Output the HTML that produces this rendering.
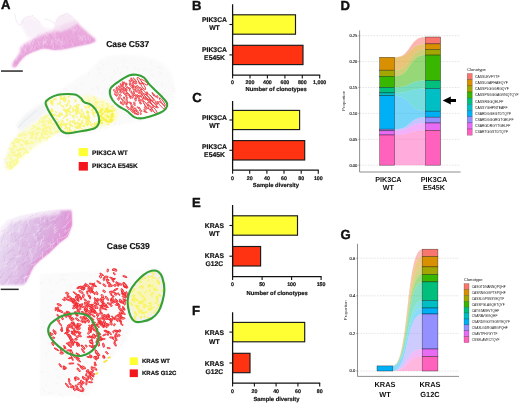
<!DOCTYPE html>
<html lang="en"><head><meta charset="utf-8"><title>Figure</title>
<style>html,body{margin:0;padding:0;background:#fff;}svg{display:block;}text{font-family:'Liberation Sans', Arial, Helvetica, sans-serif;text-rendering:geometricPrecision;}</style>
</head><body>
<svg width="520" height="403" viewBox="0 0 520 403">
<defs>
<filter id="b1" x="-10%" y="-10%" width="120%" height="120%"><feGaussianBlur stdDeviation="0.8"/></filter>
<filter id="b2" x="-10%" y="-10%" width="120%" height="120%"><feGaussianBlur stdDeviation="1.6"/></filter>
<filter id="b25" x="-20%" y="-20%" width="140%" height="140%"><feGaussianBlur stdDeviation="2.3"/></filter>
<filter id="b3" x="-20%" y="-20%" width="140%" height="140%"><feGaussianBlur stdDeviation="3"/></filter>
<filter id="b0" x="-10%" y="-10%" width="120%" height="120%"><feGaussianBlur stdDeviation="0.35"/></filter>
<linearGradient id="g537" x1="0" y1="0" x2="0" y2="1"><stop offset="0" stop-color="#fbf4fa"/><stop offset="0.3" stop-color="#efcdea"/><stop offset="0.6" stop-color="#e5aade"/><stop offset="1" stop-color="#e2a0d9"/></linearGradient>
<linearGradient id="g539" x1="0" y1="0" x2="1" y2="0.35"><stop offset="0" stop-color="#f2ecf9"/><stop offset="0.3" stop-color="#e4d0ed"/><stop offset="0.65" stop-color="#dcb2e1"/><stop offset="1" stop-color="#e190d5"/></linearGradient>
</defs>
<rect width="520" height="403" fill="#fff"/>
<text x="0.9" y="9.4" font-size="13.1" text-anchor="start" font-weight="bold" fill="#111" stroke="#111" stroke-width="0.4">A</text>
<clipPath id="c537"><path d="M12.8,67.2 C12.2,66.7 12.1,65.0 12.3,64.0 C12.5,63.0 13.2,62.2 14.0,61.0 C14.8,59.8 16.1,58.5 17.0,57.0 C17.9,55.5 19.2,53.8 19.6,52.0 C20.0,50.2 18.8,48.0 19.4,46.5 C20.0,45.0 21.2,44.1 23.1,42.7 C25.0,41.3 28.2,39.7 30.8,38.0 C33.4,36.3 35.6,34.1 38.5,32.5 C41.4,30.9 44.9,29.6 48.1,28.6 C51.3,27.6 54.8,27.5 57.7,26.6 C60.6,25.7 62.5,23.9 65.4,23.0 C68.3,22.1 72.4,20.4 75.0,21.0 C77.6,21.6 78.5,24.3 80.8,26.3 C83.0,28.3 86.0,30.9 88.5,33.1 C91.0,35.4 95.0,38.2 95.6,39.8 C96.2,41.4 94.8,41.7 92.3,42.7 C89.8,43.7 85.0,44.6 80.8,45.6 C76.6,46.6 71.5,47.8 67.3,48.5 C63.1,49.2 59.6,50.0 55.8,50.0 C51.9,50.0 47.7,48.3 44.2,48.5 C40.7,48.7 37.5,50.2 34.6,51.3 C31.7,52.3 29.0,53.6 27.0,54.8 C25.0,56.0 23.8,57.2 22.5,58.5 C21.2,59.8 20.1,61.1 19.0,62.5 C17.9,63.9 17.0,66.0 16.0,66.8 C15.0,67.6 13.4,67.7 12.8,67.2 Z"/></clipPath>
<g filter="url(#b1)">
<path d="M12.8,67.2 C12.2,66.7 12.1,65.0 12.3,64.0 C12.5,63.0 13.2,62.2 14.0,61.0 C14.8,59.8 16.1,58.5 17.0,57.0 C17.9,55.5 19.2,53.8 19.6,52.0 C20.0,50.2 18.8,48.0 19.4,46.5 C20.0,45.0 21.2,44.1 23.1,42.7 C25.0,41.3 28.2,39.7 30.8,38.0 C33.4,36.3 35.6,34.1 38.5,32.5 C41.4,30.9 44.9,29.6 48.1,28.6 C51.3,27.6 54.8,27.5 57.7,26.6 C60.6,25.7 62.5,23.9 65.4,23.0 C68.3,22.1 72.4,20.4 75.0,21.0 C77.6,21.6 78.5,24.3 80.8,26.3 C83.0,28.3 86.0,30.9 88.5,33.1 C91.0,35.4 95.0,38.2 95.6,39.8 C96.2,41.4 94.8,41.7 92.3,42.7 C89.8,43.7 85.0,44.6 80.8,45.6 C76.6,46.6 71.5,47.8 67.3,48.5 C63.1,49.2 59.6,50.0 55.8,50.0 C51.9,50.0 47.7,48.3 44.2,48.5 C40.7,48.7 37.5,50.2 34.6,51.3 C31.7,52.3 29.0,53.6 27.0,54.8 C25.0,56.0 23.8,57.2 22.5,58.5 C21.2,59.8 20.1,61.1 19.0,62.5 C17.9,63.9 17.0,66.0 16.0,66.8 C15.0,67.6 13.4,67.7 12.8,67.2 Z" fill="#eaaade"/>
</g>
<g filter="url(#b25)">
<path d="M12,48 L17.2,42.5 L21.1,38.7 L28.8,34.0 L36.5,28.5 L46.1,24.6 L53,23" fill="none" stroke="#fff" stroke-width="14" opacity="0.95" stroke-linejoin="round"/>
<path d="M50,21.5 L55.7,19.6 L63.4,16.0 L74,13.0 L80,13" fill="none" stroke="#fff" stroke-width="12" opacity="0.9" stroke-linejoin="round"/>
<path d="M28,36 L38.5,30 L52,27" fill="none" stroke="#fff" stroke-width="10" opacity="0.7" stroke-linecap="round"/>
<path d="M80,17 L86.8,23.3 L94.5,30.1" fill="none" stroke="#fff" stroke-width="8" opacity="0.6" stroke-linecap="round"/>
</g>
<g filter="url(#b2)" clip-path="url(#c537)">
<path d="M95,40.5 L92.3,42.7 L80.8,45.6 L67.3,48.5 L55.8,50 L44.2,48.5 L34.6,51.3 L27,54.8 L22.5,58.5 L19,62.5 L16,66.8" fill="none" stroke="#e293d5" stroke-width="4" opacity="0.6"/>
</g>
<g filter="url(#b1)">
<path d="M21.0,21.0 C22.0,18.7 27.2,17.0 30.0,17.0 C32.8,17.0 35.7,19.3 38.0,21.0 C40.3,22.7 42.0,25.7 44.0,27.0 C46.0,28.3 50.7,27.8 50.0,29.0 C49.3,30.2 43.3,32.5 40.0,34.0 C36.7,35.5 32.7,38.5 30.0,38.0 C27.3,37.5 25.5,33.8 24.0,31.0 C22.5,28.2 20.0,23.3 21.0,21.0 Z" fill="#f8eef7" opacity="0.8"/>
<path d="M55.0,24.0 C55.7,21.5 57.8,17.7 60.0,16.0 C62.2,14.3 65.7,13.5 68.0,14.0 C70.3,14.5 72.3,17.5 74.0,19.0 C75.7,20.5 79.3,21.2 78.0,23.0 C76.7,24.8 69.7,28.7 66.0,30.0 C62.3,31.3 57.8,32.0 56.0,31.0 C54.2,30.0 54.3,26.5 55.0,24.0 Z" fill="#f6e9f4" opacity="0.8"/>
</g>
<g filter="url(#b0)" fill="none" stroke="#efd3ea" stroke-width="0.5">
<path d="M14.5,13.5 C16,16 15,19 17,22 C18,25 21,26 22,23 C23,19 26,16 29,17 C32,16 34,14 33,17 C36,19 38,20 40,23"/>
<path d="M56,22 C57,18 60,15 63,16 C65,13 69,13 70,16 C73,16 74,19 75,21"/>
<path d="M44,20 C46,18 48,21 50,20 C52,23 55,22 56,25"/>
</g>
<g filter="url(#b0)" clip-path="url(#c537)">
<path d="M16.2,60.7Q16.7,61.9 17.7,62.6M27.4,47.9Q27.0,49.0 27.5,51.0M29.5,52.4Q29.4,53.7 29.5,55.4M32.6,47.5Q32.0,50.3 31.7,52.1M61.8,47.8Q60.7,49.9 59.6,51.8M35.5,40.2Q34.0,41.9 33.2,44.2M52.7,48.2Q52.8,49.3 53.2,50.2M55.2,49.5Q55.1,50.9 54.3,51.5M78.8,39.1Q78.2,39.8 78.6,41.4M14.4,61.4Q14.8,62.3 15.5,63.6M24.5,46.1Q23.9,47.8 22.6,49.2M34.1,37.9Q34.5,39.9 34.4,42.2M82.3,43.2Q83.9,45.2 85.1,46.5M93.2,39.3Q92.4,41.3 92.3,44.0M41.5,46.3Q41.1,47.3 40.4,48.1M41.8,42.2Q42.7,44.5 42.9,46.8M56.6,45.2Q57.0,46.9 58.4,48.0M26.7,42.9Q27.3,44.6 28.0,46.3M76.6,44.5Q75.6,46.5 74.7,48.3M54.4,44.7Q54.5,46.8 54.7,48.0M25.2,54.1Q25.1,54.9 24.2,56.3M91.6,39.4Q90.5,41.7 90.0,44.1M55.2,36.7Q54.5,38.2 54.7,39.6M77.2,33.5Q76.8,34.7 75.8,36.4M69.6,40.6Q69.8,42.6 69.3,45.5M84.2,42.0Q83.1,43.2 82.5,45.2M56.2,32.0Q56.7,32.7 57.9,33.8M36.5,44.1Q37.3,44.7 38.6,46.2M73.4,46.5Q72.2,48.3 71.8,49.5M48.3,43.9Q48.7,45.9 48.7,47.0M46.0,37.1Q47.0,37.7 47.6,38.9M68.2,34.0Q68.1,35.4 68.7,36.9M38.1,37.5Q38.3,38.7 38.6,40.6M31.7,48.1Q31.7,50.5 31.3,52.3M24.8,54.5Q24.8,55.6 24.0,56.5M23.9,45.2Q23.6,47.4 22.5,49.5M70.1,31.6Q70.0,33.1 70.8,33.9M54.2,45.7Q53.7,46.4 53.7,47.9M44.2,43.1Q44.2,44.9 44.0,47.4M36.5,44.9Q38.0,45.9 38.6,47.6M49.7,33.4Q51.0,35.1 52.2,37.6M49.8,35.0Q50.7,35.9 51.0,37.8M36.4,38.2Q36.3,40.6 36.4,43.2M20.8,59.6Q21.6,61.7 23.0,63.8M66.0,34.2Q67.4,36.0 68.9,38.0M33.8,47.3Q34.2,49.4 34.8,51.4M43.7,36.6Q42.6,37.8 42.3,39.1M33.0,39.5Q32.5,41.3 31.3,44.0M86.9,42.9Q87.6,44.2 87.5,44.8M25.2,45.1Q24.9,47.8 24.3,49.9M50.4,46.5Q51.8,48.5 52.5,50.3M33.3,50.4Q34.1,51.4 34.8,52.1M73.9,44.3Q75.1,46.3 75.7,48.9M89.9,36.2Q88.9,38.7 88.8,40.9M43.8,38.3Q44.5,39.0 45.7,40.0M80.8,41.0Q81.7,42.3 81.8,44.2M17.5,63.5Q16.5,65.2 15.7,67.4M38.7,33.7Q37.8,36.1 36.8,37.6M91.8,38.9Q92.4,40.2 92.2,42.1M62.9,36.1Q62.0,37.3 62.0,39.1M75.0,32.4Q74.9,34.0 75.1,34.5M71.4,41.6Q71.5,43.5 71.3,44.9M36.8,47.2Q37.6,48.7 38.9,50.8M60.5,36.1Q60.5,38.9 61.0,41.0M33.5,48.7Q34.3,49.8 35.4,50.5M70.2,39.9Q69.3,41.3 68.8,42.5M64.1,38.1Q64.7,39.7 65.1,40.4M45.6,44.9Q46.4,46.4 46.7,47.0M22.1,48.7Q22.8,50.6 23.6,52.3M49.5,41.3Q49.5,43.4 50.0,45.1M77.3,42.2Q78.0,43.4 79.4,44.9M77.1,44.6Q78.0,45.9 78.1,48.0M24.3,44.2Q24.8,45.2 25.4,46.6M21.9,45.5Q21.3,47.0 20.7,48.4M16.3,58.9Q15.4,60.7 14.3,62.2M63.6,41.0Q64.7,43.0 66.4,44.7M77.5,39.6Q77.4,40.4 77.3,41.6M46.1,32.0Q47.7,33.9 49.2,35.0M63.0,44.4Q64.0,46.1 65.4,48.1M16.3,62.1Q18.2,63.8 19.3,64.9M59.8,35.2Q61.5,36.3 62.3,38.1M89.7,36.9Q90.6,37.8 91.1,38.4M17.8,61.1Q19.0,62.6 20.8,64.9M15.2,60.2Q14.7,61.8 13.9,63.9M71.9,38.0Q72.6,40.6 72.5,42.9M19.9,58.9Q20.6,60.2 20.9,60.6M27.7,43.8Q29.1,45.7 29.7,47.9M30.2,53.3Q29.7,54.8 30.0,55.6M64.6,37.4Q63.5,39.3 63.3,40.3M31.8,42.3Q31.4,44.2 30.8,46.4M73.4,41.1Q74.3,42.5 75.8,44.2M87.9,40.9Q88.2,43.2 88.9,45.0M20.7,47.5Q21.1,49.9 21.2,51.7M29.8,52.6Q31.6,54.2 32.4,56.0M47.2,40.4Q47.6,42.0 48.5,43.2M65.1,42.7Q64.3,44.0 63.8,45.0M34.6,38.4Q35.0,40.0 36.3,41.2M37.4,43.2Q37.1,45.5 37.0,47.0M13.3,65.0Q13.8,65.8 15.0,67.1M77.0,37.0Q76.0,39.7 75.6,41.5M28.7,53.0Q29.6,55.1 29.6,57.1M23.9,43.8Q24.9,45.2 25.9,46.6M51.3,47.0Q51.9,49.6 52.6,51.3M54.8,43.4Q54.8,44.3 54.4,45.5M84.1,37.9Q83.3,39.6 83.2,41.4M47.5,46.6Q46.9,48.0 46.5,49.3M34.9,44.4Q34.2,46.1 33.8,48.2M37.2,48.1Q39.0,50.1 40.2,51.2M30.0,51.8Q31.0,53.0 32.7,55.2M88.8,41.6Q89.2,43.7 88.8,44.8" fill="none" stroke="#d877c8" stroke-width="0.5" stroke-linecap="round" opacity="0.33"/>
<path d="M51.9,40.1Q51.5,40.9 51.7,42.4M69.3,26.6Q71.2,28.1 72.4,30.4M71.4,42.3Q72.9,44.6 73.5,46.6M73.1,28.7Q72.9,30.8 73.7,33.2M60.2,41.3Q61.7,42.8 62.5,44.6M47.1,38.8Q46.4,40.8 45.0,42.6M81.2,36.3Q80.6,38.1 79.2,39.6M38.0,40.8Q38.9,43.1 39.4,45.3M34.2,40.5Q34.0,41.8 33.0,44.1M88.4,37.0Q88.8,37.9 88.5,39.3M31.8,49.0Q31.8,50.8 32.5,53.0M31.7,47.8Q30.8,49.9 29.8,52.1M61.4,29.7Q62.3,30.7 62.8,31.9M59.3,39.6Q59.9,41.5 61.4,42.5M25.3,48.6Q25.0,49.6 25.6,51.6M52.8,47.2Q52.4,49.0 52.1,49.9M84.8,42.2Q83.3,44.4 82.7,46.5M45.0,41.7Q44.9,42.5 43.8,43.9M24.4,55.9Q23.9,58.4 23.8,60.7M75.4,25.9Q75.7,27.2 76.8,28.5M24.2,52.3Q23.7,52.8 23.9,54.3M64.6,41.9Q64.1,43.5 63.7,44.8M58.4,27.7Q59.3,29.4 60.4,31.8M53.2,35.7Q55.1,37.1 56.1,39.4M29.9,43.1Q30.2,44.2 31.2,45.6M56.2,29.6Q55.2,31.1 54.7,32.6M19.6,49.1Q20.0,50.8 21.1,52.3M60.9,30.3Q60.5,31.6 60.4,32.5M16.9,58.5Q16.8,59.9 15.9,61.3M13.6,63.1Q12.7,64.3 12.3,66.2M81.6,38.0Q82.0,38.7 82.3,40.3M55.6,41.6Q56.9,43.3 57.8,44.4M84.4,35.8Q85.2,37.4 85.6,39.8M53.5,44.7Q53.2,47.0 53.8,48.3M20.3,53.3Q21.4,54.3 22.2,55.1M72.0,23.1Q72.2,24.0 72.3,25.4M23.7,48.3Q25.1,50.5 26.4,52.1M90.4,39.0Q89.9,40.4 89.3,42.0M40.5,32.1Q41.3,33.9 41.1,35.0M42.7,45.5Q42.9,46.1 43.1,47.7M35.1,46.1Q34.7,48.5 34.8,50.8M36.3,35.1Q37.5,37.1 38.6,38.2M55.1,33.4Q54.9,34.7 55.3,36.8M46.2,34.3Q47.1,35.7 47.9,36.4M63.1,47.3Q64.3,49.0 65.1,50.7M58.0,49.3Q58.3,50.6 59.2,52.5M55.0,38.7Q56.2,40.4 57.7,41.3M32.2,46.7Q33.4,48.1 33.6,49.9M76.6,28.3Q76.1,28.9 75.8,30.4M44.6,41.3Q45.6,43.4 47.2,44.6M73.8,28.1Q74.5,29.7 74.8,31.0M61.1,44.0Q61.1,46.7 61.2,48.9M43.9,41.9Q43.4,43.4 43.3,45.2M58.6,38.8Q58.5,40.2 57.7,41.6M49.3,29.5Q50.2,30.8 51.0,31.9M29.3,40.7Q30.6,42.4 32.7,44.0M76.7,45.9Q77.0,48.5 77.2,50.9M44.7,37.5Q45.8,39.5 46.0,41.1M43.5,39.5Q43.9,41.8 43.6,43.2M52.8,41.3Q51.6,43.0 50.7,44.6M80.3,28.9Q79.8,30.2 78.7,31.4M36.5,44.6Q37.1,46.3 38.3,47.6M62.5,37.3Q61.9,39.7 62.2,42.3M77.9,35.2Q79.2,36.9 80.9,38.0M28.7,44.0Q29.6,45.7 30.3,47.3M25.4,56.1Q25.8,57.0 26.8,57.9M41.4,41.8Q42.8,43.0 43.5,44.1M92.2,41.3Q92.7,43.5 94.0,44.8M83.5,35.5Q82.6,37.9 82.0,40.0M85.2,43.4Q85.9,45.2 87.2,47.3" fill="none" stroke="#f7e6f5" stroke-width="0.5" stroke-linecap="round" opacity="0.7"/>
</g>
<rect x="1" y="70.3" width="21.8" height="1.5" fill="#2a2a2a"/>
<text x="106.2" y="47.3" font-size="8.5" text-anchor="start" font-weight="bold" fill="#111" stroke="#111" stroke-width="0.18">Case C537</text>
<g filter="url(#b2)">
<path d="M5.0,168.0 C4.0,167.3 3.5,166.0 4.0,163.0 C4.5,160.0 6.7,153.8 8.0,150.0 C9.3,146.2 10.0,143.2 12.0,140.0 C14.0,136.8 17.0,134.2 20.0,131.0 C23.0,127.8 26.7,124.2 30.0,121.0 C33.3,117.8 37.0,114.8 40.0,112.0 C43.0,109.2 45.0,107.3 48.0,104.0 C51.0,100.7 54.0,95.7 58.0,92.0 C62.0,88.3 66.7,85.7 72.0,82.0 C77.3,78.3 85.3,73.7 90.0,70.0 C94.7,66.3 95.8,62.5 100.0,60.0 C104.2,57.5 108.3,55.7 115.0,55.0 C121.7,54.3 132.5,54.8 140.0,56.0 C147.5,57.2 154.7,58.8 160.0,62.0 C165.3,65.2 169.7,69.5 172.0,75.0 C174.3,80.5 174.7,89.5 174.0,95.0 C173.3,100.5 172.0,104.2 168.0,108.0 C164.0,111.8 155.5,115.7 150.0,118.0 C144.5,120.3 140.0,121.0 135.0,122.0 C130.0,123.0 125.8,122.7 120.0,124.0 C114.2,125.3 106.7,128.2 100.0,130.0 C93.3,131.8 86.7,133.8 80.0,135.0 C73.3,136.2 64.7,137.2 60.0,137.0 C55.3,136.8 55.3,133.2 52.0,134.0 C48.7,134.8 43.7,139.7 40.0,142.0 C36.3,144.3 33.3,145.7 30.0,148.0 C26.7,150.3 23.3,152.8 20.0,156.0 C16.7,159.2 12.5,165.0 10.0,167.0 C7.5,169.0 6.0,168.7 5.0,168.0 Z" fill="#fafafb"/>
</g>
<g filter="url(#b0)">
<path d="M53.4,118.5Q53.0,119.1 53.2,120.2M144.4,94.7Q144.7,94.7 146.1,95.9M124.0,65.5Q122.2,65.9 122.1,66.5M126.8,97.6Q129.4,98.8 129.9,100.0M26.3,134.8Q25.4,134.8 24.2,135.5M45.9,123.7Q44.0,124.2 44.0,124.5M96.2,85.6Q97.2,87.3 97.5,88.8M56.8,99.1Q58.4,99.1 58.3,100.0M116.7,67.3Q117.3,68.1 117.9,69.9M125.8,86.9Q125.3,88.2 123.4,87.6M150.4,69.9Q151.9,70.4 152.6,70.1M63.7,101.6Q62.2,103.7 61.9,104.2M63.9,126.1Q65.8,127.0 65.7,126.7M125.1,59.6Q125.1,59.5 126.5,60.4M56.9,127.1Q56.2,128.1 55.1,128.1M120.3,94.4Q120.3,94.3 119.0,95.2M11.3,151.5Q12.2,150.8 14.3,152.0M138.5,78.7Q136.2,80.6 135.9,81.4M144.9,86.8Q143.9,87.9 143.2,87.1M122.7,103.4Q120.5,104.3 120.0,104.0M141.0,84.5Q139.9,84.8 138.1,84.8M64.8,101.5Q64.5,102.8 66.0,103.2M118.0,81.9Q117.8,84.0 117.9,84.0M63.7,88.8Q65.6,89.2 67.1,90.4M142.6,117.0Q144.5,118.1 145.5,118.7M145.3,67.9Q145.1,67.9 146.2,69.9M123.3,105.6Q123.7,106.1 124.2,107.1M5.8,167.1Q8.0,168.7 9.1,168.0M99.8,67.3Q99.4,68.7 100.4,70.0M5.4,158.9Q5.8,160.7 4.2,161.8M161.5,74.0Q160.6,74.5 158.6,75.8M58.4,96.6Q59.8,97.3 59.6,99.3M88.9,72.8Q87.6,74.3 88.4,75.0M36.4,136.7Q36.6,137.7 35.1,137.4M76.3,87.0Q76.1,88.2 76.2,90.2M78.6,130.3Q76.1,130.3 75.2,131.3M79.3,118.7Q79.3,118.9 81.3,120.0M107.6,88.6Q106.1,89.1 104.7,89.0M36.1,131.7Q37.8,131.7 38.6,132.4M102.7,102.1Q102.2,102.5 102.2,104.8M97.2,67.7Q97.5,69.1 99.7,70.3M46.8,110.3Q48.0,110.3 48.9,112.2M91.2,121.5Q90.5,122.2 91.7,123.1M150.8,117.2Q148.7,119.5 148.4,119.5M126.7,66.5Q126.5,69.3 127.9,69.9M27.3,142.7Q27.6,142.1 28.5,143.8M105.0,79.1Q104.2,80.9 103.7,80.9M152.0,74.0Q153.5,75.9 153.6,76.9M144.4,68.9Q144.6,70.3 142.7,70.7M140.5,67.8Q138.9,68.7 138.5,71.0M102.8,67.8Q104.3,67.3 104.3,68.4M98.2,87.8Q98.0,90.2 99.4,90.8M70.7,108.8Q69.6,110.1 69.1,109.6M107.8,63.6Q109.7,64.5 109.7,65.0M65.4,107.9Q65.5,108.1 66.4,110.6M102.5,92.7Q103.7,92.4 102.7,94.3M28.8,130.8Q29.5,131.1 30.2,132.5M100.7,114.7Q97.7,114.9 96.8,114.8M111.9,96.0Q111.9,97.7 110.1,97.3M119.8,89.4Q118.7,90.9 117.5,91.8M63.6,117.2Q64.4,117.0 66.0,117.7M152.1,106.2Q151.3,106.7 151.5,108.8M103.2,64.0Q104.1,64.6 102.7,65.9M135.7,103.4Q137.4,104.7 139.2,104.2M49.6,134.6Q49.2,135.8 50.2,136.5M37.4,137.9Q35.8,140.5 36.2,141.6M152.8,93.6Q153.7,95.0 154.4,94.6M72.9,131.7Q73.9,130.8 75.2,132.1M110.5,92.8Q109.5,94.0 109.6,95.4M6.3,159.6Q3.8,159.9 3.4,159.7M127.1,92.2Q127.0,93.2 128.6,93.0M19.3,147.0Q19.3,148.4 19.0,149.5M115.8,123.0Q114.4,124.3 114.2,124.7M51.3,114.1Q51.9,114.9 54.8,115.7M89.3,117.7Q88.0,117.1 87.4,118.1M34.2,138.4Q34.7,140.0 37.5,140.2M88.8,126.9Q87.8,127.2 86.9,128.3M157.6,67.2Q159.6,67.3 160.9,67.9M150.9,61.8Q152.3,64.2 151.7,64.6M110.6,80.3Q111.2,80.5 112.1,81.9M38.5,140.8Q40.7,141.4 40.4,143.3M100.8,72.7Q98.6,74.0 97.5,74.2M143.9,86.9Q144.9,87.3 144.0,89.3M120.1,122.5Q120.7,123.1 119.4,125.1M154.2,95.7Q151.9,97.3 151.1,97.2M173.1,88.6Q175.0,87.7 174.6,89.2M159.0,72.0Q159.8,73.0 162.2,73.0M172.4,90.8Q174.1,90.6 175.9,92.1M120.5,71.7Q119.6,73.0 120.5,75.1M128.3,85.8Q128.0,85.5 129.6,87.3M90.5,101.1Q89.9,102.9 91.7,103.7M115.0,116.5Q115.4,118.6 113.4,118.8M126.0,100.1Q127.4,101.0 126.6,102.3M69.5,101.3Q67.4,101.6 67.7,101.3M161.5,83.8Q161.4,84.5 162.6,86.6M23.7,150.3Q21.0,151.2 20.4,151.2M59.1,128.0Q61.1,128.0 60.7,130.4M90.7,121.9Q92.5,123.9 93.7,124.6M68.4,135.5Q68.6,137.1 68.2,138.0M58.8,126.1Q60.1,126.4 60.9,127.9M158.5,108.5Q158.3,109.5 158.3,111.8M93.9,114.2Q92.1,114.2 91.5,115.8M143.7,107.0Q143.3,108.7 141.1,108.6M92.6,106.2Q94.1,107.4 93.2,107.8M80.4,109.1Q78.3,110.7 77.8,111.5M66.4,113.8Q66.4,114.5 67.2,115.8M101.0,61.5Q99.8,61.9 99.8,63.0M150.0,77.8Q149.3,78.3 148.0,79.3M66.4,135.5Q67.1,137.3 67.1,137.7M63.9,98.5Q61.7,100.0 61.0,99.2M125.0,97.1Q124.8,99.1 126.6,99.8M68.5,114.4Q67.8,113.7 65.9,115.3M104.8,107.3Q103.4,107.8 102.4,108.5M155.4,104.7Q156.1,106.5 155.3,107.4M129.9,100.4Q129.6,101.7 129.0,101.7M134.9,68.3Q136.6,67.6 136.9,68.8M19.0,140.1Q20.9,140.9 21.9,140.6M121.5,102.2Q120.8,103.1 118.5,102.2M172.1,86.0Q172.1,87.8 173.3,87.8M98.5,112.7Q99.3,113.8 101.0,113.1M67.5,107.5Q66.9,109.5 66.8,110.1M57.4,115.2Q56.7,115.9 56.9,117.7M139.3,87.9Q138.2,88.8 136.7,89.8M162.9,105.3Q164.6,105.9 166.6,105.9M12.3,152.5Q11.3,154.3 11.8,154.1M88.7,131.1Q89.0,133.2 90.6,133.7M20.2,143.6Q21.1,144.9 21.2,147.4M122.3,59.7Q122.7,61.3 124.4,62.6M58.2,118.3Q56.9,119.4 56.4,118.9M29.8,145.3Q29.4,146.9 31.1,149.1M112.9,80.2Q114.2,81.2 115.7,81.1M77.1,131.7Q75.4,133.2 75.5,132.6M93.5,87.9Q92.6,89.7 91.8,89.5M95.9,65.0Q97.5,66.5 97.1,66.4M168.5,93.9Q166.5,95.2 166.6,97.3M80.4,83.0Q82.5,83.4 83.3,84.7M114.0,69.9Q114.3,71.6 115.3,72.5M164.1,92.5Q162.4,92.3 160.7,93.9M20.0,154.3Q20.1,154.3 20.0,156.1M95.0,112.3Q95.8,112.3 97.0,113.7M152.2,111.7Q155.1,111.8 155.9,111.9M138.5,119.5Q140.3,119.7 140.9,121.6M70.9,113.5Q68.8,114.1 68.8,114.3M43.8,122.3Q41.7,123.0 41.6,125.0M5.8,161.3Q5.2,161.9 6.6,163.7M138.6,109.2Q138.5,110.7 136.5,111.0M112.2,77.5Q111.5,77.2 109.5,78.9M126.0,94.5Q125.4,95.2 124.1,94.7M26.9,148.6Q25.7,150.0 23.3,149.7M137.9,83.5Q138.5,84.6 140.6,85.9" fill="none" stroke="#e9e9ec" stroke-width="0.5" stroke-linecap="round" opacity="0.7"/>
</g>
<path d="M16,125 L24,116 L34,108 L44,102 L48,108 L41,117 L31,124 L21,132 Z" fill="#f4f4f6" filter="url(#b2)"/>
<path d="M18,128 L24,121 L30,116 L37,110" fill="none" stroke="#bfe3df" stroke-width="0.5"/>
<g filter="url(#b2)">
<path d="M5.0,168.6 C4.1,167.0 5.2,162.3 5.6,160.0 C6.0,157.7 6.5,157.9 7.4,155.0 C8.3,152.1 9.0,146.4 11.2,142.8 C13.4,139.2 17.4,136.3 20.5,133.5 C23.6,130.7 26.7,128.2 29.8,126.0 C32.9,123.8 36.2,122.5 39.0,120.5 C41.8,118.5 44.8,114.4 46.6,114.0 C48.4,113.6 48.4,116.0 50.0,118.0 C51.6,120.0 54.3,123.8 56.0,126.0 C57.7,128.2 60.3,129.6 60.0,131.0 C59.7,132.4 56.9,132.7 54.0,134.5 C51.1,136.3 46.5,139.5 42.8,142.0 C39.1,144.5 35.1,146.6 31.7,149.4 C28.3,152.2 25.7,155.3 22.3,158.7 C18.9,162.0 14.1,167.8 11.2,169.5 C8.3,171.2 5.9,170.2 5.0,168.6 Z" fill="#fcfbb4" opacity="0.6"/>
<path d="M82.0,97.0 C82.5,95.8 85.5,94.8 88.0,95.0 C90.5,95.2 94.0,97.0 97.0,98.0 C100.0,99.0 103.5,99.8 106.0,101.0 C108.5,102.2 110.0,103.2 112.0,105.0 C114.0,106.8 117.2,109.7 118.0,112.0 C118.8,114.3 118.3,117.0 117.0,119.0 C115.7,121.0 112.8,122.7 110.0,124.0 C107.2,125.3 102.3,126.2 100.0,127.0 C97.7,127.8 96.2,129.5 96.0,129.0 C95.8,128.5 98.4,126.0 99.0,124.0 C99.6,122.0 100.0,119.3 99.5,117.0 C99.0,114.7 97.4,112.0 96.0,110.0 C94.6,108.0 92.8,106.2 91.0,105.0 C89.2,103.8 86.5,103.8 85.0,102.5 C83.5,101.2 81.5,98.2 82.0,97.0 Z" fill="#fcfbc0" opacity="0.8"/>
</g>
<path d="M45.7,102.2 C46.2,100.8 47.8,99.3 49.8,98.1 C51.8,96.9 55.0,95.5 58.0,94.8 C61.0,94.1 64.8,94.0 67.8,94.0 C70.8,94.0 73.8,94.1 76.0,94.8 C78.2,95.5 79.5,96.9 80.8,98.1 C82.1,99.3 82.4,101.1 84.1,102.2 C85.8,103.3 88.8,103.4 90.7,104.6 C92.6,105.8 94.2,107.5 95.6,109.5 C96.9,111.5 98.3,114.6 98.8,116.9 C99.3,119.2 99.5,121.5 98.8,123.4 C98.1,125.3 97.2,127.1 94.7,128.3 C92.2,129.5 87.8,130.1 84.1,130.8 C80.4,131.5 75.7,132.3 72.7,132.7 C69.7,133.1 68.0,133.5 66.1,133.2 C64.2,132.9 63.0,132.7 61.2,130.8 C59.4,128.9 57.4,124.8 55.5,121.8 C53.6,118.8 51.3,115.4 49.8,112.8 C48.3,110.2 47.2,108.0 46.5,106.2 C45.8,104.4 45.2,103.6 45.7,102.2 Z" fill="#fbfbf4"/>
<g filter="url(#b0)">
<g fill="#faf88a" stroke="#f9f65a" stroke-width="0.6" opacity="0.62"><ellipse cx="18.0" cy="141.3" rx="1.4" ry="0.6" transform="rotate(-51 18.0 141.3)"/><ellipse cx="50.4" cy="136.5" rx="0.7" ry="0.6" transform="rotate(-84 50.4 136.5)"/><ellipse cx="51.0" cy="132.8" rx="1.1" ry="0.6" transform="rotate(-39 51.0 132.8)"/><ellipse cx="11.1" cy="159.1" rx="1.0" ry="0.6" transform="rotate(-44 11.1 159.1)"/><ellipse cx="30.2" cy="132.6" rx="0.8" ry="0.5" transform="rotate(-4 30.2 132.6)"/><ellipse cx="19.9" cy="152.9" rx="1.0" ry="0.6" transform="rotate(-93 19.9 152.9)"/><ellipse cx="49.4" cy="120.7" rx="1.2" ry="0.4" transform="rotate(-27 49.4 120.7)"/><ellipse cx="15.4" cy="160.1" rx="0.7" ry="0.5" transform="rotate(-66 15.4 160.1)"/><ellipse cx="49.5" cy="127.9" rx="0.9" ry="0.4" transform="rotate(-126 49.5 127.9)"/><ellipse cx="33.3" cy="134.9" rx="1.4" ry="0.7" transform="rotate(-70 33.3 134.9)"/><ellipse cx="39.3" cy="138.6" rx="1.5" ry="0.5" transform="rotate(-74 39.3 138.6)"/><ellipse cx="25.7" cy="143.0" rx="1.2" ry="0.7" transform="rotate(-95 25.7 143.0)"/><ellipse cx="32.4" cy="134.2" rx="1.5" ry="0.4" transform="rotate(-5 32.4 134.2)"/><ellipse cx="35.7" cy="138.8" rx="1.3" ry="0.7" transform="rotate(-100 35.7 138.8)"/><ellipse cx="12.5" cy="166.9" rx="1.4" ry="0.4" transform="rotate(-91 12.5 166.9)"/><ellipse cx="20.4" cy="156.3" rx="0.9" ry="0.5" transform="rotate(-72 20.4 156.3)"/><ellipse cx="42.2" cy="135.1" rx="1.5" ry="0.6" transform="rotate(-54 42.2 135.1)"/><ellipse cx="13.9" cy="145.9" rx="1.3" ry="0.6" transform="rotate(-75 13.9 145.9)"/><ellipse cx="13.9" cy="155.0" rx="0.8" ry="0.5" transform="rotate(-4 13.9 155.0)"/><ellipse cx="19.3" cy="135.9" rx="0.9" ry="0.7" transform="rotate(-27 19.3 135.9)"/><ellipse cx="47.8" cy="131.5" rx="0.7" ry="0.6" transform="rotate(-98 47.8 131.5)"/><ellipse cx="20.1" cy="134.1" rx="1.4" ry="0.5" transform="rotate(-29 20.1 134.1)"/><ellipse cx="20.9" cy="149.0" rx="0.8" ry="0.6" transform="rotate(43 20.9 149.0)"/><ellipse cx="36.2" cy="133.6" rx="1.4" ry="0.4" transform="rotate(-18 36.2 133.6)"/><ellipse cx="42.3" cy="136.9" rx="1.3" ry="0.4" transform="rotate(-63 42.3 136.9)"/><ellipse cx="45.8" cy="133.0" rx="1.0" ry="0.6" transform="rotate(22 45.8 133.0)"/><ellipse cx="27.7" cy="141.9" rx="1.4" ry="0.6" transform="rotate(-81 27.7 141.9)"/><ellipse cx="36.6" cy="129.2" rx="1.4" ry="0.6" transform="rotate(-62 36.6 129.2)"/><ellipse cx="51.1" cy="122.4" rx="1.2" ry="0.6" transform="rotate(-138 51.1 122.4)"/><ellipse cx="38.7" cy="129.3" rx="0.7" ry="0.6" transform="rotate(-40 38.7 129.3)"/><ellipse cx="50.3" cy="129.2" rx="0.8" ry="0.4" transform="rotate(17 50.3 129.2)"/><ellipse cx="24.8" cy="152.8" rx="0.7" ry="0.6" transform="rotate(-2 24.8 152.8)"/><ellipse cx="39.6" cy="121.7" rx="0.8" ry="0.4" transform="rotate(-95 39.6 121.7)"/><ellipse cx="50.5" cy="120.1" rx="0.8" ry="0.6" transform="rotate(-21 50.5 120.1)"/><ellipse cx="23.7" cy="132.4" rx="1.1" ry="0.4" transform="rotate(-32 23.7 132.4)"/><ellipse cx="47.8" cy="115.6" rx="1.1" ry="0.5" transform="rotate(-70 47.8 115.6)"/><ellipse cx="27.0" cy="142.4" rx="1.1" ry="0.4" transform="rotate(62 27.0 142.4)"/><ellipse cx="30.0" cy="133.0" rx="0.8" ry="0.5" transform="rotate(-152 30.0 133.0)"/><ellipse cx="43.7" cy="124.9" rx="0.8" ry="0.5" transform="rotate(-77 43.7 124.9)"/><ellipse cx="44.6" cy="117.5" rx="0.8" ry="0.4" transform="rotate(-158 44.6 117.5)"/><ellipse cx="39.7" cy="128.6" rx="0.9" ry="0.4" transform="rotate(-136 39.7 128.6)"/><ellipse cx="50.2" cy="121.1" rx="0.7" ry="0.5" transform="rotate(-145 50.2 121.1)"/><ellipse cx="32.9" cy="125.6" rx="0.8" ry="0.4" transform="rotate(21 32.9 125.6)"/><ellipse cx="51.3" cy="121.4" rx="0.6" ry="0.4" transform="rotate(-79 51.3 121.4)"/><ellipse cx="37.2" cy="135.0" rx="0.6" ry="0.6" transform="rotate(-29 37.2 135.0)"/><ellipse cx="7.4" cy="163.3" rx="1.1" ry="0.4" transform="rotate(-90 7.4 163.3)"/><ellipse cx="22.8" cy="148.7" rx="1.4" ry="0.5" transform="rotate(-60 22.8 148.7)"/><ellipse cx="16.0" cy="139.3" rx="1.1" ry="0.6" transform="rotate(-64 16.0 139.3)"/><ellipse cx="43.9" cy="138.4" rx="0.7" ry="0.6" transform="rotate(9 43.9 138.4)"/><ellipse cx="27.0" cy="151.3" rx="1.2" ry="0.4" transform="rotate(-23 27.0 151.3)"/><ellipse cx="45.8" cy="116.1" rx="0.7" ry="0.7" transform="rotate(-36 45.8 116.1)"/><ellipse cx="10.7" cy="168.0" rx="1.2" ry="0.4" transform="rotate(-52 10.7 168.0)"/><ellipse cx="49.4" cy="123.0" rx="1.1" ry="0.4" transform="rotate(-18 49.4 123.0)"/><ellipse cx="49.0" cy="118.3" rx="0.6" ry="0.5" transform="rotate(-134 49.0 118.3)"/><ellipse cx="21.0" cy="136.0" rx="0.6" ry="0.6" transform="rotate(45 21.0 136.0)"/><ellipse cx="11.7" cy="150.1" rx="0.8" ry="0.5" transform="rotate(-27 11.7 150.1)"/><ellipse cx="11.1" cy="168.2" rx="1.1" ry="0.5" transform="rotate(22 11.1 168.2)"/><ellipse cx="21.6" cy="156.3" rx="0.7" ry="0.6" transform="rotate(1 21.6 156.3)"/><ellipse cx="11.3" cy="152.4" rx="1.1" ry="0.5" transform="rotate(-85 11.3 152.4)"/><ellipse cx="53.3" cy="124.0" rx="1.4" ry="0.5" transform="rotate(-27 53.3 124.0)"/><ellipse cx="43.9" cy="128.0" rx="0.9" ry="0.5" transform="rotate(-49 43.9 128.0)"/><ellipse cx="55.6" cy="132.2" rx="1.3" ry="0.6" transform="rotate(-22 55.6 132.2)"/><ellipse cx="50.4" cy="131.4" rx="1.2" ry="0.5" transform="rotate(-156 50.4 131.4)"/><ellipse cx="13.9" cy="143.5" rx="1.2" ry="0.5" transform="rotate(-68 13.9 143.5)"/><ellipse cx="19.3" cy="153.7" rx="1.5" ry="0.4" transform="rotate(-105 19.3 153.7)"/><ellipse cx="46.4" cy="127.8" rx="0.8" ry="0.4" transform="rotate(-14 46.4 127.8)"/><ellipse cx="43.0" cy="125.6" rx="0.8" ry="0.7" transform="rotate(-78 43.0 125.6)"/><ellipse cx="43.2" cy="130.9" rx="0.7" ry="0.4" transform="rotate(-88 43.2 130.9)"/><ellipse cx="42.8" cy="129.2" rx="1.3" ry="0.4" transform="rotate(-9 42.8 129.2)"/><ellipse cx="27.5" cy="152.3" rx="1.0" ry="0.6" transform="rotate(-17 27.5 152.3)"/><ellipse cx="10.2" cy="165.7" rx="0.9" ry="0.6" transform="rotate(44 10.2 165.7)"/><ellipse cx="17.4" cy="161.5" rx="1.3" ry="0.6" transform="rotate(-24 17.4 161.5)"/><ellipse cx="15.4" cy="164.2" rx="0.7" ry="0.6" transform="rotate(-98 15.4 164.2)"/><ellipse cx="10.3" cy="168.5" rx="0.9" ry="0.6" transform="rotate(-75 10.3 168.5)"/><ellipse cx="36.3" cy="126.4" rx="0.7" ry="0.4" transform="rotate(-26 36.3 126.4)"/><ellipse cx="44.7" cy="121.7" rx="1.3" ry="0.4" transform="rotate(-59 44.7 121.7)"/><ellipse cx="25.1" cy="143.0" rx="0.7" ry="0.4" transform="rotate(-29 25.1 143.0)"/><ellipse cx="25.1" cy="149.6" rx="1.0" ry="0.7" transform="rotate(-76 25.1 149.6)"/><ellipse cx="51.0" cy="127.0" rx="0.6" ry="0.5" transform="rotate(-2 51.0 127.0)"/><ellipse cx="44.1" cy="119.2" rx="0.7" ry="0.5" transform="rotate(-6 44.1 119.2)"/><ellipse cx="17.2" cy="155.3" rx="1.1" ry="0.7" transform="rotate(48 17.2 155.3)"/><ellipse cx="11.1" cy="166.4" rx="1.1" ry="0.4" transform="rotate(-61 11.1 166.4)"/><ellipse cx="14.4" cy="162.0" rx="0.8" ry="0.4" transform="rotate(-50 14.4 162.0)"/><ellipse cx="41.5" cy="134.0" rx="0.7" ry="0.7" transform="rotate(63 41.5 134.0)"/><ellipse cx="34.5" cy="127.0" rx="1.0" ry="0.6" transform="rotate(-55 34.5 127.0)"/><ellipse cx="31.2" cy="142.4" rx="1.5" ry="0.5" transform="rotate(-61 31.2 142.4)"/><ellipse cx="16.9" cy="160.3" rx="0.8" ry="0.7" transform="rotate(-72 16.9 160.3)"/><ellipse cx="57.9" cy="131.9" rx="1.0" ry="0.5" transform="rotate(-31 57.9 131.9)"/><ellipse cx="38.4" cy="128.3" rx="1.0" ry="0.5" transform="rotate(-46 38.4 128.3)"/><ellipse cx="12.5" cy="143.0" rx="1.1" ry="0.7" transform="rotate(-64 12.5 143.0)"/><ellipse cx="14.2" cy="146.5" rx="1.0" ry="0.5" transform="rotate(11 14.2 146.5)"/><ellipse cx="18.4" cy="150.5" rx="1.1" ry="0.6" transform="rotate(-84 18.4 150.5)"/><ellipse cx="15.0" cy="152.4" rx="0.8" ry="0.4" transform="rotate(-77 15.0 152.4)"/><ellipse cx="42.3" cy="118.1" rx="1.3" ry="0.6" transform="rotate(1 42.3 118.1)"/><ellipse cx="48.2" cy="126.9" rx="1.0" ry="0.7" transform="rotate(-28 48.2 126.9)"/><ellipse cx="17.8" cy="154.8" rx="0.9" ry="0.6" transform="rotate(5 17.8 154.8)"/><ellipse cx="47.2" cy="121.1" rx="0.8" ry="0.4" transform="rotate(-41 47.2 121.1)"/><ellipse cx="36.7" cy="133.7" rx="1.2" ry="0.5" transform="rotate(-28 36.7 133.7)"/><ellipse cx="14.6" cy="140.7" rx="0.6" ry="0.6" transform="rotate(-17 14.6 140.7)"/><ellipse cx="47.1" cy="130.7" rx="0.8" ry="0.6" transform="rotate(-3 47.1 130.7)"/><ellipse cx="33.7" cy="131.8" rx="1.0" ry="0.5" transform="rotate(-41 33.7 131.8)"/><ellipse cx="10.0" cy="148.6" rx="1.2" ry="0.4" transform="rotate(-25 10.0 148.6)"/><ellipse cx="23.8" cy="141.3" rx="0.8" ry="0.7" transform="rotate(-54 23.8 141.3)"/><ellipse cx="13.5" cy="152.4" rx="0.9" ry="0.6" transform="rotate(-46 13.5 152.4)"/><ellipse cx="17.6" cy="158.2" rx="1.3" ry="0.4" transform="rotate(-66 17.6 158.2)"/><ellipse cx="48.5" cy="126.8" rx="0.7" ry="0.6" transform="rotate(-56 48.5 126.8)"/><ellipse cx="15.6" cy="146.3" rx="0.7" ry="0.6" transform="rotate(-38 15.6 146.3)"/><ellipse cx="28.3" cy="143.6" rx="1.3" ry="0.4" transform="rotate(-5 28.3 143.6)"/><ellipse cx="44.8" cy="126.3" rx="0.9" ry="0.6" transform="rotate(-63 44.8 126.3)"/><ellipse cx="54.6" cy="125.4" rx="0.9" ry="0.6" transform="rotate(-99 54.6 125.4)"/><ellipse cx="17.4" cy="156.8" rx="1.3" ry="0.6" transform="rotate(39 17.4 156.8)"/><ellipse cx="44.7" cy="117.1" rx="1.1" ry="0.4" transform="rotate(-61 44.7 117.1)"/><ellipse cx="13.3" cy="165.7" rx="1.4" ry="0.5" transform="rotate(-33 13.3 165.7)"/><ellipse cx="32.9" cy="142.9" rx="0.9" ry="0.6" transform="rotate(-18 32.9 142.9)"/><ellipse cx="26.3" cy="140.8" rx="0.8" ry="0.6" transform="rotate(-33 26.3 140.8)"/><ellipse cx="47.4" cy="134.6" rx="1.0" ry="0.7" transform="rotate(-1 47.4 134.6)"/><ellipse cx="40.0" cy="129.5" rx="0.6" ry="0.7" transform="rotate(-20 40.0 129.5)"/><ellipse cx="30.6" cy="148.4" rx="0.9" ry="0.4" transform="rotate(-53 30.6 148.4)"/><ellipse cx="20.8" cy="156.6" rx="0.7" ry="0.4" transform="rotate(-15 20.8 156.6)"/><ellipse cx="47.1" cy="137.6" rx="0.9" ry="0.4" transform="rotate(-28 47.1 137.6)"/><ellipse cx="20.9" cy="139.8" rx="1.2" ry="0.6" transform="rotate(-19 20.9 139.8)"/><ellipse cx="49.7" cy="132.8" rx="0.8" ry="0.4" transform="rotate(-18 49.7 132.8)"/><ellipse cx="13.2" cy="161.4" rx="0.9" ry="0.4" transform="rotate(-41 13.2 161.4)"/><ellipse cx="50.0" cy="128.8" rx="0.9" ry="0.5" transform="rotate(-82 50.0 128.8)"/><ellipse cx="24.4" cy="135.0" rx="0.7" ry="0.4" transform="rotate(-0 24.4 135.0)"/><ellipse cx="46.6" cy="127.6" rx="1.4" ry="0.6" transform="rotate(-65 46.6 127.6)"/><ellipse cx="18.9" cy="150.4" rx="0.9" ry="0.6" transform="rotate(-2 18.9 150.4)"/><ellipse cx="12.6" cy="166.1" rx="1.3" ry="0.6" transform="rotate(2 12.6 166.1)"/><ellipse cx="30.1" cy="132.8" rx="1.3" ry="0.6" transform="rotate(-18 30.1 132.8)"/><ellipse cx="6.4" cy="158.2" rx="0.8" ry="0.4" transform="rotate(-63 6.4 158.2)"/><ellipse cx="8.7" cy="155.1" rx="0.8" ry="0.5" transform="rotate(-107 8.7 155.1)"/><ellipse cx="57.5" cy="131.2" rx="1.2" ry="0.7" transform="rotate(8 57.5 131.2)"/><ellipse cx="45.4" cy="131.3" rx="1.4" ry="0.6" transform="rotate(8 45.4 131.3)"/><ellipse cx="31.6" cy="137.1" rx="1.4" ry="0.6" transform="rotate(-2 31.6 137.1)"/><ellipse cx="43.3" cy="120.9" rx="1.4" ry="0.4" transform="rotate(-81 43.3 120.9)"/><ellipse cx="44.5" cy="137.8" rx="0.7" ry="0.5" transform="rotate(-66 44.5 137.8)"/><ellipse cx="17.0" cy="163.0" rx="1.5" ry="0.5" transform="rotate(-93 17.0 163.0)"/><ellipse cx="45.3" cy="124.4" rx="1.1" ry="0.5" transform="rotate(9 45.3 124.4)"/><ellipse cx="41.8" cy="122.0" rx="1.5" ry="0.7" transform="rotate(-116 41.8 122.0)"/><ellipse cx="15.1" cy="164.5" rx="1.1" ry="0.6" transform="rotate(-71 15.1 164.5)"/><ellipse cx="52.8" cy="134.1" rx="1.4" ry="0.4" transform="rotate(13 52.8 134.1)"/><ellipse cx="12.9" cy="149.0" rx="1.3" ry="0.5" transform="rotate(-32 12.9 149.0)"/><ellipse cx="38.1" cy="128.4" rx="0.8" ry="0.5" transform="rotate(-91 38.1 128.4)"/><ellipse cx="23.7" cy="153.8" rx="1.3" ry="0.4" transform="rotate(-44 23.7 153.8)"/><ellipse cx="19.1" cy="142.7" rx="0.8" ry="0.6" transform="rotate(-15 19.1 142.7)"/><ellipse cx="44.1" cy="129.1" rx="1.4" ry="0.7" transform="rotate(-58 44.1 129.1)"/><ellipse cx="7.9" cy="166.4" rx="1.0" ry="0.4" transform="rotate(34 7.9 166.4)"/><ellipse cx="42.3" cy="121.9" rx="1.0" ry="0.6" transform="rotate(-5 42.3 121.9)"/><ellipse cx="47.2" cy="127.6" rx="0.8" ry="0.4" transform="rotate(-94 47.2 127.6)"/><ellipse cx="31.4" cy="138.4" rx="1.5" ry="0.5" transform="rotate(-6 31.4 138.4)"/><ellipse cx="15.9" cy="146.9" rx="0.7" ry="0.4" transform="rotate(24 15.9 146.9)"/><ellipse cx="24.5" cy="137.6" rx="0.9" ry="0.6" transform="rotate(-8 24.5 137.6)"/><ellipse cx="45.1" cy="133.7" rx="1.2" ry="0.7" transform="rotate(-80 45.1 133.7)"/><ellipse cx="21.4" cy="144.8" rx="1.2" ry="0.6" transform="rotate(-12 21.4 144.8)"/><ellipse cx="42.2" cy="132.9" rx="1.5" ry="0.5" transform="rotate(-64 42.2 132.9)"/><ellipse cx="11.3" cy="163.8" rx="1.3" ry="0.4" transform="rotate(-23 11.3 163.8)"/><ellipse cx="22.8" cy="140.6" rx="1.0" ry="0.5" transform="rotate(-6 22.8 140.6)"/><ellipse cx="40.2" cy="140.5" rx="0.9" ry="0.5" transform="rotate(-66 40.2 140.5)"/><ellipse cx="26.3" cy="134.1" rx="1.4" ry="0.5" transform="rotate(-47 26.3 134.1)"/><ellipse cx="50.2" cy="122.9" rx="1.2" ry="0.4" transform="rotate(1 50.2 122.9)"/><ellipse cx="49.3" cy="122.2" rx="0.8" ry="0.4" transform="rotate(-47 49.3 122.2)"/><ellipse cx="15.6" cy="155.5" rx="1.4" ry="0.5" transform="rotate(34 15.6 155.5)"/><ellipse cx="10.1" cy="162.4" rx="1.3" ry="0.6" transform="rotate(-27 10.1 162.4)"/><ellipse cx="39.7" cy="120.2" rx="0.7" ry="0.4" transform="rotate(-42 39.7 120.2)"/><ellipse cx="45.5" cy="117.3" rx="1.1" ry="0.6" transform="rotate(8 45.5 117.3)"/><ellipse cx="38.1" cy="132.7" rx="1.0" ry="0.7" transform="rotate(-30 38.1 132.7)"/><ellipse cx="48.9" cy="137.0" rx="1.2" ry="0.5" transform="rotate(-46 48.9 137.0)"/><ellipse cx="22.4" cy="134.9" rx="0.8" ry="0.7" transform="rotate(-87 22.4 134.9)"/><ellipse cx="42.8" cy="131.7" rx="1.3" ry="0.4" transform="rotate(-61 42.8 131.7)"/><ellipse cx="9.6" cy="165.6" rx="1.3" ry="0.4" transform="rotate(-57 9.6 165.6)"/><ellipse cx="9.8" cy="157.1" rx="0.7" ry="0.4" transform="rotate(30 9.8 157.1)"/><ellipse cx="19.1" cy="154.5" rx="1.2" ry="0.4" transform="rotate(21 19.1 154.5)"/><ellipse cx="16.8" cy="150.3" rx="0.9" ry="0.5" transform="rotate(56 16.8 150.3)"/><ellipse cx="46.7" cy="139.3" rx="1.4" ry="0.5" transform="rotate(-93 46.7 139.3)"/><ellipse cx="11.5" cy="155.6" rx="0.7" ry="0.6" transform="rotate(89 11.5 155.6)"/><ellipse cx="12.2" cy="149.3" rx="0.9" ry="0.4" transform="rotate(5 12.2 149.3)"/><ellipse cx="45.1" cy="133.0" rx="1.4" ry="0.4" transform="rotate(15 45.1 133.0)"/><ellipse cx="32.5" cy="132.7" rx="0.7" ry="0.7" transform="rotate(24 32.5 132.7)"/><ellipse cx="17.8" cy="139.7" rx="1.3" ry="0.7" transform="rotate(-16 17.8 139.7)"/><ellipse cx="32.1" cy="128.9" rx="0.9" ry="0.5" transform="rotate(-53 32.1 128.9)"/><ellipse cx="13.9" cy="163.2" rx="0.9" ry="0.7" transform="rotate(-15 13.9 163.2)"/><ellipse cx="26.2" cy="144.4" rx="0.9" ry="0.4" transform="rotate(-43 26.2 144.4)"/><ellipse cx="20.6" cy="148.9" rx="1.1" ry="0.7" transform="rotate(-57 20.6 148.9)"/><ellipse cx="41.8" cy="134.0" rx="1.1" ry="0.5" transform="rotate(-80 41.8 134.0)"/><ellipse cx="16.3" cy="142.2" rx="0.7" ry="0.6" transform="rotate(-74 16.3 142.2)"/><ellipse cx="22.2" cy="145.6" rx="0.6" ry="0.5" transform="rotate(-101 22.2 145.6)"/><ellipse cx="50.8" cy="119.6" rx="1.4" ry="0.4" transform="rotate(0 50.8 119.6)"/><ellipse cx="27.3" cy="152.7" rx="0.7" ry="0.6" transform="rotate(-78 27.3 152.7)"/><ellipse cx="46.0" cy="129.0" rx="0.7" ry="0.5" transform="rotate(-100 46.0 129.0)"/><ellipse cx="13.9" cy="154.3" rx="1.1" ry="0.5" transform="rotate(-137 13.9 154.3)"/><ellipse cx="54.5" cy="128.2" rx="0.7" ry="0.4" transform="rotate(-4 54.5 128.2)"/><ellipse cx="49.0" cy="122.9" rx="1.1" ry="0.6" transform="rotate(9 49.0 122.9)"/><ellipse cx="35.8" cy="136.9" rx="1.1" ry="0.4" transform="rotate(5 35.8 136.9)"/><ellipse cx="18.0" cy="156.0" rx="0.8" ry="0.6" transform="rotate(-23 18.0 156.0)"/><ellipse cx="31.3" cy="135.5" rx="0.9" ry="0.6" transform="rotate(-28 31.3 135.5)"/><ellipse cx="38.2" cy="124.0" rx="0.7" ry="0.4" transform="rotate(27 38.2 124.0)"/><ellipse cx="40.7" cy="137.5" rx="0.9" ry="0.5" transform="rotate(-8 40.7 137.5)"/><ellipse cx="43.8" cy="137.8" rx="0.7" ry="0.4" transform="rotate(-53 43.8 137.8)"/><ellipse cx="11.7" cy="161.0" rx="1.2" ry="0.4" transform="rotate(-51 11.7 161.0)"/><ellipse cx="32.9" cy="132.6" rx="0.7" ry="0.6" transform="rotate(-51 32.9 132.6)"/></g>
<g fill="#faf88a" stroke="#f9f65a" stroke-width="0.6" opacity="0.7"><ellipse cx="107.8" cy="112.4" rx="0.8" ry="0.6" transform="rotate(-44 107.8 112.4)"/><ellipse cx="96.3" cy="101.7" rx="0.7" ry="0.6" transform="rotate(45 96.3 101.7)"/><ellipse cx="106.8" cy="109.6" rx="0.7" ry="0.4" transform="rotate(-118 106.8 109.6)"/><ellipse cx="100.1" cy="111.6" rx="0.8" ry="0.6" transform="rotate(-20 100.1 111.6)"/><ellipse cx="99.8" cy="122.5" rx="0.9" ry="0.7" transform="rotate(38 99.8 122.5)"/><ellipse cx="107.1" cy="114.7" rx="1.5" ry="0.4" transform="rotate(-31 107.1 114.7)"/><ellipse cx="107.7" cy="122.2" rx="0.7" ry="0.5" transform="rotate(74 107.7 122.2)"/><ellipse cx="108.0" cy="106.8" rx="1.2" ry="0.5" transform="rotate(37 108.0 106.8)"/><ellipse cx="107.6" cy="104.4" rx="1.5" ry="0.5" transform="rotate(37 107.6 104.4)"/><ellipse cx="108.1" cy="124.4" rx="1.2" ry="0.4" transform="rotate(18 108.1 124.4)"/><ellipse cx="113.4" cy="119.4" rx="0.7" ry="0.5" transform="rotate(15 113.4 119.4)"/><ellipse cx="102.4" cy="101.7" rx="1.1" ry="0.5" transform="rotate(14 102.4 101.7)"/><ellipse cx="94.1" cy="107.7" rx="1.1" ry="0.6" transform="rotate(24 94.1 107.7)"/><ellipse cx="100.1" cy="112.1" rx="1.0" ry="0.6" transform="rotate(54 100.1 112.1)"/><ellipse cx="107.3" cy="121.6" rx="1.1" ry="0.4" transform="rotate(66 107.3 121.6)"/><ellipse cx="95.5" cy="104.9" rx="1.0" ry="0.6" transform="rotate(-8 95.5 104.9)"/><ellipse cx="111.5" cy="111.4" rx="1.3" ry="0.4" transform="rotate(-24 111.5 111.4)"/><ellipse cx="109.2" cy="119.9" rx="0.8" ry="0.4" transform="rotate(30 109.2 119.9)"/><ellipse cx="110.2" cy="117.3" rx="1.2" ry="0.6" transform="rotate(4 110.2 117.3)"/><ellipse cx="100.9" cy="117.8" rx="1.5" ry="0.6" transform="rotate(-17 100.9 117.8)"/><ellipse cx="108.5" cy="111.6" rx="0.9" ry="0.4" transform="rotate(-55 108.5 111.6)"/><ellipse cx="113.2" cy="109.9" rx="1.0" ry="0.5" transform="rotate(23 113.2 109.9)"/><ellipse cx="114.1" cy="109.5" rx="0.8" ry="0.6" transform="rotate(1 114.1 109.5)"/><ellipse cx="114.5" cy="109.9" rx="1.0" ry="0.6" transform="rotate(34 114.5 109.9)"/><ellipse cx="96.0" cy="107.9" rx="0.6" ry="0.5" transform="rotate(20 96.0 107.9)"/><ellipse cx="106.5" cy="116.2" rx="0.8" ry="0.4" transform="rotate(-24 106.5 116.2)"/><ellipse cx="106.3" cy="115.8" rx="0.9" ry="0.4" transform="rotate(79 106.3 115.8)"/><ellipse cx="102.7" cy="105.9" rx="0.6" ry="0.5" transform="rotate(-62 102.7 105.9)"/><ellipse cx="105.2" cy="115.5" rx="1.1" ry="0.4" transform="rotate(26 105.2 115.5)"/><ellipse cx="97.0" cy="107.3" rx="1.4" ry="0.4" transform="rotate(56 97.0 107.3)"/><ellipse cx="103.1" cy="107.8" rx="0.6" ry="0.6" transform="rotate(31 103.1 107.8)"/><ellipse cx="109.9" cy="111.3" rx="1.5" ry="0.4" transform="rotate(-17 109.9 111.3)"/><ellipse cx="95.7" cy="102.7" rx="1.2" ry="0.6" transform="rotate(49 95.7 102.7)"/><ellipse cx="109.1" cy="110.0" rx="1.5" ry="0.4" transform="rotate(-31 109.1 110.0)"/><ellipse cx="98.6" cy="102.2" rx="0.6" ry="0.4" transform="rotate(54 98.6 102.2)"/><ellipse cx="97.6" cy="112.3" rx="0.9" ry="0.6" transform="rotate(41 97.6 112.3)"/><ellipse cx="99.8" cy="107.6" rx="1.4" ry="0.4" transform="rotate(48 99.8 107.6)"/><ellipse cx="102.3" cy="104.7" rx="0.7" ry="0.7" transform="rotate(-13 102.3 104.7)"/><ellipse cx="95.3" cy="98.9" rx="1.2" ry="0.5" transform="rotate(-2 95.3 98.9)"/><ellipse cx="112.4" cy="106.5" rx="1.0" ry="0.7" transform="rotate(53 112.4 106.5)"/><ellipse cx="95.0" cy="108.7" rx="0.7" ry="0.6" transform="rotate(-8 95.0 108.7)"/><ellipse cx="96.6" cy="102.9" rx="1.3" ry="0.5" transform="rotate(-26 96.6 102.9)"/><ellipse cx="111.9" cy="107.7" rx="1.3" ry="0.4" transform="rotate(39 111.9 107.7)"/><ellipse cx="106.6" cy="118.0" rx="1.0" ry="0.5" transform="rotate(132 106.6 118.0)"/><ellipse cx="89.1" cy="100.9" rx="1.2" ry="0.6" transform="rotate(14 89.1 100.9)"/><ellipse cx="101.7" cy="116.0" rx="1.3" ry="0.6" transform="rotate(83 101.7 116.0)"/><ellipse cx="111.9" cy="114.3" rx="1.3" ry="0.5" transform="rotate(-98 111.9 114.3)"/><ellipse cx="111.6" cy="117.2" rx="0.7" ry="0.6" transform="rotate(56 111.6 117.2)"/><ellipse cx="114.0" cy="110.0" rx="1.3" ry="0.6" transform="rotate(-72 114.0 110.0)"/><ellipse cx="94.1" cy="97.2" rx="0.7" ry="0.6" transform="rotate(-1 94.1 97.2)"/></g>
<g fill="#f8f45a" stroke="#f7f135" stroke-width="0.7" opacity="0.95"><ellipse cx="100.9" cy="110.6" rx="1.2" ry="0.7" transform="rotate(77 100.9 110.6)"/><ellipse cx="106.0" cy="120.7" rx="1.2" ry="1.0" transform="rotate(-7 106.0 120.7)"/><ellipse cx="112.0" cy="119.7" rx="1.2" ry="0.6" transform="rotate(55 112.0 119.7)"/><ellipse cx="108.8" cy="121.8" rx="1.1" ry="0.9" transform="rotate(6 108.8 121.8)"/><ellipse cx="106.4" cy="120.6" rx="1.3" ry="0.7" transform="rotate(45 106.4 120.6)"/><ellipse cx="110.9" cy="121.3" rx="1.2" ry="0.9" transform="rotate(17 110.9 121.3)"/><ellipse cx="105.3" cy="111.6" rx="1.2" ry="1.0" transform="rotate(-0 105.3 111.6)"/><ellipse cx="111.1" cy="119.9" rx="1.7" ry="0.7" transform="rotate(48 111.1 119.9)"/><ellipse cx="102.4" cy="113.6" rx="1.5" ry="0.9" transform="rotate(-6 102.4 113.6)"/><ellipse cx="101.5" cy="122.7" rx="1.4" ry="0.8" transform="rotate(42 101.5 122.7)"/><ellipse cx="111.6" cy="111.2" rx="1.5" ry="0.7" transform="rotate(28 111.6 111.2)"/><ellipse cx="103.4" cy="118.2" rx="1.4" ry="0.8" transform="rotate(11 103.4 118.2)"/><ellipse cx="108.3" cy="111.5" rx="1.3" ry="0.6" transform="rotate(30 108.3 111.5)"/><ellipse cx="112.3" cy="116.8" rx="1.5" ry="0.9" transform="rotate(2 112.3 116.8)"/><ellipse cx="101.0" cy="120.4" rx="1.2" ry="0.9" transform="rotate(33 101.0 120.4)"/><ellipse cx="112.0" cy="115.0" rx="1.5" ry="1.0" transform="rotate(-19 112.0 115.0)"/><ellipse cx="102.0" cy="109.6" rx="1.3" ry="0.8" transform="rotate(35 102.0 109.6)"/><ellipse cx="112.9" cy="114.2" rx="1.1" ry="0.7" transform="rotate(39 112.9 114.2)"/><ellipse cx="108.2" cy="111.0" rx="1.4" ry="0.8" transform="rotate(-9 108.2 111.0)"/><ellipse cx="108.1" cy="116.6" rx="1.2" ry="0.9" transform="rotate(35 108.1 116.6)"/><ellipse cx="103.9" cy="119.6" rx="1.2" ry="0.8" transform="rotate(6 103.9 119.6)"/><ellipse cx="106.7" cy="109.0" rx="1.5" ry="0.9" transform="rotate(1 106.7 109.0)"/><ellipse cx="101.5" cy="116.8" rx="1.5" ry="0.6" transform="rotate(54 101.5 116.8)"/><ellipse cx="99.8" cy="112.0" rx="1.1" ry="0.7" transform="rotate(-26 99.8 112.0)"/><ellipse cx="100.4" cy="115.8" rx="1.2" ry="0.7" transform="rotate(-4 100.4 115.8)"/><ellipse cx="111.6" cy="119.6" rx="1.1" ry="0.7" transform="rotate(30 111.6 119.6)"/></g>
<g fill="#faf780" stroke="#f8f245" stroke-width="0.65" opacity="0.85"><ellipse cx="67.6" cy="130.5" rx="1.1" ry="0.3" transform="rotate(113 67.6 130.5)"/><ellipse cx="69.1" cy="111.1" rx="1.7" ry="0.5" transform="rotate(69 69.1 111.1)"/><ellipse cx="67.3" cy="119.9" rx="1.3" ry="0.5" transform="rotate(81 67.3 119.9)"/><ellipse cx="65.3" cy="128.5" rx="0.8" ry="0.5" transform="rotate(117 65.3 128.5)"/><ellipse cx="79.3" cy="127.0" rx="0.9" ry="0.4" transform="rotate(69 79.3 127.0)"/><ellipse cx="56.6" cy="119.2" rx="1.5" ry="0.3" transform="rotate(35 56.6 119.2)"/><ellipse cx="60.9" cy="125.0" rx="1.4" ry="0.6" transform="rotate(115 60.9 125.0)"/><ellipse cx="65.3" cy="101.0" rx="1.3" ry="0.4" transform="rotate(111 65.3 101.0)"/><ellipse cx="52.2" cy="114.5" rx="1.9" ry="0.4" transform="rotate(61 52.2 114.5)"/><ellipse cx="80.0" cy="126.6" rx="1.6" ry="0.4" transform="rotate(88 80.0 126.6)"/><ellipse cx="69.5" cy="128.3" rx="1.3" ry="0.6" transform="rotate(78 69.5 128.3)"/><ellipse cx="73.3" cy="110.7" rx="1.8" ry="0.4" transform="rotate(96 73.3 110.7)"/><ellipse cx="75.5" cy="110.3" rx="1.3" ry="0.6" transform="rotate(68 75.5 110.3)"/><ellipse cx="61.7" cy="122.1" rx="1.2" ry="0.3" transform="rotate(116 61.7 122.1)"/><ellipse cx="70.8" cy="94.6" rx="1.0" ry="0.3" transform="rotate(96 70.8 94.6)"/><ellipse cx="67.8" cy="103.9" rx="1.7" ry="0.3" transform="rotate(90 67.8 103.9)"/><ellipse cx="77.4" cy="127.8" rx="0.8" ry="0.5" transform="rotate(41 77.4 127.8)"/><ellipse cx="60.5" cy="113.5" rx="1.3" ry="0.4" transform="rotate(56 60.5 113.5)"/><ellipse cx="76.8" cy="105.7" rx="1.5" ry="0.3" transform="rotate(91 76.8 105.7)"/><ellipse cx="72.5" cy="122.2" rx="1.2" ry="0.6" transform="rotate(48 72.5 122.2)"/><ellipse cx="88.9" cy="118.0" rx="1.9" ry="0.5" transform="rotate(94 88.9 118.0)"/><ellipse cx="56.0" cy="112.1" rx="0.9" ry="0.5" transform="rotate(46 56.0 112.1)"/><ellipse cx="51.2" cy="112.6" rx="1.5" ry="0.3" transform="rotate(107 51.2 112.6)"/><ellipse cx="66.5" cy="110.7" rx="1.6" ry="0.6" transform="rotate(148 66.5 110.7)"/><ellipse cx="96.9" cy="124.5" rx="1.3" ry="0.6" transform="rotate(83 96.9 124.5)"/><ellipse cx="83.7" cy="130.8" rx="1.8" ry="0.4" transform="rotate(127 83.7 130.8)"/><ellipse cx="87.5" cy="112.6" rx="1.2" ry="0.6" transform="rotate(111 87.5 112.6)"/><ellipse cx="81.2" cy="100.7" rx="1.4" ry="0.4" transform="rotate(34 81.2 100.7)"/><ellipse cx="63.6" cy="98.0" rx="1.6" ry="0.4" transform="rotate(95 63.6 98.0)"/><ellipse cx="90.8" cy="105.9" rx="1.2" ry="0.3" transform="rotate(59 90.8 105.9)"/><ellipse cx="68.8" cy="108.9" rx="1.7" ry="0.4" transform="rotate(153 68.8 108.9)"/><ellipse cx="57.8" cy="103.9" rx="0.9" ry="0.5" transform="rotate(80 57.8 103.9)"/><ellipse cx="76.6" cy="113.8" rx="1.1" ry="0.6" transform="rotate(20 76.6 113.8)"/><ellipse cx="83.5" cy="125.7" rx="1.4" ry="0.6" transform="rotate(142 83.5 125.7)"/><ellipse cx="53.9" cy="115.2" rx="1.2" ry="0.4" transform="rotate(71 53.9 115.2)"/><ellipse cx="87.1" cy="118.6" rx="1.8" ry="0.6" transform="rotate(44 87.1 118.6)"/><ellipse cx="65.4" cy="98.0" rx="1.6" ry="0.6" transform="rotate(54 65.4 98.0)"/><ellipse cx="95.5" cy="124.5" rx="1.3" ry="0.6" transform="rotate(47 95.5 124.5)"/><ellipse cx="82.0" cy="129.0" rx="0.9" ry="0.5" transform="rotate(45 82.0 129.0)"/><ellipse cx="87.8" cy="118.8" rx="1.9" ry="0.4" transform="rotate(141 87.8 118.8)"/><ellipse cx="49.7" cy="111.7" rx="1.3" ry="0.4" transform="rotate(109 49.7 111.7)"/><ellipse cx="90.8" cy="124.6" rx="1.0" ry="0.4" transform="rotate(72 90.8 124.6)"/><ellipse cx="63.5" cy="94.5" rx="0.8" ry="0.4" transform="rotate(103 63.5 94.5)"/><ellipse cx="76.8" cy="116.8" rx="1.2" ry="0.4" transform="rotate(42 76.8 116.8)"/><ellipse cx="88.2" cy="117.4" rx="1.4" ry="0.6" transform="rotate(128 88.2 117.4)"/><ellipse cx="89.6" cy="129.1" rx="1.4" ry="0.4" transform="rotate(76 89.6 129.1)"/><ellipse cx="61.4" cy="123.8" rx="1.1" ry="0.5" transform="rotate(114 61.4 123.8)"/><ellipse cx="94.2" cy="116.2" rx="0.8" ry="0.5" transform="rotate(64 94.2 116.2)"/><ellipse cx="75.0" cy="122.5" rx="1.5" ry="0.5" transform="rotate(57 75.0 122.5)"/><ellipse cx="80.1" cy="125.4" rx="1.2" ry="0.4" transform="rotate(54 80.1 125.4)"/><ellipse cx="83.1" cy="114.7" rx="1.1" ry="0.5" transform="rotate(128 83.1 114.7)"/><ellipse cx="73.1" cy="109.1" rx="1.7" ry="0.4" transform="rotate(66 73.1 109.1)"/><ellipse cx="75.4" cy="124.3" rx="0.8" ry="0.4" transform="rotate(13 75.4 124.3)"/><ellipse cx="66.8" cy="115.5" rx="0.8" ry="0.4" transform="rotate(83 66.8 115.5)"/><ellipse cx="54.0" cy="99.2" rx="1.6" ry="0.5" transform="rotate(117 54.0 99.2)"/><ellipse cx="95.6" cy="125.8" rx="0.8" ry="0.6" transform="rotate(116 95.6 125.8)"/><ellipse cx="86.4" cy="124.3" rx="1.7" ry="0.6" transform="rotate(55 86.4 124.3)"/><ellipse cx="82.0" cy="120.8" rx="1.4" ry="0.4" transform="rotate(128 82.0 120.8)"/><ellipse cx="59.1" cy="115.3" rx="1.7" ry="0.6" transform="rotate(82 59.1 115.3)"/><ellipse cx="87.0" cy="124.0" rx="0.9" ry="0.4" transform="rotate(124 87.0 124.0)"/><ellipse cx="86.7" cy="112.3" rx="0.9" ry="0.3" transform="rotate(46 86.7 112.3)"/><ellipse cx="92.1" cy="110.0" rx="0.8" ry="0.4" transform="rotate(128 92.1 110.0)"/><ellipse cx="58.6" cy="124.9" rx="1.7" ry="0.5" transform="rotate(76 58.6 124.9)"/><ellipse cx="66.1" cy="105.5" rx="1.6" ry="0.4" transform="rotate(66 66.1 105.5)"/><ellipse cx="79.6" cy="112.8" rx="1.8" ry="0.6" transform="rotate(45 79.6 112.8)"/><ellipse cx="68.7" cy="132.8" rx="1.2" ry="0.6" transform="rotate(92 68.7 132.8)"/><ellipse cx="93.1" cy="108.7" rx="1.5" ry="0.6" transform="rotate(117 93.1 108.7)"/><ellipse cx="62.0" cy="114.2" rx="1.3" ry="0.5" transform="rotate(61 62.0 114.2)"/><ellipse cx="94.9" cy="112.7" rx="0.9" ry="0.6" transform="rotate(43 94.9 112.7)"/><ellipse cx="67.6" cy="132.8" rx="1.7" ry="0.6" transform="rotate(35 67.6 132.8)"/><ellipse cx="65.6" cy="126.5" rx="1.6" ry="0.5" transform="rotate(64 65.6 126.5)"/><ellipse cx="88.2" cy="122.7" rx="1.9" ry="0.4" transform="rotate(90 88.2 122.7)"/><ellipse cx="65.6" cy="110.3" rx="1.8" ry="0.6" transform="rotate(62 65.6 110.3)"/><ellipse cx="73.3" cy="116.9" rx="1.9" ry="0.4" transform="rotate(60 73.3 116.9)"/><ellipse cx="64.3" cy="110.4" rx="1.8" ry="0.5" transform="rotate(51 64.3 110.4)"/><ellipse cx="69.4" cy="132.4" rx="1.0" ry="0.3" transform="rotate(72 69.4 132.4)"/><ellipse cx="87.1" cy="111.3" rx="1.4" ry="0.3" transform="rotate(119 87.1 111.3)"/><ellipse cx="89.2" cy="105.8" rx="1.4" ry="0.5" transform="rotate(97 89.2 105.8)"/><ellipse cx="78.9" cy="104.9" rx="1.0" ry="0.4" transform="rotate(102 78.9 104.9)"/><ellipse cx="69.8" cy="122.0" rx="1.7" ry="0.5" transform="rotate(128 69.8 122.0)"/><ellipse cx="81.4" cy="114.9" rx="0.9" ry="0.4" transform="rotate(87 81.4 114.9)"/><ellipse cx="91.8" cy="124.7" rx="1.1" ry="0.4" transform="rotate(135 91.8 124.7)"/><ellipse cx="64.3" cy="123.8" rx="1.7" ry="0.6" transform="rotate(19 64.3 123.8)"/><ellipse cx="66.3" cy="124.2" rx="1.0" ry="0.6" transform="rotate(138 66.3 124.2)"/><ellipse cx="74.9" cy="123.6" rx="0.8" ry="0.6" transform="rotate(87 74.9 123.6)"/><ellipse cx="81.0" cy="124.0" rx="1.3" ry="0.6" transform="rotate(112 81.0 124.0)"/><ellipse cx="77.4" cy="122.6" rx="1.1" ry="0.4" transform="rotate(102 77.4 122.6)"/><ellipse cx="84.4" cy="116.6" rx="1.6" ry="0.3" transform="rotate(95 84.4 116.6)"/><ellipse cx="60.0" cy="128.7" rx="1.1" ry="0.6" transform="rotate(68 60.0 128.7)"/><ellipse cx="63.2" cy="106.6" rx="1.2" ry="0.6" transform="rotate(46 63.2 106.6)"/><ellipse cx="60.2" cy="102.3" rx="1.2" ry="0.3" transform="rotate(90 60.2 102.3)"/><ellipse cx="76.4" cy="111.5" rx="1.4" ry="0.6" transform="rotate(100 76.4 111.5)"/><ellipse cx="87.7" cy="116.0" rx="1.1" ry="0.3" transform="rotate(110 87.7 116.0)"/><ellipse cx="68.3" cy="132.5" rx="1.6" ry="0.3" transform="rotate(54 68.3 132.5)"/><ellipse cx="60.3" cy="98.6" rx="1.4" ry="0.4" transform="rotate(84 60.3 98.6)"/><ellipse cx="78.8" cy="127.8" rx="1.0" ry="0.6" transform="rotate(68 78.8 127.8)"/><ellipse cx="70.7" cy="130.5" rx="1.2" ry="0.6" transform="rotate(39 70.7 130.5)"/><ellipse cx="74.7" cy="130.9" rx="1.7" ry="0.6" transform="rotate(142 74.7 130.9)"/><ellipse cx="85.5" cy="117.6" rx="1.9" ry="0.3" transform="rotate(90 85.5 117.6)"/><ellipse cx="62.6" cy="120.8" rx="1.6" ry="0.3" transform="rotate(35 62.6 120.8)"/><ellipse cx="88.3" cy="112.5" rx="1.1" ry="0.5" transform="rotate(113 88.3 112.5)"/><ellipse cx="81.7" cy="110.7" rx="1.8" ry="0.6" transform="rotate(85 81.7 110.7)"/><ellipse cx="84.3" cy="117.8" rx="1.8" ry="0.5" transform="rotate(37 84.3 117.8)"/><ellipse cx="60.1" cy="95.6" rx="1.9" ry="0.6" transform="rotate(51 60.1 95.6)"/><ellipse cx="81.0" cy="116.9" rx="1.2" ry="0.6" transform="rotate(110 81.0 116.9)"/><ellipse cx="90.4" cy="122.7" rx="1.5" ry="0.5" transform="rotate(81 90.4 122.7)"/><ellipse cx="92.2" cy="110.5" rx="1.0" ry="0.5" transform="rotate(58 92.2 110.5)"/><ellipse cx="93.0" cy="114.0" rx="1.9" ry="0.4" transform="rotate(50 93.0 114.0)"/><ellipse cx="62.3" cy="98.9" rx="0.8" ry="0.6" transform="rotate(22 62.3 98.9)"/><ellipse cx="82.7" cy="122.6" rx="1.1" ry="0.6" transform="rotate(86 82.7 122.6)"/><ellipse cx="56.6" cy="115.7" rx="1.6" ry="0.4" transform="rotate(50 56.6 115.7)"/><ellipse cx="52.0" cy="102.2" rx="1.6" ry="0.6" transform="rotate(125 52.0 102.2)"/><ellipse cx="80.1" cy="124.6" rx="1.4" ry="0.6" transform="rotate(55 80.1 124.6)"/><ellipse cx="77.0" cy="113.4" rx="1.4" ry="0.3" transform="rotate(47 77.0 113.4)"/><ellipse cx="68.3" cy="110.5" rx="1.4" ry="0.4" transform="rotate(57 68.3 110.5)"/><ellipse cx="65.4" cy="132.1" rx="0.8" ry="0.6" transform="rotate(99 65.4 132.1)"/><ellipse cx="66.7" cy="111.6" rx="1.2" ry="0.4" transform="rotate(138 66.7 111.6)"/><ellipse cx="70.4" cy="106.7" rx="1.8" ry="0.6" transform="rotate(86 70.4 106.7)"/><ellipse cx="88.0" cy="112.4" rx="1.0" ry="0.6" transform="rotate(117 88.0 112.4)"/><ellipse cx="98.0" cy="122.0" rx="0.9" ry="0.3" transform="rotate(37 98.0 122.0)"/><ellipse cx="88.7" cy="120.1" rx="1.8" ry="0.6" transform="rotate(70 88.7 120.1)"/><ellipse cx="77.0" cy="110.5" rx="1.8" ry="0.6" transform="rotate(71 77.0 110.5)"/><ellipse cx="52.2" cy="103.0" rx="1.4" ry="0.4" transform="rotate(31 52.2 103.0)"/><ellipse cx="63.3" cy="131.0" rx="1.1" ry="0.5" transform="rotate(100 63.3 131.0)"/><ellipse cx="51.6" cy="110.1" rx="1.5" ry="0.4" transform="rotate(95 51.6 110.1)"/><ellipse cx="75.5" cy="100.7" rx="1.5" ry="0.6" transform="rotate(83 75.5 100.7)"/><ellipse cx="60.3" cy="124.7" rx="1.1" ry="0.5" transform="rotate(95 60.3 124.7)"/><ellipse cx="55.9" cy="99.2" rx="1.1" ry="0.4" transform="rotate(71 55.9 99.2)"/><ellipse cx="66.8" cy="124.3" rx="1.2" ry="0.6" transform="rotate(80 66.8 124.3)"/><ellipse cx="73.6" cy="120.7" rx="1.1" ry="0.3" transform="rotate(159 73.6 120.7)"/><ellipse cx="70.2" cy="114.6" rx="1.0" ry="0.4" transform="rotate(65 70.2 114.6)"/><ellipse cx="68.7" cy="96.7" rx="1.0" ry="0.6" transform="rotate(48 68.7 96.7)"/><ellipse cx="74.9" cy="106.8" rx="1.1" ry="0.4" transform="rotate(51 74.9 106.8)"/><ellipse cx="87.6" cy="121.4" rx="1.5" ry="0.3" transform="rotate(122 87.6 121.4)"/><ellipse cx="48.1" cy="100.4" rx="1.4" ry="0.6" transform="rotate(54 48.1 100.4)"/><ellipse cx="85.7" cy="107.4" rx="1.9" ry="0.4" transform="rotate(65 85.7 107.4)"/><ellipse cx="61.5" cy="98.0" rx="1.7" ry="0.6" transform="rotate(53 61.5 98.0)"/><ellipse cx="60.7" cy="104.7" rx="1.9" ry="0.3" transform="rotate(46 60.7 104.7)"/><ellipse cx="78.2" cy="107.7" rx="1.3" ry="0.6" transform="rotate(80 78.2 107.7)"/><ellipse cx="79.1" cy="119.8" rx="1.0" ry="0.6" transform="rotate(97 79.1 119.8)"/><ellipse cx="51.6" cy="100.8" rx="1.3" ry="0.5" transform="rotate(37 51.6 100.8)"/><ellipse cx="93.2" cy="112.4" rx="1.7" ry="0.3" transform="rotate(65 93.2 112.4)"/><ellipse cx="61.3" cy="127.4" rx="0.9" ry="0.5" transform="rotate(88 61.3 127.4)"/><ellipse cx="62.6" cy="99.2" rx="1.2" ry="0.3" transform="rotate(52 62.6 99.2)"/><ellipse cx="66.1" cy="115.6" rx="1.2" ry="0.6" transform="rotate(102 66.1 115.6)"/><ellipse cx="94.6" cy="124.0" rx="1.7" ry="0.5" transform="rotate(94 94.6 124.0)"/><ellipse cx="51.9" cy="104.0" rx="1.8" ry="0.4" transform="rotate(50 51.9 104.0)"/><ellipse cx="87.9" cy="125.2" rx="1.1" ry="0.4" transform="rotate(100 87.9 125.2)"/><ellipse cx="86.1" cy="121.2" rx="1.1" ry="0.4" transform="rotate(96 86.1 121.2)"/><ellipse cx="88.8" cy="107.3" rx="1.3" ry="0.6" transform="rotate(53 88.8 107.3)"/><ellipse cx="67.1" cy="127.8" rx="1.4" ry="0.4" transform="rotate(71 67.1 127.8)"/><ellipse cx="88.2" cy="106.0" rx="1.0" ry="0.6" transform="rotate(139 88.2 106.0)"/><ellipse cx="73.8" cy="115.7" rx="1.2" ry="0.5" transform="rotate(135 73.8 115.7)"/><ellipse cx="79.7" cy="125.6" rx="1.8" ry="0.3" transform="rotate(115 79.7 125.6)"/><ellipse cx="53.8" cy="114.8" rx="0.9" ry="0.5" transform="rotate(119 53.8 114.8)"/><ellipse cx="66.8" cy="112.8" rx="1.9" ry="0.6" transform="rotate(52 66.8 112.8)"/><ellipse cx="71.5" cy="125.3" rx="1.8" ry="0.5" transform="rotate(45 71.5 125.3)"/><ellipse cx="88.4" cy="114.7" rx="0.8" ry="0.6" transform="rotate(91 88.4 114.7)"/><ellipse cx="83.6" cy="113.2" rx="0.9" ry="0.4" transform="rotate(68 83.6 113.2)"/><ellipse cx="76.0" cy="106.6" rx="1.3" ry="0.3" transform="rotate(28 76.0 106.6)"/><ellipse cx="94.0" cy="126.9" rx="1.3" ry="0.4" transform="rotate(59 94.0 126.9)"/><ellipse cx="84.3" cy="126.4" rx="0.9" ry="0.4" transform="rotate(64 84.3 126.4)"/><ellipse cx="52.4" cy="110.6" rx="1.7" ry="0.6" transform="rotate(84 52.4 110.6)"/><ellipse cx="46.9" cy="104.7" rx="1.4" ry="0.4" transform="rotate(100 46.9 104.7)"/><ellipse cx="81.5" cy="116.0" rx="1.1" ry="0.6" transform="rotate(63 81.5 116.0)"/><ellipse cx="70.7" cy="112.2" rx="0.8" ry="0.5" transform="rotate(38 70.7 112.2)"/><ellipse cx="92.4" cy="127.5" rx="1.3" ry="0.4" transform="rotate(74 92.4 127.5)"/><ellipse cx="64.2" cy="117.4" rx="1.7" ry="0.4" transform="rotate(127 64.2 117.4)"/><ellipse cx="77.0" cy="126.4" rx="1.4" ry="0.6" transform="rotate(147 77.0 126.4)"/><ellipse cx="74.1" cy="131.5" rx="0.8" ry="0.6" transform="rotate(73 74.1 131.5)"/><ellipse cx="59.7" cy="116.0" rx="1.4" ry="0.6" transform="rotate(136 59.7 116.0)"/><ellipse cx="59.3" cy="126.2" rx="1.2" ry="0.6" transform="rotate(61 59.3 126.2)"/><ellipse cx="58.3" cy="121.8" rx="0.9" ry="0.6" transform="rotate(120 58.3 121.8)"/><ellipse cx="64.2" cy="99.6" rx="1.9" ry="0.6" transform="rotate(99 64.2 99.6)"/><ellipse cx="70.1" cy="125.1" rx="1.8" ry="0.5" transform="rotate(75 70.1 125.1)"/><ellipse cx="97.8" cy="122.6" rx="1.7" ry="0.4" transform="rotate(114 97.8 122.6)"/><ellipse cx="75.4" cy="127.3" rx="1.7" ry="0.3" transform="rotate(44 75.4 127.3)"/><ellipse cx="69.0" cy="101.3" rx="1.4" ry="0.5" transform="rotate(72 69.0 101.3)"/><ellipse cx="59.3" cy="125.7" rx="1.8" ry="0.4" transform="rotate(128 59.3 125.7)"/><ellipse cx="77.5" cy="108.3" rx="1.2" ry="0.4" transform="rotate(82 77.5 108.3)"/><ellipse cx="51.4" cy="102.7" rx="1.9" ry="0.4" transform="rotate(67 51.4 102.7)"/><ellipse cx="62.9" cy="125.2" rx="0.9" ry="0.5" transform="rotate(110 62.9 125.2)"/><ellipse cx="69.8" cy="130.0" rx="1.6" ry="0.5" transform="rotate(70 69.8 130.0)"/><ellipse cx="78.2" cy="123.7" rx="1.3" ry="0.5" transform="rotate(91 78.2 123.7)"/><ellipse cx="78.1" cy="110.6" rx="1.3" ry="0.5" transform="rotate(154 78.1 110.6)"/></g>
</g>
<path d="M45.7,102.2 C46.2,100.8 47.8,99.3 49.8,98.1 C51.8,96.9 55.0,95.5 58.0,94.8 C61.0,94.1 64.8,94.0 67.8,94.0 C70.8,94.0 73.8,94.1 76.0,94.8 C78.2,95.5 79.5,96.9 80.8,98.1 C82.1,99.3 82.4,101.1 84.1,102.2 C85.8,103.3 88.8,103.4 90.7,104.6 C92.6,105.8 94.2,107.5 95.6,109.5 C96.9,111.5 98.3,114.6 98.8,116.9 C99.3,119.2 99.5,121.5 98.8,123.4 C98.1,125.3 97.2,127.1 94.7,128.3 C92.2,129.5 87.8,130.1 84.1,130.8 C80.4,131.5 75.7,132.3 72.7,132.7 C69.7,133.1 68.0,133.5 66.1,133.2 C64.2,132.9 63.0,132.7 61.2,130.8 C59.4,128.9 57.4,124.8 55.5,121.8 C53.6,118.8 51.3,115.4 49.8,112.8 C48.3,110.2 47.2,108.0 46.5,106.2 C45.8,104.4 45.2,103.6 45.7,102.2 Z" fill="none" stroke="#35a037" stroke-width="2.1" stroke-linejoin="round"/>
<path d="M109.8,93.2 C109.6,91.2 109.6,89.6 111.1,87.7 C112.6,85.8 115.6,83.6 118.6,81.6 C121.6,79.6 125.9,76.6 128.9,75.5 C131.9,74.4 133.9,74.5 136.4,74.8 C138.9,75.1 141.9,76.0 143.9,77.5 C145.9,79.0 146.8,81.4 148.7,83.6 C150.6,85.8 153.2,88.2 155.5,90.5 C157.8,92.8 160.4,95.1 162.3,97.3 C164.2,99.5 166.5,101.5 167.1,103.4 C167.7,105.3 166.9,107.3 165.7,108.9 C164.4,110.5 162.2,111.8 159.6,113.0 C157.0,114.2 153.2,115.5 150.0,116.4 C146.8,117.3 143.1,118.3 140.5,118.4 C137.9,118.5 136.6,118.3 134.3,117.1 C132.0,115.8 129.4,112.7 126.8,110.9 C124.2,109.1 121.0,108.0 118.6,106.2 C116.2,104.4 114.0,102.2 112.5,100.0 C111.0,97.8 110.0,95.2 109.8,93.2 Z" fill="#fdfdfd"/>
<g>
<g fill="#fff0f0" stroke="#e81c24" stroke-width="0.75" opacity="0.95"><ellipse cx="141.2" cy="90.5" rx="1.8" ry="0.7" transform="rotate(9 141.2 90.5)"/><ellipse cx="126.0" cy="103.7" rx="1.5" ry="0.7" transform="rotate(24 126.0 103.7)"/><ellipse cx="117.0" cy="89.7" rx="1.9" ry="0.6" transform="rotate(67 117.0 89.7)"/><ellipse cx="159.6" cy="103.0" rx="1.1" ry="0.4" transform="rotate(50 159.6 103.0)"/><ellipse cx="139.7" cy="101.6" rx="2.1" ry="0.5" transform="rotate(57 139.7 101.6)"/><ellipse cx="144.3" cy="98.3" rx="2.0" ry="0.4" transform="rotate(54 144.3 98.3)"/><ellipse cx="157.3" cy="96.8" rx="1.4" ry="0.6" transform="rotate(75 157.3 96.8)"/><ellipse cx="134.5" cy="94.5" rx="2.1" ry="0.7" transform="rotate(51 134.5 94.5)"/><ellipse cx="129.2" cy="88.2" rx="1.7" ry="0.4" transform="rotate(19 129.2 88.2)"/><ellipse cx="130.6" cy="91.2" rx="2.2" ry="0.7" transform="rotate(55 130.6 91.2)"/><ellipse cx="134.4" cy="82.5" rx="2.0" ry="0.7" transform="rotate(52 134.4 82.5)"/><ellipse cx="119.7" cy="90.3" rx="2.2" ry="0.5" transform="rotate(60 119.7 90.3)"/><ellipse cx="124.9" cy="90.3" rx="2.2" ry="0.4" transform="rotate(14 124.9 90.3)"/><ellipse cx="141.7" cy="81.3" rx="1.4" ry="0.4" transform="rotate(89 141.7 81.3)"/><ellipse cx="149.8" cy="101.0" rx="1.9" ry="0.7" transform="rotate(65 149.8 101.0)"/><ellipse cx="133.2" cy="88.3" rx="2.1" ry="0.6" transform="rotate(67 133.2 88.3)"/><ellipse cx="126.8" cy="97.1" rx="1.4" ry="0.6" transform="rotate(49 126.8 97.1)"/><ellipse cx="137.5" cy="111.8" rx="1.8" ry="0.6" transform="rotate(59 137.5 111.8)"/><ellipse cx="119.3" cy="86.6" rx="1.2" ry="0.4" transform="rotate(33 119.3 86.6)"/><ellipse cx="126.6" cy="92.4" rx="1.0" ry="0.5" transform="rotate(55 126.6 92.4)"/><ellipse cx="134.2" cy="91.6" rx="1.0" ry="0.7" transform="rotate(75 134.2 91.6)"/><ellipse cx="150.2" cy="96.5" rx="1.3" ry="0.7" transform="rotate(39 150.2 96.5)"/><ellipse cx="154.2" cy="111.1" rx="1.6" ry="0.6" transform="rotate(59 154.2 111.1)"/><ellipse cx="132.4" cy="81.0" rx="2.0" ry="0.7" transform="rotate(62 132.4 81.0)"/><ellipse cx="130.9" cy="85.8" rx="2.0" ry="0.7" transform="rotate(49 130.9 85.8)"/><ellipse cx="126.6" cy="99.5" rx="1.3" ry="0.5" transform="rotate(87 126.6 99.5)"/><ellipse cx="122.9" cy="83.4" rx="1.8" ry="0.6" transform="rotate(79 122.9 83.4)"/><ellipse cx="124.1" cy="98.0" rx="1.3" ry="0.5" transform="rotate(73 124.1 98.0)"/><ellipse cx="157.5" cy="102.5" rx="1.3" ry="0.6" transform="rotate(64 157.5 102.5)"/><ellipse cx="118.4" cy="99.2" rx="1.1" ry="0.7" transform="rotate(56 118.4 99.2)"/><ellipse cx="141.8" cy="94.5" rx="2.0" ry="0.5" transform="rotate(85 141.8 94.5)"/><ellipse cx="131.4" cy="79.4" rx="1.7" ry="0.5" transform="rotate(75 131.4 79.4)"/><ellipse cx="139.9" cy="92.7" rx="1.0" ry="0.6" transform="rotate(71 139.9 92.7)"/><ellipse cx="138.1" cy="107.6" rx="1.2" ry="0.5" transform="rotate(39 138.1 107.6)"/><ellipse cx="135.4" cy="99.5" rx="1.8" ry="0.6" transform="rotate(71 135.4 99.5)"/><ellipse cx="140.1" cy="99.8" rx="1.9" ry="0.5" transform="rotate(43 140.1 99.8)"/><ellipse cx="124.8" cy="88.4" rx="2.2" ry="0.4" transform="rotate(40 124.8 88.4)"/><ellipse cx="117.5" cy="93.6" rx="1.9" ry="0.7" transform="rotate(90 117.5 93.6)"/><ellipse cx="131.4" cy="108.3" rx="2.1" ry="0.6" transform="rotate(87 131.4 108.3)"/><ellipse cx="126.5" cy="84.0" rx="1.1" ry="0.5" transform="rotate(76 126.5 84.0)"/><ellipse cx="137.5" cy="95.6" rx="1.3" ry="0.7" transform="rotate(33 137.5 95.6)"/><ellipse cx="132.9" cy="94.9" rx="1.9" ry="0.7" transform="rotate(72 132.9 94.9)"/><ellipse cx="136.0" cy="82.3" rx="1.6" ry="0.7" transform="rotate(75 136.0 82.3)"/><ellipse cx="123.0" cy="88.7" rx="1.0" ry="0.6" transform="rotate(86 123.0 88.7)"/><ellipse cx="134.7" cy="112.3" rx="2.1" ry="0.5" transform="rotate(76 134.7 112.3)"/><ellipse cx="131.3" cy="104.7" rx="1.6" ry="0.6" transform="rotate(79 131.3 104.7)"/><ellipse cx="135.8" cy="90.4" rx="1.9" ry="0.4" transform="rotate(72 135.8 90.4)"/><ellipse cx="126.8" cy="101.8" rx="2.2" ry="0.7" transform="rotate(83 126.8 101.8)"/><ellipse cx="143.3" cy="82.8" rx="1.2" ry="0.6" transform="rotate(83 143.3 82.8)"/><ellipse cx="144.6" cy="109.9" rx="1.0" ry="0.7" transform="rotate(53 144.6 109.9)"/><ellipse cx="139.3" cy="82.6" rx="1.8" ry="0.4" transform="rotate(72 139.3 82.6)"/><ellipse cx="129.6" cy="95.8" rx="1.0" ry="0.6" transform="rotate(42 129.6 95.8)"/><ellipse cx="138.4" cy="91.5" rx="2.0" ry="0.7" transform="rotate(83 138.4 91.5)"/><ellipse cx="123.5" cy="101.3" rx="1.6" ry="0.7" transform="rotate(55 123.5 101.3)"/><ellipse cx="115.6" cy="95.0" rx="1.8" ry="0.4" transform="rotate(45 115.6 95.0)"/><ellipse cx="145.6" cy="108.0" rx="1.6" ry="0.7" transform="rotate(47 145.6 108.0)"/><ellipse cx="156.5" cy="104.2" rx="1.1" ry="0.6" transform="rotate(65 156.5 104.2)"/><ellipse cx="130.2" cy="83.9" rx="1.1" ry="0.6" transform="rotate(24 130.2 83.9)"/><ellipse cx="129.9" cy="102.7" rx="1.6" ry="0.5" transform="rotate(15 129.9 102.7)"/><ellipse cx="134.5" cy="104.6" rx="1.2" ry="0.6" transform="rotate(50 134.5 104.6)"/><ellipse cx="127.0" cy="106.7" rx="1.1" ry="0.6" transform="rotate(47 127.0 106.7)"/><ellipse cx="156.6" cy="106.9" rx="1.9" ry="0.6" transform="rotate(21 156.6 106.9)"/><ellipse cx="114.9" cy="91.3" rx="2.2" ry="0.7" transform="rotate(58 114.9 91.3)"/><ellipse cx="140.7" cy="110.7" rx="1.4" ry="0.6" transform="rotate(28 140.7 110.7)"/><ellipse cx="126.5" cy="86.6" rx="1.4" ry="0.7" transform="rotate(49 126.5 86.6)"/><ellipse cx="137.1" cy="114.1" rx="1.8" ry="0.4" transform="rotate(20 137.1 114.1)"/><ellipse cx="122.6" cy="90.8" rx="2.1" ry="0.7" transform="rotate(40 122.6 90.8)"/><ellipse cx="129.9" cy="81.3" rx="1.4" ry="0.5" transform="rotate(72 129.9 81.3)"/><ellipse cx="139.7" cy="96.0" rx="1.2" ry="0.6" transform="rotate(32 139.7 96.0)"/><ellipse cx="153.2" cy="94.3" rx="2.2" ry="0.4" transform="rotate(60 153.2 94.3)"/><ellipse cx="128.6" cy="94.3" rx="1.7" ry="0.5" transform="rotate(50 128.6 94.3)"/><ellipse cx="121.0" cy="85.2" rx="1.8" ry="0.5" transform="rotate(68 121.0 85.2)"/><ellipse cx="147.4" cy="99.6" rx="2.0" ry="0.6" transform="rotate(45 147.4 99.6)"/><ellipse cx="132.1" cy="97.2" rx="1.3" ry="0.4" transform="rotate(44 132.1 97.2)"/><ellipse cx="140.8" cy="88.5" rx="2.1" ry="0.6" transform="rotate(29 140.8 88.5)"/><ellipse cx="139.6" cy="108.4" rx="1.2" ry="0.5" transform="rotate(60 139.6 108.4)"/><ellipse cx="121.8" cy="99.1" rx="1.0" ry="0.5" transform="rotate(39 121.8 99.1)"/><ellipse cx="146.3" cy="97.6" rx="2.2" ry="0.6" transform="rotate(59 146.3 97.6)"/><ellipse cx="155.0" cy="95.9" rx="1.5" ry="0.4" transform="rotate(49 155.0 95.9)"/><ellipse cx="122.4" cy="103.7" rx="1.9" ry="0.7" transform="rotate(45 122.4 103.7)"/><ellipse cx="133.4" cy="111.2" rx="2.0" ry="0.6" transform="rotate(88 133.4 111.2)"/><ellipse cx="133.3" cy="107.6" rx="1.7" ry="0.7" transform="rotate(58 133.3 107.6)"/><ellipse cx="124.9" cy="83.3" rx="1.8" ry="0.5" transform="rotate(55 124.9 83.3)"/><ellipse cx="130.3" cy="97.3" rx="1.6" ry="0.5" transform="rotate(70 130.3 97.3)"/><ellipse cx="134.5" cy="86.6" rx="1.9" ry="0.5" transform="rotate(37 134.5 86.6)"/><ellipse cx="140.7" cy="113.6" rx="1.1" ry="0.5" transform="rotate(80 140.7 113.6)"/><ellipse cx="139.3" cy="80.0" rx="1.6" ry="0.5" transform="rotate(91 139.3 80.0)"/><ellipse cx="119.4" cy="97.5" rx="1.1" ry="0.6" transform="rotate(41 119.4 97.5)"/><ellipse cx="122.8" cy="85.2" rx="2.0" ry="0.4" transform="rotate(90 122.8 85.2)"/><ellipse cx="138.4" cy="97.0" rx="1.3" ry="0.7" transform="rotate(75 138.4 97.0)"/><ellipse cx="140.6" cy="103.4" rx="1.0" ry="0.5" transform="rotate(25 140.6 103.4)"/><ellipse cx="150.3" cy="99.1" rx="1.3" ry="0.6" transform="rotate(61 150.3 99.1)"/><ellipse cx="152.1" cy="103.1" rx="1.6" ry="0.5" transform="rotate(55 152.1 103.1)"/><ellipse cx="117.1" cy="87.6" rx="1.0" ry="0.5" transform="rotate(20 117.1 87.6)"/><ellipse cx="128.6" cy="108.5" rx="1.1" ry="0.7" transform="rotate(60 128.6 108.5)"/><ellipse cx="121.0" cy="102.8" rx="1.3" ry="0.6" transform="rotate(65 121.0 102.8)"/><ellipse cx="136.5" cy="97.1" rx="2.1" ry="0.6" transform="rotate(100 136.5 97.1)"/><ellipse cx="126.6" cy="89.9" rx="1.6" ry="0.5" transform="rotate(92 126.6 89.9)"/><ellipse cx="151.0" cy="110.6" rx="1.3" ry="0.6" transform="rotate(54 151.0 110.6)"/><ellipse cx="120.7" cy="92.4" rx="1.1" ry="0.7" transform="rotate(15 120.7 92.4)"/><ellipse cx="136.8" cy="87.9" rx="1.9" ry="0.6" transform="rotate(43 136.8 87.9)"/><ellipse cx="145.3" cy="103.9" rx="2.0" ry="0.7" transform="rotate(37 145.3 103.9)"/><ellipse cx="132.9" cy="84.6" rx="1.8" ry="0.6" transform="rotate(76 132.9 84.6)"/><ellipse cx="142.4" cy="100.3" rx="1.1" ry="0.6" transform="rotate(49 142.4 100.3)"/><ellipse cx="145.4" cy="111.8" rx="2.0" ry="0.4" transform="rotate(21 145.4 111.8)"/><ellipse cx="134.4" cy="102.9" rx="1.1" ry="0.6" transform="rotate(58 134.4 102.9)"/><ellipse cx="124.6" cy="93.8" rx="2.2" ry="0.6" transform="rotate(43 124.6 93.8)"/><ellipse cx="134.4" cy="79.3" rx="2.0" ry="0.4" transform="rotate(46 134.4 79.3)"/><ellipse cx="147.1" cy="93.3" rx="1.6" ry="0.5" transform="rotate(81 147.1 93.3)"/><ellipse cx="126.4" cy="94.4" rx="1.5" ry="0.6" transform="rotate(75 126.4 94.4)"/><ellipse cx="135.9" cy="109.8" rx="2.0" ry="0.6" transform="rotate(67 135.9 109.8)"/><ellipse cx="131.6" cy="110.5" rx="2.1" ry="0.7" transform="rotate(48 131.6 110.5)"/><ellipse cx="120.3" cy="95.3" rx="1.2" ry="0.7" transform="rotate(30 120.3 95.3)"/><ellipse cx="120.6" cy="88.2" rx="1.4" ry="0.7" transform="rotate(71 120.6 88.2)"/><ellipse cx="137.6" cy="86.4" rx="1.3" ry="0.7" transform="rotate(56 137.6 86.4)"/></g>
<g fill="#fffafa" stroke="#e81c24" stroke-width="0.8" opacity="0.95"><ellipse cx="144.0" cy="82.1" rx="4.8" ry="1.3" transform="rotate(34 144.0 82.1)"/><ellipse cx="143.1" cy="86.1" rx="4.1" ry="1.2" transform="rotate(55 143.1 86.1)"/><ellipse cx="150.5" cy="104.8" rx="3.8" ry="1.1" transform="rotate(43 150.5 104.8)"/><ellipse cx="148.1" cy="106.8" rx="4.2" ry="1.4" transform="rotate(37 148.1 106.8)"/><ellipse cx="152.2" cy="99.1" rx="4.9" ry="1.3" transform="rotate(50 152.2 99.1)"/><ellipse cx="154.5" cy="110.4" rx="4.0" ry="1.3" transform="rotate(54 154.5 110.4)"/><ellipse cx="153.3" cy="103.9" rx="4.5" ry="1.1" transform="rotate(45 153.3 103.9)"/><ellipse cx="146.0" cy="104.9" rx="4.7" ry="1.0" transform="rotate(54 146.0 104.9)"/><ellipse cx="143.7" cy="92.1" rx="3.8" ry="1.2" transform="rotate(51 143.7 92.1)"/><ellipse cx="139.6" cy="80.6" rx="3.9" ry="1.2" transform="rotate(54 139.6 80.6)"/><ellipse cx="142.4" cy="96.8" rx="2.5" ry="0.9" transform="rotate(65 142.4 96.8)"/><ellipse cx="150.2" cy="97.2" rx="4.6" ry="1.2" transform="rotate(48 150.2 97.2)"/><ellipse cx="162.3" cy="101.8" rx="4.8" ry="1.0" transform="rotate(54 162.3 101.8)"/><ellipse cx="161.8" cy="105.3" rx="4.9" ry="1.3" transform="rotate(46 161.8 105.3)"/><ellipse cx="146.9" cy="96.8" rx="4.5" ry="0.9" transform="rotate(43 146.9 96.8)"/></g>
</g>
<path d="M109.8,93.2 C109.6,91.2 109.6,89.6 111.1,87.7 C112.6,85.8 115.6,83.6 118.6,81.6 C121.6,79.6 125.9,76.6 128.9,75.5 C131.9,74.4 133.9,74.5 136.4,74.8 C138.9,75.1 141.9,76.0 143.9,77.5 C145.9,79.0 146.8,81.4 148.7,83.6 C150.6,85.8 153.2,88.2 155.5,90.5 C157.8,92.8 160.4,95.1 162.3,97.3 C164.2,99.5 166.5,101.5 167.1,103.4 C167.7,105.3 166.9,107.3 165.7,108.9 C164.4,110.5 162.2,111.8 159.6,113.0 C157.0,114.2 153.2,115.5 150.0,116.4 C146.8,117.3 143.1,118.3 140.5,118.4 C137.9,118.5 136.6,118.3 134.3,117.1 C132.0,115.8 129.4,112.7 126.8,110.9 C124.2,109.1 121.0,108.0 118.6,106.2 C116.2,104.4 114.0,102.2 112.5,100.0 C111.0,97.8 110.0,95.2 109.8,93.2 Z" fill="none" stroke="#35a037" stroke-width="2.1" stroke-linejoin="round"/>
<rect x="78.7" y="148" width="9.2" height="8.2" fill="#ffff33"/>
<rect x="78.7" y="162" width="9.2" height="8.6" fill="#f3161c"/>
<text x="92.1" y="155.2" font-size="6.55" text-anchor="start" font-weight="bold" fill="#111" stroke="#111" stroke-width="0.18">PIK3CA WT</text>
<text x="92.1" y="168.2" font-size="6.55" text-anchor="start" font-weight="bold" fill="#111" stroke="#111" stroke-width="0.18">PIK3CA E545K</text>
<clipPath id="c539"><path d="M71.4,210.0 L72.0,224.8 L67.5,236.7 L59.5,242.7 L49.6,252.6 L39.7,260.6 L33.7,266.5 L29.8,274.4 L25.8,282.4 L23.0,285.0 L-3.0,285.0 L-3.0,234.8 L3.0,226.0 L7.9,220.9 L19.8,216.9 L39.7,212.9 L59.5,210.5 Z"/></clipPath>
<g filter="url(#b1)">
<path d="M71.4,210.0 L72.0,224.8 L67.5,236.7 L59.5,242.7 L49.6,252.6 L39.7,260.6 L33.7,266.5 L29.8,274.4 L25.8,282.4 L23.0,285.0 L-3.0,285.0 L-3.0,234.8 L3.0,226.0 L7.9,220.9 L19.8,216.9 L39.7,212.9 L59.5,210.5 Z" fill="url(#g539)"/>
</g>
<g filter="url(#b1)" clip-path="url(#c539)">
<path d="M72,212 L72,224.8 L67.5,236.7 L59.5,242.7 L49.6,252.6 L39.7,260.6 L33.7,266.5 L29.8,274.4 L25.8,282.4" fill="none" stroke="#e67fcc" stroke-width="4.5" opacity="0.6"/>
<path d="M-3,236 L3,227 L8,221.5 L20,217.5 L40,213.5 L60,211" fill="none" stroke="#ffffff" stroke-width="7" opacity="0.55"/>
</g>
<g filter="url(#b0)" clip-path="url(#c539)">
<path d="M50.8,235.7Q48.9,237.1 47.2,238.2M64.8,237.7Q64.0,239.1 62.4,241.1M18.5,239.4Q18.7,241.7 17.8,244.0M51.8,240.9Q51.4,241.4 50.8,242.8M15.5,235.3Q15.1,237.3 14.7,239.8M43.7,216.3Q42.7,218.7 41.1,220.1M23.4,273.8Q21.7,275.1 21.2,275.7M30.5,244.1Q29.3,246.1 28.7,247.7M44.0,214.1Q42.3,214.3 41.1,215.1M40.4,238.0Q37.1,238.4 34.8,239.5M9.8,243.4Q9.1,243.8 7.4,245.4M20.2,220.0Q19.7,222.3 18.7,223.4M45.2,219.9Q43.7,220.4 41.2,221.7M9.5,277.6Q6.9,279.1 5.4,280.2M-1.3,265.3Q-2.8,267.9 -3.2,270.1M24.5,234.7Q21.8,235.1 19.4,236.2M30.2,233.3Q27.8,234.4 25.5,234.6M27.0,241.7Q24.8,242.6 22.0,243.1M36.5,236.6Q35.3,237.4 34.6,237.1M-1.8,237.0Q-3.6,238.6 -5.8,240.3M3.8,272.3Q2.5,274.8 1.0,276.5M34.1,245.7Q32.7,246.6 30.9,247.9M55.2,238.2Q54.7,240.8 53.2,242.4M55.3,238.6Q54.6,239.5 53.6,241.5M1.8,276.8Q0.0,277.6 -2.3,277.9M53.5,241.6Q52.8,242.4 51.2,242.7M13.3,247.5Q12.4,249.2 11.6,251.1M10.3,267.8Q9.2,269.4 7.9,270.4M19.6,260.8Q18.1,261.9 16.6,262.6M-2.6,277.2Q-3.8,279.0 -5.7,279.9M26.3,264.5Q25.1,266.8 24.0,269.3M22.7,240.9Q23.2,243.9 22.6,246.3M39.0,258.2Q38.1,258.9 36.3,259.9M34.4,226.4Q33.3,227.0 31.7,227.7M45.0,223.9Q44.7,224.4 44.2,225.7M37.6,234.4Q36.2,235.5 35.1,236.1M53.2,238.2Q52.3,238.7 51.3,239.1M48.4,251.1Q49.1,254.1 48.7,256.8M27.5,278.0Q25.0,280.2 23.7,282.1M27.9,253.0Q28.0,255.5 27.3,258.3M5.0,230.1Q2.7,230.5 1.1,231.4M25.0,258.0Q23.3,258.6 22.4,260.2M47.2,214.9Q44.5,216.6 42.7,218.5M23.4,275.8Q21.2,277.5 18.7,278.9M35.3,259.2Q34.8,260.7 33.5,262.7M27.4,260.9Q26.2,263.5 25.1,266.3M12.8,236.6Q12.2,238.9 11.8,241.7M5.7,246.5Q4.9,247.1 3.6,248.3M14.3,232.7Q13.2,233.7 11.2,234.0M26.5,244.3Q26.3,245.0 25.0,246.6M26.6,224.7Q25.6,226.6 24.7,229.7M48.8,248.6Q47.0,249.8 44.6,251.6M15.8,254.8Q15.0,255.2 13.7,255.5M48.4,245.2Q47.7,248.0 45.9,249.8M21.1,250.2Q20.3,252.3 18.8,253.9M58.4,229.0Q57.2,229.9 55.8,232.1M57.9,243.6Q56.8,244.5 55.5,244.7M65.6,214.2Q65.5,215.5 65.0,217.5M10.1,250.5Q8.4,252.2 8.0,253.7M27.1,222.5Q27.0,224.9 26.5,226.3M69.4,216.3Q67.4,218.0 65.5,218.8M8.0,264.0Q5.9,265.0 2.8,266.2M25.5,229.1Q24.8,230.7 25.0,231.2M20.2,236.4Q17.8,237.8 15.6,240.1M24.4,231.8Q23.5,234.1 21.5,236.9M0.6,277.4Q-0.3,277.8 -1.4,278.6M59.6,242.2Q58.2,245.0 55.7,246.7M25.2,261.9Q22.8,263.7 21.5,265.1M54.1,224.5Q54.2,225.2 54.1,226.9M60.6,241.1Q58.1,242.5 55.7,244.6M29.0,255.5Q26.3,256.0 24.0,257.6M58.6,219.4Q55.9,220.9 54.2,223.1M45.1,233.0Q44.2,235.7 43.3,238.4M67.5,232.8Q65.3,235.0 63.0,236.1M37.9,213.3Q36.4,214.4 35.8,215.2M23.0,239.1Q21.0,240.2 18.3,241.4M2.9,277.6Q3.0,278.3 2.7,279.8M9.4,278.1Q7.7,280.5 4.9,282.1M3.3,237.9Q1.8,240.1 1.2,242.3M7.6,245.6Q6.3,246.8 5.6,247.0M5.0,257.3Q4.7,259.6 4.1,261.8M43.2,223.9Q41.6,224.5 39.7,225.7M22.1,275.9Q21.5,276.8 20.8,277.8M18.9,243.9Q19.2,245.3 18.8,246.1M11.8,233.8Q11.4,235.2 10.9,236.0M47.4,219.8Q46.9,223.2 47.4,225.4M27.5,251.6Q27.1,253.7 27.1,256.0M49.1,223.6Q46.9,224.1 45.5,224.9M-1.1,261.8Q-1.9,262.9 -3.5,264.9M41.9,233.8Q39.8,234.9 37.8,236.8M68.2,228.3Q65.8,230.0 64.0,230.7M20.5,281.7Q18.9,282.6 16.4,282.9M24.8,244.4Q22.8,245.9 21.0,246.5M13.3,249.1Q12.8,249.8 12.8,251.6M39.7,256.5Q38.2,257.6 36.6,258.3M3.4,234.7Q3.7,235.3 3.1,236.8M41.7,238.3Q40.0,239.8 37.4,240.2M17.8,234.6Q15.5,236.0 14.2,236.4M27.5,238.6Q26.0,240.0 24.6,240.8M62.7,216.5Q61.4,217.2 60.8,217.2M27.4,226.9Q27.0,227.2 26.3,228.6M16.2,240.3Q14.5,241.2 13.3,242.5M34.8,227.8Q33.2,228.3 31.7,229.9M23.2,252.8Q22.6,253.9 21.8,255.4M10.7,275.6Q9.2,276.1 8.6,276.4M37.9,240.7Q35.6,241.1 33.7,242.5M12.0,275.9Q10.0,276.9 8.3,278.3M48.8,252.6Q48.1,255.6 47.9,258.2M56.1,218.2Q55.4,220.1 54.3,222.4M11.0,230.2Q9.6,231.5 7.1,233.1M1.9,270.6Q0.7,271.5 -0.5,272.4M53.1,244.5Q50.7,246.4 48.3,247.2M-2.8,240.1Q-2.4,241.7 -2.8,244.2M40.5,230.3Q39.3,231.4 38.6,233.3M3.1,283.0Q2.5,284.0 2.5,285.3M4.6,253.1Q3.8,255.2 3.3,257.4M33.0,215.2Q31.4,215.9 30.0,216.8M44.9,213.0Q42.7,214.4 41.3,215.9M61.2,229.7Q60.4,231.4 59.5,233.4M22.8,279.3Q20.3,279.9 18.2,280.5M24.4,275.0Q22.7,276.2 21.7,277.2M17.2,278.5Q15.7,278.9 13.9,279.6M39.5,256.4Q38.5,257.1 37.2,257.6M19.8,267.2Q19.6,269.5 18.3,271.0M49.2,238.9Q46.7,239.8 43.8,241.0M41.6,244.9Q41.6,247.3 41.8,250.2M42.6,236.6Q40.4,236.9 38.5,238.2M-2.0,272.7Q-3.6,273.8 -4.0,276.0M-3.0,277.2Q-3.4,278.3 -3.8,279.2M13.7,258.4Q11.0,258.8 9.3,259.6M4.7,231.7Q5.1,232.9 4.8,234.6M56.7,211.9Q54.9,212.9 52.8,213.8M28.9,271.7Q28.1,273.5 27.2,275.5M11.0,260.5Q8.5,262.1 7.0,264.0M54.5,219.8Q53.0,220.9 51.4,222.4M-1.7,262.8Q-2.6,264.0 -3.6,264.7M5.4,283.0Q2.7,284.3 0.8,285.1M25.4,262.5Q24.8,264.5 23.1,266.7M32.0,263.6Q30.6,264.6 29.6,264.6M41.3,228.0Q41.2,230.2 40.5,231.7M48.5,220.1Q47.2,221.1 47.0,221.7M44.4,248.4Q42.5,248.6 40.9,249.7M29.7,221.7Q28.5,223.6 27.5,224.9M15.8,282.8Q15.7,283.8 14.8,285.5M51.4,230.5Q50.1,232.4 49.4,233.6M30.0,265.5Q28.6,266.4 26.0,266.7M16.6,240.1Q16.4,240.9 15.5,242.1M10.9,250.4Q8.3,252.2 6.7,254.2M14.2,270.9Q13.7,272.2 12.3,274.0M20.0,250.5Q19.3,252.5 18.2,254.7M49.3,239.2Q48.5,239.8 48.2,241.6M33.0,262.8Q33.2,263.4 32.8,265.1M27.6,235.8Q26.0,237.0 24.4,237.8M34.1,253.6Q32.9,254.2 30.6,254.8M38.9,217.7Q36.6,218.8 34.9,219.2M16.1,263.5Q15.3,264.1 13.9,265.8M15.3,233.0Q13.2,233.7 11.8,235.4M14.3,257.6Q13.1,258.4 11.3,259.5M41.2,220.9Q39.3,222.6 37.9,223.9M7.4,282.9Q5.6,283.3 3.5,284.3M25.4,262.0Q23.1,264.1 21.5,265.2M22.8,224.3Q21.6,225.2 21.1,226.8M42.9,240.6Q42.2,242.6 41.5,245.2M-1.8,274.8Q-1.9,276.3 -3.0,278.1M37.6,220.5Q36.3,221.7 34.2,222.0M65.6,227.3Q65.7,228.5 65.4,229.5M24.7,263.4Q23.6,264.0 22.7,265.5M55.2,223.8Q52.9,225.2 50.8,226.7M12.4,220.5Q11.4,222.5 10.3,224.8M17.0,222.2Q15.3,224.8 14.4,226.6" fill="none" stroke="#c884cf" stroke-width="0.5" stroke-linecap="round" opacity="0.4"/>
<path d="M8.6,227.2Q8.0,227.6 6.8,229.2M59.3,241.6Q58.9,244.0 59.1,245.4M18.4,277.6Q15.4,278.4 13.4,279.4M59.5,233.4Q59.6,234.9 59.6,236.3M12.9,229.4Q12.8,232.1 12.1,233.9M28.5,219.8Q27.3,222.0 27.1,223.8M38.9,230.4Q38.2,231.1 36.5,232.1M40.9,226.6Q39.4,228.1 38.3,229.4M5.9,241.1Q5.2,242.2 4.2,243.1M54.9,218.7Q52.4,220.0 49.7,220.5M38.3,242.6Q37.8,244.0 36.8,244.8M-1.6,242.0Q-3.7,242.5 -5.1,244.2M51.2,224.3Q49.0,226.4 47.6,228.4M54.9,226.8Q54.5,229.8 54.9,232.6M66.3,225.1Q65.4,225.8 64.9,226.8M26.7,276.2Q25.5,276.9 24.2,278.1M65.4,229.2Q65.3,231.0 64.8,232.3M24.4,218.8Q23.6,221.0 22.7,222.9M3.6,226.7Q1.7,228.1 0.3,228.4M3.8,277.9Q3.6,279.0 2.3,279.5M65.5,236.4Q62.5,237.7 60.1,238.5M65.8,226.0Q64.4,227.5 62.8,227.9M29.5,243.6Q29.6,244.6 28.7,246.1M39.8,232.6Q40.1,234.2 39.6,234.6M69.2,231.0Q67.5,234.0 66.2,235.9M18.5,218.0Q17.7,219.4 17.7,220.6M20.6,226.2Q18.8,228.1 18.2,231.1M32.2,256.4Q32.1,259.0 31.2,260.5M37.8,241.0Q37.0,243.5 36.9,246.1M26.1,275.8Q25.5,277.1 24.6,277.7M21.5,255.5Q18.8,256.2 16.0,257.2M25.9,263.7Q24.9,265.4 25.0,267.0M9.8,231.2Q9.0,233.2 8.4,234.0M36.5,251.2Q35.7,252.6 34.2,254.0M35.4,236.3Q34.6,237.4 34.8,239.0M0.0,241.2Q0.2,243.3 -0.3,245.4M43.8,242.3Q41.3,244.0 39.8,245.6M16.9,266.0Q15.9,268.3 16.0,269.4M5.9,228.9Q5.8,231.6 5.9,234.6M3.3,226.2Q3.2,227.6 2.7,228.1M4.4,230.1Q2.4,231.6 0.7,234.2M43.2,214.3Q40.9,215.0 39.7,216.3M28.0,255.7Q26.0,257.1 24.2,258.9M44.0,244.5Q42.3,246.9 40.4,249.0M33.2,246.9Q32.2,248.4 29.9,250.3M19.8,223.4Q18.8,224.7 18.0,226.6M33.0,253.0Q32.4,253.5 31.2,254.6M32.4,260.6Q31.2,261.4 29.9,263.3M1.0,248.0Q-1.3,249.5 -3.5,251.5M6.9,258.5Q5.2,260.4 4.6,263.0M27.0,276.5Q26.7,278.8 27.2,280.1M49.9,216.5Q49.2,217.3 48.5,219.3M1.3,233.3Q-0.1,234.7 -0.8,237.1M19.4,245.3Q19.2,247.7 18.7,250.7M35.1,234.1Q34.0,235.2 31.8,235.1M56.8,231.3Q55.0,232.1 54.1,233.4M30.1,249.0Q29.6,250.1 29.4,251.5M46.4,228.1Q45.4,229.2 43.7,229.3M55.4,224.6Q54.0,225.2 51.9,226.4M33.2,254.2Q33.2,255.4 32.6,256.2M30.5,252.8Q29.2,255.0 28.9,256.6M54.9,242.6Q52.9,244.2 50.4,245.0M69.5,213.0Q68.3,215.7 66.4,217.9M4.4,254.0Q3.2,254.5 2.5,255.4M17.5,270.7Q17.0,272.5 15.9,275.0M31.8,254.3Q30.9,256.7 30.4,258.3M48.5,247.9Q47.2,249.5 45.6,250.0M53.1,238.8Q53.4,240.3 53.1,241.9M17.8,265.8Q16.0,267.1 14.0,269.1M47.6,253.8Q45.6,256.7 44.0,258.5M43.8,235.6Q43.1,238.3 43.2,240.2M31.7,270.1Q30.6,271.7 30.2,272.5M41.8,239.5Q41.0,241.5 41.0,243.0M20.4,217.8Q20.1,219.2 18.5,220.8M51.1,244.4Q50.2,246.1 50.2,247.9M45.0,217.9Q44.8,219.7 44.4,221.8M27.3,238.7Q27.2,240.2 26.8,241.0M7.4,283.2Q6.2,286.0 5.0,288.3M21.7,237.5Q20.2,239.6 18.9,241.5M5.7,245.3Q5.5,247.1 5.2,248.4M36.4,247.4Q35.9,249.1 34.1,251.5M-2.4,252.6Q-3.6,254.6 -4.5,256.9M15.2,269.4Q14.4,271.9 13.5,274.6M6.9,265.0Q5.4,266.0 2.9,266.1M16.6,218.2Q16.7,220.5 16.2,223.5M49.9,214.0Q48.8,214.5 47.7,215.0M13.9,262.9Q12.7,264.1 12.0,265.9M19.7,230.5Q18.3,231.1 17.2,231.6M8.7,281.5Q6.0,283.2 3.6,284.0M45.1,212.3Q43.8,214.0 42.4,214.5M56.9,216.6Q55.3,218.5 54.8,220.0M56.1,226.8Q54.8,227.0 53.5,228.4M20.0,280.8Q19.4,282.7 19.0,283.7M57.7,238.9Q57.3,241.1 57.8,243.5M44.6,220.5Q43.2,220.5 42.6,221.5M18.4,253.4Q17.7,255.4 16.9,257.8M40.5,218.2Q41.2,220.1 40.8,222.7M38.6,224.1Q38.2,226.3 37.5,227.8M31.1,251.2Q30.6,253.4 30.0,254.4M1.2,266.1Q-0.2,267.5 -1.1,268.4M34.2,233.3Q33.9,235.6 34.5,237.0M3.2,239.8Q3.7,241.8 3.3,244.5M41.0,255.3Q40.6,256.6 39.6,257.2M6.6,240.7Q6.9,242.2 6.7,244.7M39.3,230.0Q38.2,230.7 36.8,230.8M42.5,252.3Q42.3,254.7 42.4,257.8M41.7,239.6Q40.7,242.8 40.3,245.1M51.1,242.2Q49.2,243.5 48.2,244.2M14.0,270.5Q13.4,270.3 11.9,271.3M9.0,278.6Q8.5,281.2 7.2,283.6M15.5,261.6Q15.7,263.7 15.1,265.2M15.3,242.0Q14.0,244.2 13.2,246.3M68.3,217.1Q68.0,219.0 66.6,219.6M-2.4,258.1Q-3.1,259.4 -2.9,260.6M24.5,277.4Q24.9,279.5 24.4,282.1M70.4,219.9Q68.7,221.8 67.0,224.4M7.0,265.3Q4.8,266.1 3.0,267.0M58.0,229.2Q56.6,229.9 54.8,230.7M-1.8,267.3Q-2.4,268.6 -2.8,270.8M9.1,241.7Q9.1,244.3 9.5,247.7M9.8,230.6Q10.2,232.8 9.7,235.1M36.4,236.2Q36.0,238.2 36.0,240.2M3.3,247.6Q1.0,249.7 -0.4,251.5M-2.3,249.8Q-3.2,251.5 -3.1,252.4M7.9,260.6Q6.6,262.6 5.1,265.0M2.8,262.8Q1.7,263.8 1.4,264.9M38.4,256.5Q37.1,258.7 34.7,259.9M7.6,229.8Q6.4,232.0 4.4,233.4M21.9,222.9Q21.7,224.9 21.5,227.5M27.1,259.1Q24.9,261.1 23.9,262.2M44.6,213.0Q44.2,213.5 42.9,214.2M12.8,243.1Q10.1,244.2 8.3,246.1M12.6,265.9Q11.1,266.1 9.8,267.1M28.2,220.5Q28.2,223.1 28.4,226.0M28.6,275.5Q26.3,276.8 23.5,277.9M35.4,263.7Q32.9,264.8 31.1,264.9M53.6,243.2Q52.6,245.8 51.9,248.3M69.7,228.2Q68.2,229.7 65.7,231.7M38.4,224.4Q37.0,224.4 34.5,225.5M19.8,228.0Q19.6,230.2 18.8,233.2" fill="none" stroke="#f6ecf8" stroke-width="0.6" stroke-linecap="round" opacity="0.7"/>
</g>
<rect x="0.7" y="288.6" width="18" height="1.5" fill="#2a2a2a"/>
<text x="106.8" y="248.5" font-size="8.5" text-anchor="start" font-weight="bold" fill="#111" stroke="#111" stroke-width="0.18">Case C539</text>
<g filter="url(#b1)">
<path d="M40.0,274.0 L100.0,271.0 L140.0,270.0 L160.0,268.0 L166.0,276.0 L167.0,292.0 L164.0,305.0 L158.0,314.0 L150.0,320.0 L134.0,324.0 L124.6,342.3 L113.1,356.2 L99.2,372.4 L92.3,386.2 L89.0,396.0 L40.0,396.0 Z" fill="#fbfbfc"/>
</g>
<g filter="url(#b0)">
<path d="M83.2,392.5Q82.4,394.0 82.7,394.2M48.5,354.7Q47.0,355.2 46.4,355.0M43.6,388.3Q42.7,387.6 40.7,389.1M134.4,316.7Q133.9,316.7 132.6,317.4M49.1,351.1Q48.7,350.9 50.3,352.2M135.0,302.2Q136.9,304.3 137.5,305.3M121.7,345.4Q122.0,346.0 120.1,346.4M63.8,279.0Q62.3,278.6 61.6,279.2M106.7,272.4Q104.9,272.4 104.0,274.6M137.0,295.0Q135.1,297.9 135.4,298.5M128.7,291.6Q128.5,292.2 127.6,295.1M67.1,369.4Q66.7,370.0 68.4,370.3M57.5,368.4Q57.5,370.4 55.5,370.1M64.3,314.6Q66.3,315.8 66.1,317.7M119.6,300.8Q120.4,302.6 121.7,303.3M145.2,285.9Q146.6,287.0 146.7,287.1M69.7,331.6Q70.3,331.7 70.4,332.9M141.0,295.2Q139.6,296.7 139.5,297.4M90.8,274.2Q91.2,275.4 90.0,275.8M115.6,336.0Q115.3,335.7 117.0,337.3M89.8,305.4Q87.9,307.1 87.3,306.9M145.9,292.6Q146.1,292.8 148.3,294.3M43.3,371.3Q40.6,370.9 39.9,372.8M148.9,316.0Q148.3,316.5 147.5,317.9M59.1,282.7Q56.4,282.5 55.9,283.7M106.7,302.1Q106.1,302.5 106.6,304.8M93.2,371.8Q93.8,372.9 93.0,373.6M84.1,386.8Q81.8,386.8 80.6,386.9M97.2,375.6Q97.0,378.0 96.7,378.6M84.9,284.8Q84.6,286.6 86.3,286.1M97.7,334.7Q96.5,334.8 95.7,335.4M93.8,373.7Q94.8,374.0 95.9,375.3M72.7,366.9Q71.8,367.1 71.8,369.1M62.1,332.2Q61.0,333.6 59.3,334.4M61.7,275.1Q62.9,274.9 65.3,275.3M74.5,299.9Q74.0,301.7 75.4,301.4M113.0,330.9Q111.6,331.7 111.4,331.3M66.0,302.6Q65.4,303.7 65.8,304.5M130.8,296.9Q130.5,297.7 130.7,298.7M86.8,289.1Q86.5,290.2 85.6,290.5M121.1,333.7Q120.2,333.9 119.2,334.2M73.2,316.2Q74.5,317.2 74.3,320.0M116.1,302.8Q116.4,304.0 117.3,304.5M91.7,378.2Q90.7,379.3 90.0,379.1M90.1,300.9Q89.9,302.7 88.6,304.3M84.4,306.1Q83.7,306.9 81.2,308.0M65.7,289.3Q66.1,289.8 66.8,290.9M98.4,272.5Q97.3,273.7 98.4,274.9M47.6,341.8Q47.6,343.9 49.4,344.9M108.5,327.9Q108.5,329.3 108.1,329.7M154.6,277.7Q155.3,278.8 156.5,280.7M49.1,328.7Q48.9,328.4 50.9,328.8M57.4,383.4Q56.0,384.6 54.5,383.6M127.8,317.6Q129.2,318.3 129.3,318.3M77.8,288.9Q75.6,290.4 74.7,289.6M107.8,294.6Q108.3,294.7 106.6,296.2M70.2,286.3Q70.8,286.3 71.8,287.6M124.2,298.7Q123.7,298.7 124.7,300.8M125.6,274.3Q124.6,274.3 123.1,275.2M91.1,322.7Q91.4,322.0 93.3,323.1M66.4,310.4Q65.4,311.2 65.8,312.0M128.0,331.6Q126.6,332.0 125.5,333.8M45.4,356.7Q45.1,356.9 46.9,358.6M71.5,296.9Q73.1,299.2 74.2,299.4M99.1,322.4Q98.4,323.7 95.6,324.0M68.5,274.2Q67.8,275.3 66.9,274.5M161.6,298.4Q162.1,299.3 164.2,301.4M84.8,329.7Q84.3,330.4 81.8,331.8M69.5,333.6Q69.7,334.7 68.2,337.2M95.8,334.6Q95.3,334.9 92.5,335.9M125.9,338.5Q127.1,339.2 128.5,341.0M40.8,281.9Q41.2,282.4 40.3,283.7M50.1,342.9Q49.9,344.1 50.7,345.9M69.5,372.0Q68.9,372.4 68.0,374.0M75.5,353.8Q72.9,353.7 72.0,354.8M52.6,292.2Q52.8,293.4 51.0,294.1M58.5,316.2Q59.3,316.9 59.7,317.6M61.9,303.3Q61.4,304.6 60.4,306.8M78.0,365.5Q78.7,366.5 77.3,366.8M139.7,291.7Q139.5,292.3 138.5,294.0M99.5,318.7Q98.4,320.4 96.5,320.0M71.8,354.1Q72.4,355.6 73.7,354.9M77.4,307.5Q76.1,307.3 73.6,307.7M144.6,276.4Q144.9,275.9 146.1,276.7M87.3,311.4Q88.5,313.4 87.5,313.0M158.3,280.5Q156.4,280.1 156.1,281.8M66.1,278.8Q66.3,279.0 64.1,281.4M62.7,278.1Q60.1,278.6 59.6,280.5M123.6,289.9Q123.8,290.4 126.0,291.1M40.5,313.4Q39.6,313.8 40.2,315.1M65.6,355.6Q68.3,355.8 69.4,356.7M65.6,351.9Q66.4,352.8 68.7,353.7M66.0,332.9Q67.8,332.3 69.9,333.2M61.2,343.4Q61.5,345.8 61.5,347.2M82.3,290.7Q82.6,291.6 81.1,294.3M140.2,283.1Q140.7,283.3 141.9,283.8M94.6,342.1Q94.4,342.0 95.5,344.4M72.5,360.5Q71.4,361.8 70.6,363.4M64.0,299.1Q63.2,301.1 62.9,302.9M102.6,305.6Q103.8,307.8 103.1,308.1M76.6,326.3Q74.7,326.4 74.6,326.6M41.5,327.0Q42.0,327.0 44.2,327.1M100.2,306.8Q100.3,306.6 101.0,308.2M116.1,296.2Q114.1,297.3 114.4,298.4M124.2,296.7Q122.9,299.0 121.6,299.2M46.2,384.2Q46.7,384.6 45.9,386.6M44.6,390.4Q43.9,392.4 45.1,392.4M74.6,327.3Q74.8,328.5 74.0,329.3M114.2,307.7Q115.4,308.2 118.1,307.9M71.3,388.7Q71.3,390.3 70.7,391.3M80.1,382.2Q78.7,383.5 78.9,384.1M78.2,395.3Q79.8,395.9 79.3,398.3M42.2,326.9Q40.3,327.2 40.4,326.9M109.0,284.0Q108.8,285.3 108.1,287.8M59.5,309.7Q60.2,309.9 60.8,310.6M136.6,286.1Q136.9,286.7 136.4,288.2M66.2,284.0Q67.4,284.5 67.1,286.3M83.2,363.4Q85.4,364.5 85.3,363.6M80.1,304.3Q81.9,306.0 82.2,305.9M130.4,319.1Q127.9,319.9 126.9,319.8M61.9,394.2Q63.0,395.4 62.9,397.6M48.1,333.7Q49.0,334.8 48.3,335.4M73.8,295.1Q74.7,295.8 73.7,298.0M99.2,325.3Q99.9,326.1 101.2,326.7M64.6,309.0Q63.2,308.9 61.9,309.6M44.4,334.3Q45.4,335.0 46.6,335.1M84.6,362.1Q85.0,362.5 87.6,362.7M116.9,339.3Q117.9,340.0 117.8,341.1M107.2,297.2Q106.1,299.4 107.4,300.3M99.3,302.0Q99.3,302.7 100.1,305.2M137.7,287.5Q136.4,289.4 136.9,289.4M73.2,340.0Q74.4,341.7 74.8,343.0M125.0,337.8Q124.8,339.1 123.8,341.3M53.6,339.4Q51.9,340.4 51.6,339.6M82.3,292.5Q84.3,294.1 83.9,295.0M52.8,307.7Q52.9,308.1 52.9,309.5M125.4,324.9Q123.9,327.2 123.6,327.9M43.8,298.1Q43.1,299.0 42.2,298.3M165.7,279.7Q168.1,280.5 169.5,280.0M88.9,381.9Q88.4,382.8 88.9,385.4M49.7,337.3Q50.9,337.1 52.0,338.9M78.3,353.6Q77.4,355.5 78.2,355.5M66.8,387.2Q64.4,387.9 63.1,387.6M48.9,392.4Q49.6,391.7 52.1,392.8M84.2,388.0Q85.8,388.3 86.0,390.9M109.2,317.8Q108.8,319.2 107.6,318.3M56.2,328.9Q56.2,330.7 55.5,332.6M67.8,291.8Q69.2,293.2 69.5,292.1M66.6,376.7Q64.9,376.8 64.4,377.8M106.9,296.6Q106.9,298.6 105.5,298.2M123.1,312.9Q123.0,315.2 122.4,315.4M100.7,325.1Q101.1,324.6 101.5,326.5M95.8,282.8Q95.8,282.3 93.8,283.6M114.7,330.3Q115.2,330.7 115.6,331.6M112.4,276.5Q111.1,278.0 111.3,279.3M118.3,334.7Q119.1,336.0 118.8,338.0M114.3,345.2Q115.2,346.1 115.4,347.4M96.0,316.5Q96.5,316.8 95.1,318.5M122.5,336.0Q121.5,336.2 121.0,338.7M86.1,334.7Q85.0,335.4 83.2,335.4M84.5,369.7Q83.6,369.9 82.8,370.3M166.5,283.4Q165.6,283.6 166.0,285.0M77.2,314.7Q77.1,316.6 78.7,316.2M133.3,314.0Q133.4,313.1 131.6,314.2M113.2,298.6Q115.5,299.4 116.0,300.9M85.8,301.7Q86.3,301.5 87.7,302.3M103.8,333.0Q102.5,334.3 102.7,334.5M61.5,380.4Q61.8,380.1 63.7,381.1M56.8,308.2Q57.3,310.6 58.3,311.8M49.4,279.2Q49.6,280.0 51.3,282.4M90.6,359.1Q91.3,359.5 92.8,360.7M71.8,369.6Q72.7,369.3 72.4,371.2M122.8,292.6Q123.1,291.9 121.1,293.6M143.8,293.6Q142.6,295.2 143.3,295.2M147.2,304.6Q147.8,304.4 147.1,306.5M129.5,283.8Q129.5,284.5 131.6,285.0M78.0,384.6Q76.8,386.4 75.6,387.5M82.2,328.0Q82.5,330.3 82.9,330.8M149.0,307.1Q149.7,308.2 150.3,308.1M138.9,306.2Q138.6,307.9 139.0,307.9M106.0,324.6Q104.6,326.9 102.9,326.9M58.9,366.5Q58.8,367.9 60.4,368.9M150.4,290.5Q147.8,290.7 146.6,290.6M101.6,311.0Q103.3,312.4 102.8,312.3M103.4,275.9Q104.3,276.1 102.7,278.4M123.4,274.0Q125.4,275.5 126.6,276.3M66.1,327.1Q67.0,326.7 68.3,328.5M108.8,319.1Q110.6,320.2 111.3,320.4M53.2,316.4Q51.5,318.0 52.1,317.8M48.2,374.9Q48.6,377.0 48.0,376.9M151.1,287.5Q150.7,289.0 151.8,290.7M159.1,270.5Q159.8,272.0 158.7,273.7M71.6,376.9Q70.6,376.6 70.6,378.4M61.3,376.8Q59.6,378.1 59.5,377.3M46.7,352.4Q47.3,353.1 45.8,355.1M142.7,300.1Q141.4,300.9 140.2,303.1M61.3,374.2Q61.9,373.8 64.5,375.2M67.8,365.8Q66.5,368.3 65.8,368.6M59.2,297.1Q60.7,298.9 61.0,299.0M134.4,309.4Q135.4,310.7 136.1,311.9M59.4,376.2Q57.1,376.7 56.7,378.4M94.1,297.0Q94.6,298.8 95.7,299.2M81.1,359.2Q82.6,360.2 84.1,359.4M44.9,322.4Q43.7,323.5 43.5,323.8M118.0,310.1Q117.9,310.4 117.1,312.0M130.3,277.6Q130.6,279.0 128.8,278.2M112.2,335.8Q112.0,335.9 109.5,336.3M65.6,336.8Q65.6,337.8 63.5,338.3M50.4,336.4Q51.1,337.7 50.2,338.2M99.4,288.2Q97.6,287.9 95.9,289.7M125.9,319.3Q125.8,319.6 126.9,321.6M122.6,334.3Q121.7,334.4 120.8,336.2M74.0,339.5Q74.0,340.6 72.7,342.4M72.3,284.0Q72.0,285.5 69.6,285.5M71.2,305.9Q72.3,307.4 73.6,308.7M42.3,282.2Q42.1,281.9 40.7,283.4M60.6,394.3Q60.1,395.7 59.1,395.4M133.6,280.5Q131.4,282.9 131.4,283.1M77.1,327.4Q77.1,327.8 76.6,330.2M52.5,332.3Q53.2,333.9 52.9,334.3" fill="none" stroke="#ebebef" stroke-width="0.5" stroke-linecap="round" opacity="0.7"/>
</g>
<path d="M127.7,299.6 C128.0,297.0 128.4,294.5 129.7,291.7 C131.0,288.9 133.3,285.5 135.6,282.7 C137.9,279.9 140.9,276.8 143.6,274.8 C146.2,272.8 149.0,271.3 151.5,270.8 C154.0,270.3 156.7,270.6 158.5,271.8 C160.3,273.0 161.4,274.8 162.4,277.8 C163.4,280.8 164.4,285.7 164.4,289.7 C164.4,293.7 163.4,298.0 162.4,301.6 C161.4,305.2 160.3,308.7 158.5,311.5 C156.7,314.3 154.3,316.8 151.5,318.5 C148.7,320.2 144.4,321.3 141.6,321.8 C138.8,322.3 136.4,322.3 134.6,321.4 C132.8,320.5 131.8,318.8 130.7,316.5 C129.6,314.2 128.6,310.3 128.1,307.5 C127.6,304.7 127.4,302.2 127.7,299.6 Z" fill="#f1eff3"/>
<path d="M131.2,299.1 C131.5,297.0 131.8,295.0 132.8,292.8 C133.9,290.5 135.7,287.8 137.6,285.6 C139.4,283.3 141.8,280.9 144.0,279.3 C146.1,277.7 148.3,276.5 150.3,276.1 C152.3,275.7 154.4,275.9 155.9,276.9 C157.3,277.8 158.2,279.3 159.0,281.7 C159.8,284.1 160.6,288.0 160.6,291.2 C160.6,294.4 159.8,297.8 159.0,300.7 C158.2,303.6 157.3,306.4 155.9,308.6 C154.4,310.9 152.5,312.9 150.3,314.2 C148.0,315.6 144.6,316.5 142.4,316.9 C140.1,317.3 138.2,317.3 136.8,316.6 C135.3,315.8 134.5,314.5 133.6,312.6 C132.8,310.8 132.0,307.7 131.6,305.4 C131.2,303.2 131.0,301.2 131.2,299.1 Z" fill="#fbf9a8" opacity="0.75" filter="url(#b2)"/>
<g filter="url(#b0)">
<path d="M133.7,301.9a0.8,0.7 0 1,0 1.6,0a0.8,0.7 0 1,0 -1.6,0M151.1,276.5a0.7,1.2 0 1,0 1.5,0a0.7,1.2 0 1,0 -1.5,0M154.5,278.1a0.7,0.6 0 1,0 1.3,0a0.7,0.6 0 1,0 -1.3,0M127.0,308.1a1.4,0.6 0 1,0 2.8,0a1.4,0.6 0 1,0 -2.8,0M141.9,287.2a0.8,1.3 0 1,0 1.5,0a0.8,1.3 0 1,0 -1.5,0M130.8,303.0a0.7,1.2 0 1,0 1.5,0a0.7,1.2 0 1,0 -1.5,0M142.8,304.5a1.5,1.1 0 1,0 3.0,0a1.5,1.1 0 1,0 -3.0,0M130.8,304.9a1.2,1.1 0 1,0 2.4,0a1.2,1.1 0 1,0 -2.4,0M141.2,312.6a0.7,1.1 0 1,0 1.3,0a0.7,1.1 0 1,0 -1.3,0M146.4,317.6a1.3,0.8 0 1,0 2.6,0a1.3,0.8 0 1,0 -2.6,0M140.8,301.2a0.9,0.7 0 1,0 1.9,0a0.9,0.7 0 1,0 -1.9,0M131.4,299.5a1.5,1.3 0 1,0 2.9,0a1.5,1.3 0 1,0 -2.9,0M148.2,285.3a1.2,1.3 0 1,0 2.4,0a1.2,1.3 0 1,0 -2.4,0M141.4,301.3a1.4,1.1 0 1,0 2.8,0a1.4,1.1 0 1,0 -2.8,0M136.8,307.8a0.7,0.7 0 1,0 1.5,0a0.7,0.7 0 1,0 -1.5,0M126.9,300.2a1.1,1.0 0 1,0 2.2,0a1.1,1.0 0 1,0 -2.2,0M147.2,280.4a0.8,1.1 0 1,0 1.6,0a0.8,1.1 0 1,0 -1.6,0M141.1,296.3a1.4,1.0 0 1,0 2.8,0a1.4,1.0 0 1,0 -2.8,0M154.0,273.9a1.0,0.6 0 1,0 2.1,0a1.0,0.6 0 1,0 -2.1,0M140.4,278.9a1.4,0.9 0 1,0 2.9,0a1.4,0.9 0 1,0 -2.9,0M140.2,310.8a1.1,1.4 0 1,0 2.2,0a1.1,1.4 0 1,0 -2.2,0M149.4,303.6a1.0,1.4 0 1,0 2.0,0a1.0,1.4 0 1,0 -2.0,0M143.4,277.9a0.8,1.3 0 1,0 1.6,0a0.8,1.3 0 1,0 -1.6,0M149.7,305.6a1.0,1.2 0 1,0 2.0,0a1.0,1.2 0 1,0 -2.0,0M142.5,300.9a0.6,1.0 0 1,0 1.3,0a0.6,1.0 0 1,0 -1.3,0M138.7,302.6a1.5,1.0 0 1,0 3.0,0a1.5,1.0 0 1,0 -3.0,0M141.6,312.7a1.4,0.8 0 1,0 2.7,0a1.4,0.8 0 1,0 -2.7,0M151.3,286.0a0.9,1.3 0 1,0 1.8,0a0.9,1.3 0 1,0 -1.8,0M140.0,317.4a1.0,1.4 0 1,0 2.1,0a1.0,1.4 0 1,0 -2.1,0M131.8,291.4a0.6,1.4 0 1,0 1.3,0a0.6,1.4 0 1,0 -1.3,0M159.3,295.6a1.0,1.5 0 1,0 2.0,0a1.0,1.5 0 1,0 -2.0,0M141.2,286.4a0.7,1.4 0 1,0 1.4,0a0.7,1.4 0 1,0 -1.4,0M155.9,297.7a1.3,1.4 0 1,0 2.5,0a1.3,1.4 0 1,0 -2.5,0M151.1,276.3a1.2,1.4 0 1,0 2.4,0a1.2,1.4 0 1,0 -2.4,0M144.0,292.6a1.2,0.8 0 1,0 2.4,0a1.2,0.8 0 1,0 -2.4,0M134.5,305.5a1.5,0.7 0 1,0 3.0,0a1.5,0.7 0 1,0 -3.0,0M151.5,296.5a0.6,0.7 0 1,0 1.3,0a0.6,0.7 0 1,0 -1.3,0M138.2,306.1a0.7,0.9 0 1,0 1.4,0a0.7,0.9 0 1,0 -1.4,0M149.0,309.3a1.5,1.4 0 1,0 3.0,0a1.5,1.4 0 1,0 -3.0,0M133.6,299.3a1.1,1.1 0 1,0 2.3,0a1.1,1.1 0 1,0 -2.3,0M148.8,290.3a0.8,1.2 0 1,0 1.6,0a0.8,1.2 0 1,0 -1.6,0M158.6,305.6a1.2,1.5 0 1,0 2.4,0a1.2,1.5 0 1,0 -2.4,0M135.7,300.1a1.3,1.2 0 1,0 2.7,0a1.3,1.2 0 1,0 -2.7,0M156.7,281.1a1.0,1.5 0 1,0 1.9,0a1.0,1.5 0 1,0 -1.9,0M143.2,298.5a1.1,1.4 0 1,0 2.3,0a1.1,1.4 0 1,0 -2.3,0M143.2,316.6a1.2,1.0 0 1,0 2.5,0a1.2,1.0 0 1,0 -2.5,0M149.6,286.1a0.6,1.0 0 1,0 1.3,0a0.6,1.0 0 1,0 -1.3,0M139.9,293.8a0.7,1.3 0 1,0 1.5,0a0.7,1.3 0 1,0 -1.5,0M132.6,298.3a0.8,1.2 0 1,0 1.7,0a0.8,1.2 0 1,0 -1.7,0M130.6,296.0a1.4,0.6 0 1,0 2.7,0a1.4,0.6 0 1,0 -2.7,0M157.6,305.0a0.8,1.4 0 1,0 1.6,0a0.8,1.4 0 1,0 -1.6,0M132.8,295.7a1.3,1.1 0 1,0 2.5,0a1.3,1.1 0 1,0 -2.5,0M133.0,319.0a1.4,0.9 0 1,0 2.8,0a1.4,0.9 0 1,0 -2.8,0M128.7,303.2a0.8,1.4 0 1,0 1.6,0a0.8,1.4 0 1,0 -1.6,0M154.9,310.5a1.3,0.9 0 1,0 2.7,0a1.3,0.9 0 1,0 -2.7,0M153.0,271.4a1.2,1.0 0 1,0 2.5,0a1.2,1.0 0 1,0 -2.5,0M143.2,306.9a1.1,1.2 0 1,0 2.3,0a1.1,1.2 0 1,0 -2.3,0M135.7,306.7a1.4,1.2 0 1,0 2.8,0a1.4,1.2 0 1,0 -2.8,0M154.8,303.2a0.7,0.8 0 1,0 1.5,0a0.7,0.8 0 1,0 -1.5,0M148.1,309.3a1.0,1.2 0 1,0 2.0,0a1.0,1.2 0 1,0 -2.0,0M139.2,286.9a0.8,1.0 0 1,0 1.5,0a0.8,1.0 0 1,0 -1.5,0M147.5,276.4a1.4,0.6 0 1,0 2.9,0a1.4,0.6 0 1,0 -2.9,0M153.1,288.5a1.4,0.9 0 1,0 2.9,0a1.4,0.9 0 1,0 -2.9,0M127.7,306.0a0.9,1.3 0 1,0 1.9,0a0.9,1.3 0 1,0 -1.9,0M151.0,293.3a1.2,1.2 0 1,0 2.4,0a1.2,1.2 0 1,0 -2.4,0M138.6,280.7a1.2,1.1 0 1,0 2.4,0a1.2,1.1 0 1,0 -2.4,0M142.4,275.4a1.1,1.0 0 1,0 2.1,0a1.1,1.0 0 1,0 -2.1,0M137.3,309.1a1.3,0.7 0 1,0 2.5,0a1.3,0.7 0 1,0 -2.5,0M139.0,282.8a0.7,0.8 0 1,0 1.5,0a0.7,0.8 0 1,0 -1.5,0M144.8,312.2a1.3,0.6 0 1,0 2.6,0a1.3,0.6 0 1,0 -2.6,0M155.0,303.3a0.8,0.6 0 1,0 1.7,0a0.8,0.6 0 1,0 -1.7,0M158.4,277.7a0.8,0.9 0 1,0 1.7,0a0.8,0.9 0 1,0 -1.7,0M158.1,294.9a0.7,0.8 0 1,0 1.3,0a0.7,0.8 0 1,0 -1.3,0M158.0,283.1a1.1,1.4 0 1,0 2.1,0a1.1,1.4 0 1,0 -2.1,0M127.2,307.9a1.1,0.6 0 1,0 2.2,0a1.1,0.6 0 1,0 -2.2,0M148.1,303.2a0.8,0.6 0 1,0 1.6,0a0.8,0.6 0 1,0 -1.6,0M152.8,307.2a0.8,0.6 0 1,0 1.5,0a0.8,0.6 0 1,0 -1.5,0M147.9,286.5a0.9,1.4 0 1,0 1.8,0a0.9,1.4 0 1,0 -1.8,0M147.2,276.8a1.2,1.2 0 1,0 2.5,0a1.2,1.2 0 1,0 -2.5,0M147.5,319.4a1.0,1.2 0 1,0 2.1,0a1.0,1.2 0 1,0 -2.1,0M137.7,292.7a1.1,0.7 0 1,0 2.1,0a1.1,0.7 0 1,0 -2.1,0M152.2,273.6a0.8,1.1 0 1,0 1.7,0a0.8,1.1 0 1,0 -1.7,0M156.5,308.1a0.9,0.8 0 1,0 1.9,0a0.9,0.8 0 1,0 -1.9,0M129.6,292.1a1.1,1.2 0 1,0 2.2,0a1.1,1.2 0 1,0 -2.2,0M134.0,312.7a1.1,1.3 0 1,0 2.3,0a1.1,1.3 0 1,0 -2.3,0M151.5,286.0a0.8,0.9 0 1,0 1.7,0a0.8,0.9 0 1,0 -1.7,0M156.6,301.2a0.9,1.4 0 1,0 1.7,0a0.9,1.4 0 1,0 -1.7,0M150.8,308.3a0.9,1.5 0 1,0 1.8,0a0.9,1.5 0 1,0 -1.8,0M144.3,305.2a1.0,1.1 0 1,0 1.9,0a1.0,1.1 0 1,0 -1.9,0M133.2,289.6a1.0,1.3 0 1,0 1.9,0a1.0,1.3 0 1,0 -1.9,0M149.9,294.9a1.4,0.6 0 1,0 2.8,0a1.4,0.6 0 1,0 -2.8,0M142.7,313.2a1.3,0.9 0 1,0 2.6,0a1.3,0.9 0 1,0 -2.6,0M146.0,291.0a0.6,0.7 0 1,0 1.2,0a0.6,0.7 0 1,0 -1.2,0M135.3,315.3a0.8,0.9 0 1,0 1.5,0a0.8,0.9 0 1,0 -1.5,0M147.0,306.4a1.2,0.9 0 1,0 2.4,0a1.2,0.9 0 1,0 -2.4,0M156.0,290.0a0.9,0.8 0 1,0 1.7,0a0.9,0.8 0 1,0 -1.7,0M144.9,278.4a0.9,0.7 0 1,0 1.8,0a0.9,0.7 0 1,0 -1.8,0M133.8,297.7a0.9,0.7 0 1,0 1.8,0a0.9,0.7 0 1,0 -1.8,0M158.7,273.8a1.0,0.9 0 1,0 1.9,0a1.0,0.9 0 1,0 -1.9,0M143.1,305.9a0.8,0.9 0 1,0 1.7,0a0.8,0.9 0 1,0 -1.7,0M159.7,303.2a1.0,0.8 0 1,0 2.0,0a1.0,0.8 0 1,0 -2.0,0M135.6,314.2a0.9,1.0 0 1,0 1.9,0a0.9,1.0 0 1,0 -1.9,0M138.5,311.7a0.9,1.1 0 1,0 1.7,0a0.9,1.1 0 1,0 -1.7,0M133.8,317.2a1.1,1.1 0 1,0 2.1,0a1.1,1.1 0 1,0 -2.1,0M155.8,297.5a1.0,1.2 0 1,0 2.1,0a1.0,1.2 0 1,0 -2.1,0M144.2,300.2a0.9,0.7 0 1,0 1.7,0a0.9,0.7 0 1,0 -1.7,0M134.8,320.3a1.1,0.6 0 1,0 2.3,0a1.1,0.6 0 1,0 -2.3,0M133.5,300.5a1.1,1.5 0 1,0 2.1,0a1.1,1.5 0 1,0 -2.1,0M140.5,302.9a1.2,1.3 0 1,0 2.4,0a1.2,1.3 0 1,0 -2.4,0M153.1,312.6a0.9,1.3 0 1,0 1.8,0a0.9,1.3 0 1,0 -1.8,0M138.2,302.4a1.4,1.3 0 1,0 2.7,0a1.4,1.3 0 1,0 -2.7,0M152.6,278.2a0.7,0.9 0 1,0 1.5,0a0.7,0.9 0 1,0 -1.5,0M150.4,272.5a1.2,0.7 0 1,0 2.4,0a1.2,0.7 0 1,0 -2.4,0M133.7,285.0a1.1,1.2 0 1,0 2.2,0a1.1,1.2 0 1,0 -2.2,0M161.8,282.5a0.7,1.4 0 1,0 1.4,0a0.7,1.4 0 1,0 -1.4,0M148.1,317.7a1.2,0.7 0 1,0 2.5,0a1.2,0.7 0 1,0 -2.5,0M140.0,282.0a1.0,0.9 0 1,0 2.0,0a1.0,0.9 0 1,0 -2.0,0M161.6,290.5a1.4,1.5 0 1,0 2.8,0a1.4,1.5 0 1,0 -2.8,0M153.5,289.3a1.2,1.3 0 1,0 2.3,0a1.2,1.3 0 1,0 -2.3,0M139.5,295.0a0.7,0.7 0 1,0 1.4,0a0.7,0.7 0 1,0 -1.4,0" fill="#f9f352" opacity="0.85"/>
</g>
<g filter="url(#b0)">
<g fill="#f9a5a5" stroke="#f0141c" stroke-width="0.8" opacity="0.97"><ellipse cx="69.8" cy="297.3" rx="1.9" ry="0.9" transform="rotate(36 69.8 297.3)"/><ellipse cx="103.7" cy="324.8" rx="2.1" ry="0.5" transform="rotate(33 103.7 324.8)"/><ellipse cx="111.3" cy="299.5" rx="1.2" ry="0.8" transform="rotate(87 111.3 299.5)"/><ellipse cx="52.8" cy="343.7" rx="2.0" ry="0.8" transform="rotate(67 52.8 343.7)"/><ellipse cx="91.7" cy="290.9" rx="2.1" ry="0.5" transform="rotate(72 91.7 290.9)"/><ellipse cx="69.4" cy="350.4" rx="2.7" ry="0.6" transform="rotate(2 69.4 350.4)"/><ellipse cx="86.4" cy="310.3" rx="2.1" ry="0.9" transform="rotate(109 86.4 310.3)"/><ellipse cx="67.5" cy="314.7" rx="2.2" ry="0.8" transform="rotate(63 67.5 314.7)"/><ellipse cx="97.4" cy="315.5" rx="1.3" ry="0.7" transform="rotate(51 97.4 315.5)"/><ellipse cx="101.4" cy="323.7" rx="2.7" ry="0.6" transform="rotate(10 101.4 323.7)"/><ellipse cx="122.5" cy="294.2" rx="1.2" ry="0.5" transform="rotate(37 122.5 294.2)"/><ellipse cx="104.0" cy="279.0" rx="1.7" ry="0.8" transform="rotate(94 104.0 279.0)"/><ellipse cx="123.8" cy="308.3" rx="2.3" ry="0.6" transform="rotate(60 123.8 308.3)"/><ellipse cx="67.1" cy="329.0" rx="2.0" ry="0.6" transform="rotate(96 67.1 329.0)"/><ellipse cx="113.5" cy="318.5" rx="1.3" ry="0.6" transform="rotate(37 113.5 318.5)"/><ellipse cx="97.7" cy="343.7" rx="2.6" ry="0.7" transform="rotate(54 97.7 343.7)"/><ellipse cx="95.3" cy="364.9" rx="1.2" ry="0.9" transform="rotate(-4 95.3 364.9)"/><ellipse cx="92.8" cy="376.0" rx="1.4" ry="0.7" transform="rotate(30 92.8 376.0)"/><ellipse cx="68.2" cy="312.1" rx="2.0" ry="0.6" transform="rotate(19 68.2 312.1)"/><ellipse cx="91.9" cy="306.5" rx="2.2" ry="0.6" transform="rotate(76 91.9 306.5)"/><ellipse cx="78.5" cy="360.3" rx="2.7" ry="0.6" transform="rotate(36 78.5 360.3)"/><ellipse cx="81.9" cy="321.6" rx="1.4" ry="0.7" transform="rotate(42 81.9 321.6)"/><ellipse cx="117.8" cy="303.9" rx="1.5" ry="0.8" transform="rotate(39 117.8 303.9)"/><ellipse cx="82.8" cy="312.4" rx="1.6" ry="0.8" transform="rotate(32 82.8 312.4)"/><ellipse cx="94.2" cy="306.4" rx="2.7" ry="0.9" transform="rotate(53 94.2 306.4)"/><ellipse cx="62.5" cy="318.6" rx="1.2" ry="0.8" transform="rotate(68 62.5 318.6)"/><ellipse cx="83.4" cy="382.6" rx="1.1" ry="0.8" transform="rotate(50 83.4 382.6)"/><ellipse cx="50.7" cy="334.0" rx="2.0" ry="0.5" transform="rotate(73 50.7 334.0)"/><ellipse cx="104.1" cy="291.3" rx="1.6" ry="0.9" transform="rotate(39 104.1 291.3)"/><ellipse cx="118.0" cy="283.6" rx="1.3" ry="0.8" transform="rotate(32 118.0 283.6)"/><ellipse cx="103.7" cy="357.2" rx="1.4" ry="0.9" transform="rotate(45 103.7 357.2)"/><ellipse cx="70.8" cy="318.8" rx="2.5" ry="0.8" transform="rotate(60 70.8 318.8)"/><ellipse cx="58.5" cy="320.7" rx="1.3" ry="0.9" transform="rotate(11 58.5 320.7)"/><ellipse cx="78.0" cy="389.1" rx="1.6" ry="0.9" transform="rotate(73 78.0 389.1)"/><ellipse cx="84.0" cy="321.9" rx="2.1" ry="0.5" transform="rotate(31 84.0 321.9)"/><ellipse cx="67.6" cy="296.3" rx="1.8" ry="0.5" transform="rotate(92 67.6 296.3)"/><ellipse cx="72.2" cy="299.9" rx="1.8" ry="0.8" transform="rotate(21 72.2 299.9)"/><ellipse cx="85.5" cy="317.9" rx="2.2" ry="0.9" transform="rotate(36 85.5 317.9)"/><ellipse cx="93.4" cy="374.8" rx="1.6" ry="0.7" transform="rotate(123 93.4 374.8)"/><ellipse cx="103.3" cy="318.7" rx="1.7" ry="0.9" transform="rotate(39 103.3 318.7)"/><ellipse cx="102.9" cy="302.2" rx="2.6" ry="0.9" transform="rotate(65 102.9 302.2)"/><ellipse cx="67.1" cy="385.3" rx="2.7" ry="0.6" transform="rotate(53 67.1 385.3)"/><ellipse cx="67.0" cy="313.9" rx="1.6" ry="0.6" transform="rotate(44 67.0 313.9)"/><ellipse cx="91.5" cy="378.8" rx="1.5" ry="0.9" transform="rotate(52 91.5 378.8)"/><ellipse cx="93.8" cy="325.2" rx="1.8" ry="0.6" transform="rotate(24 93.8 325.2)"/><ellipse cx="77.9" cy="358.0" rx="1.9" ry="0.5" transform="rotate(28 77.9 358.0)"/><ellipse cx="119.9" cy="320.7" rx="1.3" ry="0.6" transform="rotate(73 119.9 320.7)"/><ellipse cx="109.1" cy="283.1" rx="1.2" ry="0.6" transform="rotate(3 109.1 283.1)"/><ellipse cx="122.6" cy="311.1" rx="1.2" ry="0.5" transform="rotate(31 122.6 311.1)"/><ellipse cx="119.8" cy="330.8" rx="1.3" ry="0.8" transform="rotate(98 119.8 330.8)"/><ellipse cx="68.1" cy="314.1" rx="1.8" ry="0.6" transform="rotate(39 68.1 314.1)"/><ellipse cx="102.9" cy="297.6" rx="1.1" ry="0.6" transform="rotate(57 102.9 297.6)"/><ellipse cx="68.0" cy="330.3" rx="1.4" ry="0.7" transform="rotate(9 68.0 330.3)"/><ellipse cx="103.3" cy="325.7" rx="2.2" ry="0.5" transform="rotate(28 103.3 325.7)"/><ellipse cx="96.4" cy="306.9" rx="2.1" ry="0.9" transform="rotate(50 96.4 306.9)"/><ellipse cx="117.1" cy="331.1" rx="2.1" ry="0.5" transform="rotate(-9 117.1 331.1)"/><ellipse cx="124.5" cy="283.8" rx="1.9" ry="0.8" transform="rotate(47 124.5 283.8)"/><ellipse cx="124.2" cy="285.8" rx="1.9" ry="0.8" transform="rotate(76 124.2 285.8)"/><ellipse cx="104.7" cy="323.0" rx="1.2" ry="0.8" transform="rotate(51 104.7 323.0)"/><ellipse cx="89.3" cy="337.0" rx="2.4" ry="0.7" transform="rotate(-1 89.3 337.0)"/><ellipse cx="122.6" cy="309.2" rx="1.2" ry="0.9" transform="rotate(99 122.6 309.2)"/><ellipse cx="113.9" cy="279.0" rx="1.6" ry="0.5" transform="rotate(-15 113.9 279.0)"/><ellipse cx="96.4" cy="328.5" rx="1.9" ry="0.9" transform="rotate(47 96.4 328.5)"/><ellipse cx="116.4" cy="330.9" rx="2.2" ry="0.6" transform="rotate(15 116.4 330.9)"/><ellipse cx="72.9" cy="332.2" rx="2.2" ry="0.5" transform="rotate(25 72.9 332.2)"/><ellipse cx="73.0" cy="386.6" rx="1.3" ry="0.8" transform="rotate(48 73.0 386.6)"/><ellipse cx="86.8" cy="304.8" rx="1.5" ry="0.6" transform="rotate(104 86.8 304.8)"/><ellipse cx="86.2" cy="374.7" rx="1.6" ry="0.5" transform="rotate(101 86.2 374.7)"/><ellipse cx="75.5" cy="306.2" rx="2.7" ry="0.7" transform="rotate(11 75.5 306.2)"/><ellipse cx="85.0" cy="303.2" rx="1.4" ry="0.7" transform="rotate(102 85.0 303.2)"/><ellipse cx="82.1" cy="306.2" rx="1.6" ry="0.7" transform="rotate(50 82.1 306.2)"/><ellipse cx="105.1" cy="324.2" rx="2.0" ry="0.9" transform="rotate(39 105.1 324.2)"/><ellipse cx="121.1" cy="313.8" rx="2.3" ry="0.5" transform="rotate(-7 121.1 313.8)"/><ellipse cx="78.0" cy="325.2" rx="2.0" ry="0.8" transform="rotate(68 78.0 325.2)"/><ellipse cx="97.8" cy="323.8" rx="1.7" ry="0.9" transform="rotate(-34 97.8 323.8)"/><ellipse cx="87.6" cy="370.7" rx="1.4" ry="0.9" transform="rotate(-31 87.6 370.7)"/><ellipse cx="96.1" cy="303.7" rx="2.6" ry="0.6" transform="rotate(20 96.1 303.7)"/><ellipse cx="109.1" cy="283.8" rx="2.3" ry="0.8" transform="rotate(31 109.1 283.8)"/><ellipse cx="73.3" cy="332.5" rx="1.8" ry="0.5" transform="rotate(-0 73.3 332.5)"/><ellipse cx="75.8" cy="314.0" rx="2.4" ry="0.5" transform="rotate(66 75.8 314.0)"/><ellipse cx="81.2" cy="385.5" rx="2.0" ry="0.7" transform="rotate(109 81.2 385.5)"/><ellipse cx="81.2" cy="390.8" rx="2.4" ry="0.7" transform="rotate(10 81.2 390.8)"/><ellipse cx="108.1" cy="333.4" rx="2.3" ry="0.5" transform="rotate(95 108.1 333.4)"/><ellipse cx="110.5" cy="320.2" rx="2.0" ry="0.8" transform="rotate(50 110.5 320.2)"/><ellipse cx="91.7" cy="326.4" rx="2.5" ry="0.5" transform="rotate(100 91.7 326.4)"/><ellipse cx="105.4" cy="306.6" rx="1.9" ry="0.5" transform="rotate(27 105.4 306.6)"/><ellipse cx="83.1" cy="347.0" rx="2.3" ry="0.6" transform="rotate(51 83.1 347.0)"/><ellipse cx="112.9" cy="280.4" rx="2.0" ry="0.6" transform="rotate(62 112.9 280.4)"/><ellipse cx="69.1" cy="380.2" rx="2.0" ry="0.7" transform="rotate(84 69.1 380.2)"/><ellipse cx="108.6" cy="315.2" rx="1.5" ry="0.6" transform="rotate(65 108.6 315.2)"/><ellipse cx="71.4" cy="355.1" rx="1.4" ry="0.9" transform="rotate(62 71.4 355.1)"/><ellipse cx="91.1" cy="289.6" rx="1.2" ry="0.7" transform="rotate(-11 91.1 289.6)"/><ellipse cx="63.9" cy="299.8" rx="1.5" ry="0.6" transform="rotate(26 63.9 299.8)"/><ellipse cx="67.3" cy="313.9" rx="2.0" ry="0.8" transform="rotate(44 67.3 313.9)"/><ellipse cx="94.0" cy="310.2" rx="1.8" ry="0.9" transform="rotate(53 94.0 310.2)"/><ellipse cx="96.1" cy="358.3" rx="2.0" ry="0.8" transform="rotate(81 96.1 358.3)"/><ellipse cx="91.5" cy="283.9" rx="2.4" ry="0.6" transform="rotate(6 91.5 283.9)"/><ellipse cx="121.8" cy="302.2" rx="2.7" ry="0.9" transform="rotate(14 121.8 302.2)"/><ellipse cx="115.7" cy="335.1" rx="2.4" ry="0.7" transform="rotate(111 115.7 335.1)"/><ellipse cx="113.5" cy="331.8" rx="1.1" ry="0.7" transform="rotate(89 113.5 331.8)"/><ellipse cx="60.3" cy="365.4" rx="2.2" ry="0.6" transform="rotate(56 60.3 365.4)"/><ellipse cx="89.8" cy="374.1" rx="2.7" ry="0.6" transform="rotate(71 89.8 374.1)"/><ellipse cx="78.3" cy="344.1" rx="2.6" ry="0.8" transform="rotate(52 78.3 344.1)"/><ellipse cx="115.9" cy="294.2" rx="1.4" ry="0.9" transform="rotate(-13 115.9 294.2)"/><ellipse cx="76.3" cy="304.9" rx="2.1" ry="0.7" transform="rotate(57 76.3 304.9)"/><ellipse cx="85.1" cy="285.4" rx="2.3" ry="0.7" transform="rotate(106 85.1 285.4)"/><ellipse cx="113.5" cy="302.3" rx="1.1" ry="0.8" transform="rotate(-13 113.5 302.3)"/><ellipse cx="95.2" cy="330.6" rx="2.4" ry="0.5" transform="rotate(22 95.2 330.6)"/><ellipse cx="121.9" cy="324.5" rx="1.4" ry="0.6" transform="rotate(40 121.9 324.5)"/><ellipse cx="78.5" cy="325.4" rx="1.6" ry="0.7" transform="rotate(26 78.5 325.4)"/><ellipse cx="71.1" cy="317.5" rx="2.0" ry="0.5" transform="rotate(31 71.1 317.5)"/><ellipse cx="81.0" cy="287.0" rx="1.1" ry="0.9" transform="rotate(51 81.0 287.0)"/><ellipse cx="92.0" cy="368.4" rx="2.1" ry="0.8" transform="rotate(83 92.0 368.4)"/><ellipse cx="93.2" cy="315.5" rx="2.2" ry="0.7" transform="rotate(41 93.2 315.5)"/><ellipse cx="107.9" cy="324.6" rx="1.4" ry="0.6" transform="rotate(-6 107.9 324.6)"/><ellipse cx="93.3" cy="312.3" rx="2.2" ry="0.5" transform="rotate(32 93.3 312.3)"/><ellipse cx="64.4" cy="346.3" rx="1.2" ry="0.5" transform="rotate(28 64.4 346.3)"/><ellipse cx="110.8" cy="319.3" rx="2.1" ry="0.5" transform="rotate(22 110.8 319.3)"/><ellipse cx="86.5" cy="306.1" rx="1.3" ry="0.5" transform="rotate(82 86.5 306.1)"/><ellipse cx="83.0" cy="289.0" rx="1.3" ry="0.8" transform="rotate(28 83.0 289.0)"/><ellipse cx="112.0" cy="278.3" rx="2.6" ry="0.5" transform="rotate(23 112.0 278.3)"/><ellipse cx="61.5" cy="330.1" rx="1.2" ry="0.9" transform="rotate(56 61.5 330.1)"/><ellipse cx="93.8" cy="311.1" rx="2.0" ry="0.6" transform="rotate(5 93.8 311.1)"/><ellipse cx="83.5" cy="288.3" rx="1.7" ry="0.9" transform="rotate(26 83.5 288.3)"/><ellipse cx="99.1" cy="333.7" rx="1.8" ry="0.8" transform="rotate(29 99.1 333.7)"/><ellipse cx="51.3" cy="334.2" rx="1.8" ry="0.9" transform="rotate(9 51.3 334.2)"/><ellipse cx="94.9" cy="335.8" rx="1.7" ry="0.5" transform="rotate(61 94.9 335.8)"/><ellipse cx="115.3" cy="317.8" rx="2.0" ry="0.7" transform="rotate(107 115.3 317.8)"/><ellipse cx="77.8" cy="304.1" rx="1.8" ry="0.6" transform="rotate(36 77.8 304.1)"/><ellipse cx="125.1" cy="294.8" rx="1.7" ry="0.9" transform="rotate(58 125.1 294.8)"/><ellipse cx="118.7" cy="315.8" rx="2.3" ry="0.8" transform="rotate(13 118.7 315.8)"/><ellipse cx="74.9" cy="356.8" rx="1.9" ry="0.8" transform="rotate(36 74.9 356.8)"/><ellipse cx="119.9" cy="317.2" rx="1.8" ry="0.9" transform="rotate(59 119.9 317.2)"/><ellipse cx="75.4" cy="301.7" rx="2.5" ry="0.8" transform="rotate(68 75.4 301.7)"/><ellipse cx="97.5" cy="300.6" rx="2.5" ry="0.6" transform="rotate(99 97.5 300.6)"/><ellipse cx="83.0" cy="350.8" rx="2.6" ry="0.6" transform="rotate(57 83.0 350.8)"/><ellipse cx="64.2" cy="367.7" rx="1.8" ry="0.9" transform="rotate(80 64.2 367.7)"/><ellipse cx="111.1" cy="323.3" rx="2.0" ry="0.9" transform="rotate(68 111.1 323.3)"/><ellipse cx="121.0" cy="322.2" rx="1.5" ry="0.6" transform="rotate(89 121.0 322.2)"/><ellipse cx="97.4" cy="336.0" rx="1.7" ry="0.6" transform="rotate(27 97.4 336.0)"/><ellipse cx="96.9" cy="342.3" rx="1.9" ry="0.6" transform="rotate(78 96.9 342.3)"/><ellipse cx="86.9" cy="314.2" rx="2.7" ry="0.6" transform="rotate(17 86.9 314.2)"/><ellipse cx="101.0" cy="339.3" rx="1.3" ry="0.5" transform="rotate(30 101.0 339.3)"/><ellipse cx="89.9" cy="306.2" rx="1.6" ry="0.5" transform="rotate(61 89.9 306.2)"/><ellipse cx="77.3" cy="345.1" rx="1.8" ry="0.6" transform="rotate(70 77.3 345.1)"/><ellipse cx="78.3" cy="332.9" rx="2.4" ry="0.6" transform="rotate(41 78.3 332.9)"/><ellipse cx="73.9" cy="332.2" rx="2.0" ry="0.9" transform="rotate(91 73.9 332.2)"/><ellipse cx="76.8" cy="298.5" rx="2.6" ry="0.9" transform="rotate(64 76.8 298.5)"/><ellipse cx="70.1" cy="383.9" rx="1.7" ry="0.6" transform="rotate(53 70.1 383.9)"/><ellipse cx="90.9" cy="337.0" rx="2.1" ry="0.5" transform="rotate(32 90.9 337.0)"/><ellipse cx="79.2" cy="383.5" rx="1.9" ry="0.8" transform="rotate(-32 79.2 383.5)"/><ellipse cx="81.8" cy="368.0" rx="2.0" ry="0.8" transform="rotate(37 81.8 368.0)"/><ellipse cx="93.5" cy="347.0" rx="2.4" ry="0.8" transform="rotate(-2 93.5 347.0)"/><ellipse cx="116.2" cy="300.7" rx="1.4" ry="0.5" transform="rotate(57 116.2 300.7)"/><ellipse cx="89.8" cy="330.4" rx="2.6" ry="0.8" transform="rotate(60 89.8 330.4)"/><ellipse cx="89.9" cy="305.6" rx="2.6" ry="0.7" transform="rotate(-25 89.9 305.6)"/><ellipse cx="88.4" cy="286.3" rx="2.6" ry="0.8" transform="rotate(45 88.4 286.3)"/><ellipse cx="71.1" cy="300.1" rx="1.6" ry="0.9" transform="rotate(69 71.1 300.1)"/><ellipse cx="98.1" cy="326.3" rx="1.7" ry="0.6" transform="rotate(48 98.1 326.3)"/><ellipse cx="111.5" cy="301.5" rx="2.2" ry="0.7" transform="rotate(83 111.5 301.5)"/><ellipse cx="119.0" cy="305.4" rx="1.7" ry="0.8" transform="rotate(57 119.0 305.4)"/><ellipse cx="73.4" cy="328.7" rx="1.6" ry="0.5" transform="rotate(20 73.4 328.7)"/><ellipse cx="125.2" cy="297.1" rx="1.3" ry="0.9" transform="rotate(8 125.2 297.1)"/><ellipse cx="100.6" cy="313.4" rx="1.5" ry="0.7" transform="rotate(8 100.6 313.4)"/><ellipse cx="79.5" cy="324.6" rx="2.0" ry="0.9" transform="rotate(7 79.5 324.6)"/><ellipse cx="102.1" cy="299.6" rx="2.2" ry="0.9" transform="rotate(79 102.1 299.6)"/><ellipse cx="76.2" cy="313.7" rx="2.5" ry="0.7" transform="rotate(59 76.2 313.7)"/><ellipse cx="70.5" cy="338.8" rx="2.7" ry="0.6" transform="rotate(53 70.5 338.8)"/><ellipse cx="83.9" cy="317.6" rx="1.6" ry="0.6" transform="rotate(42 83.9 317.6)"/><ellipse cx="106.9" cy="306.5" rx="1.8" ry="0.5" transform="rotate(32 106.9 306.5)"/><ellipse cx="101.3" cy="312.6" rx="1.5" ry="0.6" transform="rotate(53 101.3 312.6)"/><ellipse cx="107.0" cy="298.4" rx="2.6" ry="0.8" transform="rotate(55 107.0 298.4)"/><ellipse cx="90.5" cy="382.2" rx="2.2" ry="0.5" transform="rotate(5 90.5 382.2)"/><ellipse cx="83.2" cy="377.8" rx="1.6" ry="0.5" transform="rotate(70 83.2 377.8)"/><ellipse cx="93.7" cy="322.6" rx="2.0" ry="0.6" transform="rotate(0 93.7 322.6)"/><ellipse cx="113.2" cy="300.2" rx="1.7" ry="0.5" transform="rotate(54 113.2 300.2)"/><ellipse cx="89.3" cy="296.5" rx="1.9" ry="0.6" transform="rotate(49 89.3 296.5)"/><ellipse cx="73.7" cy="324.1" rx="1.3" ry="0.9" transform="rotate(77 73.7 324.1)"/><ellipse cx="68.4" cy="335.6" rx="1.5" ry="0.7" transform="rotate(72 68.4 335.6)"/><ellipse cx="107.4" cy="318.5" rx="2.5" ry="0.9" transform="rotate(-5 107.4 318.5)"/><ellipse cx="76.1" cy="305.8" rx="2.2" ry="0.7" transform="rotate(96 76.1 305.8)"/><ellipse cx="112.4" cy="295.7" rx="2.0" ry="0.5" transform="rotate(28 112.4 295.7)"/><ellipse cx="116.1" cy="338.9" rx="1.9" ry="0.5" transform="rotate(58 116.1 338.9)"/><ellipse cx="117.6" cy="304.1" rx="1.3" ry="0.7" transform="rotate(95 117.6 304.1)"/><ellipse cx="85.4" cy="310.5" rx="1.8" ry="0.6" transform="rotate(43 85.4 310.5)"/><ellipse cx="95.0" cy="363.2" rx="1.4" ry="0.6" transform="rotate(80 95.0 363.2)"/><ellipse cx="122.6" cy="292.0" rx="2.0" ry="0.8" transform="rotate(87 122.6 292.0)"/><ellipse cx="100.8" cy="321.5" rx="1.6" ry="0.9" transform="rotate(55 100.8 321.5)"/><ellipse cx="101.1" cy="301.2" rx="2.4" ry="0.7" transform="rotate(55 101.1 301.2)"/><ellipse cx="58.3" cy="315.9" rx="1.9" ry="0.6" transform="rotate(37 58.3 315.9)"/><ellipse cx="116.6" cy="282.9" rx="1.3" ry="0.7" transform="rotate(73 116.6 282.9)"/><ellipse cx="92.2" cy="372.1" rx="2.4" ry="0.6" transform="rotate(122 92.2 372.1)"/><ellipse cx="126.1" cy="286.9" rx="1.9" ry="0.9" transform="rotate(25 126.1 286.9)"/><ellipse cx="80.5" cy="297.7" rx="1.6" ry="0.5" transform="rotate(58 80.5 297.7)"/><ellipse cx="114.9" cy="285.4" rx="1.3" ry="0.9" transform="rotate(13 114.9 285.4)"/><ellipse cx="83.9" cy="319.2" rx="1.5" ry="0.9" transform="rotate(28 83.9 319.2)"/><ellipse cx="86.2" cy="313.9" rx="1.2" ry="0.9" transform="rotate(79 86.2 313.9)"/><ellipse cx="76.3" cy="306.6" rx="2.5" ry="0.7" transform="rotate(73 76.3 306.6)"/><ellipse cx="78.6" cy="369.9" rx="2.3" ry="0.8" transform="rotate(46 78.6 369.9)"/><ellipse cx="93.6" cy="346.2" rx="1.8" ry="0.7" transform="rotate(-2 93.6 346.2)"/><ellipse cx="75.9" cy="339.3" rx="1.4" ry="0.8" transform="rotate(8 75.9 339.3)"/><ellipse cx="107.4" cy="324.7" rx="1.9" ry="0.9" transform="rotate(28 107.4 324.7)"/><ellipse cx="123.0" cy="302.1" rx="2.3" ry="0.9" transform="rotate(22 123.0 302.1)"/><ellipse cx="111.3" cy="320.2" rx="1.4" ry="0.6" transform="rotate(103 111.3 320.2)"/><ellipse cx="104.7" cy="316.1" rx="2.6" ry="0.8" transform="rotate(24 104.7 316.1)"/><ellipse cx="122.3" cy="291.0" rx="2.6" ry="0.9" transform="rotate(73 122.3 291.0)"/><ellipse cx="70.3" cy="358.0" rx="1.9" ry="0.5" transform="rotate(-14 70.3 358.0)"/><ellipse cx="83.3" cy="296.1" rx="2.2" ry="0.8" transform="rotate(100 83.3 296.1)"/><ellipse cx="71.4" cy="363.5" rx="2.7" ry="0.5" transform="rotate(-4 71.4 363.5)"/><ellipse cx="89.3" cy="287.9" rx="1.5" ry="0.8" transform="rotate(4 89.3 287.9)"/><ellipse cx="124.0" cy="296.5" rx="2.1" ry="0.7" transform="rotate(3 124.0 296.5)"/><ellipse cx="104.4" cy="285.2" rx="1.9" ry="0.8" transform="rotate(37 104.4 285.2)"/><ellipse cx="86.5" cy="382.6" rx="2.6" ry="0.6" transform="rotate(97 86.5 382.6)"/><ellipse cx="105.7" cy="323.9" rx="2.1" ry="0.9" transform="rotate(42 105.7 323.9)"/><ellipse cx="72.0" cy="323.2" rx="1.4" ry="0.6" transform="rotate(-4 72.0 323.2)"/><ellipse cx="87.8" cy="378.0" rx="2.7" ry="0.8" transform="rotate(98 87.8 378.0)"/><ellipse cx="64.9" cy="348.1" rx="1.4" ry="0.6" transform="rotate(6 64.9 348.1)"/><ellipse cx="110.5" cy="285.9" rx="2.4" ry="0.8" transform="rotate(-7 110.5 285.9)"/><ellipse cx="98.7" cy="334.0" rx="1.9" ry="0.6" transform="rotate(95 98.7 334.0)"/><ellipse cx="83.6" cy="314.0" rx="1.7" ry="0.5" transform="rotate(45 83.6 314.0)"/><ellipse cx="89.8" cy="314.7" rx="2.7" ry="0.7" transform="rotate(106 89.8 314.7)"/><ellipse cx="60.7" cy="311.2" rx="2.5" ry="0.8" transform="rotate(26 60.7 311.2)"/><ellipse cx="61.9" cy="329.3" rx="2.6" ry="0.5" transform="rotate(87 61.9 329.3)"/><ellipse cx="112.6" cy="317.1" rx="1.5" ry="0.6" transform="rotate(42 112.6 317.1)"/><ellipse cx="72.8" cy="344.2" rx="1.6" ry="0.8" transform="rotate(78 72.8 344.2)"/><ellipse cx="83.2" cy="347.2" rx="2.6" ry="0.8" transform="rotate(50 83.2 347.2)"/><ellipse cx="76.4" cy="386.0" rx="1.3" ry="0.8" transform="rotate(31 76.4 386.0)"/><ellipse cx="69.8" cy="335.9" rx="1.8" ry="0.9" transform="rotate(52 69.8 335.9)"/><ellipse cx="77.3" cy="314.8" rx="1.6" ry="0.5" transform="rotate(63 77.3 314.8)"/><ellipse cx="54.4" cy="332.0" rx="2.6" ry="0.8" transform="rotate(62 54.4 332.0)"/><ellipse cx="101.2" cy="337.7" rx="1.8" ry="0.6" transform="rotate(61 101.2 337.7)"/><ellipse cx="65.3" cy="315.2" rx="2.7" ry="0.8" transform="rotate(63 65.3 315.2)"/><ellipse cx="108.6" cy="348.1" rx="1.7" ry="0.5" transform="rotate(9 108.6 348.1)"/><ellipse cx="102.8" cy="316.3" rx="1.4" ry="0.9" transform="rotate(43 102.8 316.3)"/><ellipse cx="78.6" cy="310.8" rx="2.2" ry="0.7" transform="rotate(63 78.6 310.8)"/><ellipse cx="59.2" cy="304.8" rx="2.4" ry="0.8" transform="rotate(22 59.2 304.8)"/><ellipse cx="88.5" cy="304.1" rx="1.1" ry="0.8" transform="rotate(79 88.5 304.1)"/><ellipse cx="123.7" cy="292.6" rx="2.1" ry="0.8" transform="rotate(50 123.7 292.6)"/><ellipse cx="107.9" cy="315.8" rx="1.9" ry="0.7" transform="rotate(18 107.9 315.8)"/><ellipse cx="118.8" cy="294.1" rx="1.7" ry="0.5" transform="rotate(50 118.8 294.1)"/><ellipse cx="75.3" cy="331.1" rx="1.9" ry="0.5" transform="rotate(25 75.3 331.1)"/><ellipse cx="72.1" cy="387.0" rx="2.3" ry="0.8" transform="rotate(3 72.1 387.0)"/><ellipse cx="73.1" cy="300.3" rx="2.4" ry="0.7" transform="rotate(55 73.1 300.3)"/><ellipse cx="75.3" cy="293.5" rx="2.7" ry="0.5" transform="rotate(39 75.3 293.5)"/><ellipse cx="95.3" cy="299.6" rx="2.3" ry="0.6" transform="rotate(67 95.3 299.6)"/><ellipse cx="97.0" cy="313.6" rx="2.6" ry="0.8" transform="rotate(40 97.0 313.6)"/><ellipse cx="73.2" cy="323.3" rx="1.9" ry="0.7" transform="rotate(43 73.2 323.3)"/><ellipse cx="73.4" cy="300.7" rx="2.6" ry="0.6" transform="rotate(101 73.4 300.7)"/><ellipse cx="75.2" cy="379.2" rx="1.9" ry="0.5" transform="rotate(74 75.2 379.2)"/><ellipse cx="103.5" cy="345.2" rx="2.3" ry="0.8" transform="rotate(78 103.5 345.2)"/><ellipse cx="116.6" cy="304.8" rx="1.3" ry="0.7" transform="rotate(10 116.6 304.8)"/><ellipse cx="77.4" cy="319.5" rx="2.4" ry="0.8" transform="rotate(39 77.4 319.5)"/><ellipse cx="77.6" cy="310.7" rx="1.3" ry="0.6" transform="rotate(108 77.6 310.7)"/><ellipse cx="90.7" cy="311.2" rx="1.6" ry="0.6" transform="rotate(64 90.7 311.2)"/><ellipse cx="99.3" cy="321.8" rx="2.2" ry="0.9" transform="rotate(66 99.3 321.8)"/><ellipse cx="115.7" cy="289.6" rx="2.5" ry="0.6" transform="rotate(-25 115.7 289.6)"/><ellipse cx="83.6" cy="367.4" rx="2.4" ry="0.9" transform="rotate(30 83.6 367.4)"/><ellipse cx="106.2" cy="277.0" rx="2.2" ry="0.9" transform="rotate(-2 106.2 277.0)"/><ellipse cx="89.9" cy="291.8" rx="1.7" ry="0.6" transform="rotate(48 89.9 291.8)"/><ellipse cx="122.8" cy="318.3" rx="2.2" ry="0.9" transform="rotate(1 122.8 318.3)"/><ellipse cx="58.3" cy="310.2" rx="2.2" ry="0.6" transform="rotate(36 58.3 310.2)"/><ellipse cx="69.1" cy="335.7" rx="1.6" ry="0.7" transform="rotate(56 69.1 335.7)"/><ellipse cx="119.0" cy="319.5" rx="2.4" ry="0.6" transform="rotate(28 119.0 319.5)"/><ellipse cx="77.2" cy="343.1" rx="2.1" ry="0.5" transform="rotate(27 77.2 343.1)"/><ellipse cx="80.6" cy="298.3" rx="1.7" ry="0.7" transform="rotate(68 80.6 298.3)"/><ellipse cx="89.8" cy="297.1" rx="2.1" ry="0.6" transform="rotate(80 89.8 297.1)"/><ellipse cx="75.9" cy="326.4" rx="1.5" ry="0.9" transform="rotate(60 75.9 326.4)"/><ellipse cx="79.7" cy="332.7" rx="1.3" ry="0.6" transform="rotate(6 79.7 332.7)"/><ellipse cx="81.5" cy="304.4" rx="1.6" ry="0.5" transform="rotate(-14 81.5 304.4)"/><ellipse cx="88.2" cy="311.3" rx="1.7" ry="0.9" transform="rotate(59 88.2 311.3)"/><ellipse cx="106.5" cy="331.3" rx="1.8" ry="0.7" transform="rotate(27 106.5 331.3)"/><ellipse cx="113.5" cy="292.2" rx="2.6" ry="0.5" transform="rotate(23 113.5 292.2)"/><ellipse cx="92.0" cy="309.0" rx="1.3" ry="0.9" transform="rotate(52 92.0 309.0)"/><ellipse cx="97.5" cy="299.8" rx="1.3" ry="0.6" transform="rotate(64 97.5 299.8)"/><ellipse cx="85.4" cy="309.6" rx="1.7" ry="0.9" transform="rotate(55 85.4 309.6)"/><ellipse cx="66.9" cy="333.5" rx="1.3" ry="0.8" transform="rotate(75 66.9 333.5)"/><ellipse cx="76.1" cy="332.4" rx="1.2" ry="0.6" transform="rotate(19 76.1 332.4)"/><ellipse cx="79.5" cy="365.4" rx="2.5" ry="0.5" transform="rotate(38 79.5 365.4)"/><ellipse cx="110.7" cy="292.8" rx="1.9" ry="0.8" transform="rotate(64 110.7 292.8)"/><ellipse cx="87.2" cy="292.5" rx="1.9" ry="0.5" transform="rotate(82 87.2 292.5)"/><ellipse cx="105.2" cy="315.8" rx="1.5" ry="0.8" transform="rotate(55 105.2 315.8)"/><ellipse cx="81.4" cy="318.0" rx="1.7" ry="0.8" transform="rotate(50 81.4 318.0)"/><ellipse cx="90.2" cy="373.8" rx="1.2" ry="0.7" transform="rotate(13 90.2 373.8)"/><ellipse cx="125.5" cy="293.5" rx="1.5" ry="0.9" transform="rotate(16 125.5 293.5)"/><ellipse cx="125.2" cy="300.2" rx="1.1" ry="0.9" transform="rotate(19 125.2 300.2)"/><ellipse cx="102.0" cy="325.8" rx="2.7" ry="0.6" transform="rotate(42 102.0 325.8)"/><ellipse cx="69.9" cy="300.0" rx="1.8" ry="0.9" transform="rotate(1 69.9 300.0)"/><ellipse cx="74.1" cy="302.8" rx="2.4" ry="0.7" transform="rotate(24 74.1 302.8)"/><ellipse cx="111.6" cy="337.5" rx="2.2" ry="0.6" transform="rotate(4 111.6 337.5)"/><ellipse cx="94.2" cy="284.1" rx="1.3" ry="0.5" transform="rotate(92 94.2 284.1)"/><ellipse cx="76.9" cy="327.1" rx="2.2" ry="0.5" transform="rotate(-5 76.9 327.1)"/><ellipse cx="124.9" cy="276.6" rx="2.3" ry="0.6" transform="rotate(20 124.9 276.6)"/><ellipse cx="118.1" cy="285.6" rx="1.1" ry="0.5" transform="rotate(15 118.1 285.6)"/><ellipse cx="91.8" cy="327.3" rx="1.4" ry="0.6" transform="rotate(77 91.8 327.3)"/><ellipse cx="67.2" cy="293.3" rx="1.7" ry="0.9" transform="rotate(20 67.2 293.3)"/><ellipse cx="113.1" cy="338.6" rx="1.2" ry="0.6" transform="rotate(56 113.1 338.6)"/><ellipse cx="109.9" cy="333.0" rx="2.3" ry="0.6" transform="rotate(52 109.9 333.0)"/><ellipse cx="120.4" cy="300.5" rx="1.5" ry="0.9" transform="rotate(62 120.4 300.5)"/><ellipse cx="85.3" cy="300.0" rx="1.5" ry="0.7" transform="rotate(32 85.3 300.0)"/><ellipse cx="55.8" cy="309.0" rx="1.9" ry="0.6" transform="rotate(96 55.8 309.0)"/><ellipse cx="77.3" cy="336.8" rx="1.2" ry="0.9" transform="rotate(21 77.3 336.8)"/><ellipse cx="66.2" cy="298.8" rx="2.6" ry="0.6" transform="rotate(32 66.2 298.8)"/><ellipse cx="119.0" cy="335.2" rx="1.2" ry="0.9" transform="rotate(27 119.0 335.2)"/><ellipse cx="75.6" cy="305.0" rx="1.7" ry="0.7" transform="rotate(39 75.6 305.0)"/><ellipse cx="71.5" cy="352.3" rx="2.6" ry="0.9" transform="rotate(62 71.5 352.3)"/><ellipse cx="85.4" cy="308.2" rx="2.6" ry="0.9" transform="rotate(51 85.4 308.2)"/><ellipse cx="72.4" cy="358.9" rx="1.8" ry="0.5" transform="rotate(67 72.4 358.9)"/><ellipse cx="82.4" cy="288.8" rx="1.7" ry="0.7" transform="rotate(10 82.4 288.8)"/><ellipse cx="103.2" cy="339.1" rx="2.1" ry="0.5" transform="rotate(-6 103.2 339.1)"/><ellipse cx="116.7" cy="300.7" rx="1.5" ry="0.8" transform="rotate(51 116.7 300.7)"/><ellipse cx="84.7" cy="378.5" rx="2.5" ry="0.9" transform="rotate(32 84.7 378.5)"/><ellipse cx="96.8" cy="293.2" rx="1.7" ry="0.9" transform="rotate(61 96.8 293.2)"/><ellipse cx="74.1" cy="324.0" rx="2.3" ry="0.5" transform="rotate(75 74.1 324.0)"/><ellipse cx="64.3" cy="368.8" rx="1.5" ry="0.6" transform="rotate(7 64.3 368.8)"/><ellipse cx="66.4" cy="332.4" rx="2.3" ry="0.5" transform="rotate(-35 66.4 332.4)"/><ellipse cx="119.8" cy="308.7" rx="2.5" ry="0.8" transform="rotate(61 119.8 308.7)"/><ellipse cx="88.1" cy="302.0" rx="1.8" ry="0.8" transform="rotate(-17 88.1 302.0)"/><ellipse cx="98.8" cy="282.2" rx="2.5" ry="0.6" transform="rotate(34 98.8 282.2)"/><ellipse cx="91.8" cy="340.2" rx="1.4" ry="0.6" transform="rotate(81 91.8 340.2)"/><ellipse cx="76.6" cy="388.6" rx="1.4" ry="0.6" transform="rotate(81 76.6 388.6)"/><ellipse cx="106.9" cy="352.8" rx="1.7" ry="0.7" transform="rotate(41 106.9 352.8)"/><ellipse cx="120.4" cy="284.2" rx="1.7" ry="0.8" transform="rotate(19 120.4 284.2)"/><ellipse cx="74.6" cy="303.0" rx="1.7" ry="0.6" transform="rotate(54 74.6 303.0)"/><ellipse cx="78.2" cy="354.4" rx="2.7" ry="0.5" transform="rotate(32 78.2 354.4)"/><ellipse cx="100.4" cy="309.4" rx="2.3" ry="0.6" transform="rotate(95 100.4 309.4)"/><ellipse cx="61.7" cy="353.2" rx="2.0" ry="0.9" transform="rotate(3 61.7 353.2)"/><ellipse cx="76.2" cy="306.9" rx="1.7" ry="0.7" transform="rotate(-2 76.2 306.9)"/><ellipse cx="90.2" cy="328.6" rx="2.0" ry="0.8" transform="rotate(35 90.2 328.6)"/><ellipse cx="80.0" cy="306.6" rx="1.6" ry="0.6" transform="rotate(59 80.0 306.6)"/><ellipse cx="77.9" cy="288.1" rx="1.4" ry="0.5" transform="rotate(2 77.9 288.1)"/><ellipse cx="107.6" cy="279.9" rx="1.4" ry="0.9" transform="rotate(32 107.6 279.9)"/><ellipse cx="107.5" cy="280.5" rx="1.4" ry="0.8" transform="rotate(-22 107.5 280.5)"/><ellipse cx="88.6" cy="321.3" rx="1.4" ry="0.9" transform="rotate(78 88.6 321.3)"/><ellipse cx="53.5" cy="337.7" rx="1.4" ry="0.7" transform="rotate(12 53.5 337.7)"/><ellipse cx="124.3" cy="302.9" rx="2.3" ry="0.9" transform="rotate(79 124.3 302.9)"/><ellipse cx="96.6" cy="357.4" rx="2.5" ry="0.7" transform="rotate(16 96.6 357.4)"/><ellipse cx="117.0" cy="320.5" rx="1.6" ry="0.5" transform="rotate(46 117.0 320.5)"/><ellipse cx="102.4" cy="296.0" rx="1.8" ry="0.9" transform="rotate(55 102.4 296.0)"/><ellipse cx="112.3" cy="299.1" rx="2.1" ry="0.8" transform="rotate(100 112.3 299.1)"/><ellipse cx="70.6" cy="326.9" rx="2.1" ry="0.8" transform="rotate(15 70.6 326.9)"/><ellipse cx="92.2" cy="318.7" rx="2.1" ry="0.7" transform="rotate(43 92.2 318.7)"/><ellipse cx="90.8" cy="330.1" rx="1.6" ry="0.5" transform="rotate(72 90.8 330.1)"/><ellipse cx="78.8" cy="296.4" rx="2.4" ry="0.7" transform="rotate(34 78.8 296.4)"/><ellipse cx="114.4" cy="324.8" rx="1.2" ry="0.7" transform="rotate(-54 114.4 324.8)"/><ellipse cx="90.8" cy="355.7" rx="1.6" ry="0.5" transform="rotate(28 90.8 355.7)"/><ellipse cx="115.0" cy="341.4" rx="1.7" ry="0.6" transform="rotate(105 115.0 341.4)"/><ellipse cx="74.4" cy="389.5" rx="1.4" ry="0.8" transform="rotate(54 74.4 389.5)"/><ellipse cx="68.1" cy="326.8" rx="2.1" ry="0.8" transform="rotate(99 68.1 326.8)"/><ellipse cx="104.4" cy="321.8" rx="1.4" ry="0.9" transform="rotate(63 104.4 321.8)"/><ellipse cx="120.7" cy="312.8" rx="1.9" ry="0.9" transform="rotate(-4 120.7 312.8)"/><ellipse cx="100.0" cy="322.0" rx="1.5" ry="0.6" transform="rotate(12 100.0 322.0)"/><ellipse cx="97.2" cy="357.1" rx="2.2" ry="0.9" transform="rotate(122 97.2 357.1)"/><ellipse cx="55.4" cy="332.5" rx="1.3" ry="0.7" transform="rotate(85 55.4 332.5)"/><ellipse cx="121.5" cy="316.8" rx="1.7" ry="0.5" transform="rotate(73 121.5 316.8)"/><ellipse cx="125.2" cy="286.0" rx="2.1" ry="0.6" transform="rotate(27 125.2 286.0)"/><ellipse cx="104.6" cy="304.5" rx="2.6" ry="0.7" transform="rotate(20 104.6 304.5)"/><ellipse cx="57.9" cy="309.1" rx="2.5" ry="0.7" transform="rotate(95 57.9 309.1)"/><ellipse cx="78.8" cy="295.2" rx="1.3" ry="0.6" transform="rotate(27 78.8 295.2)"/><ellipse cx="99.0" cy="339.5" rx="2.7" ry="0.9" transform="rotate(17 99.0 339.5)"/><ellipse cx="67.8" cy="331.8" rx="1.6" ry="0.7" transform="rotate(-16 67.8 331.8)"/><ellipse cx="85.6" cy="321.5" rx="1.1" ry="0.5" transform="rotate(10 85.6 321.5)"/><ellipse cx="70.0" cy="346.1" rx="2.0" ry="0.7" transform="rotate(39 70.0 346.1)"/><ellipse cx="80.9" cy="291.9" rx="2.4" ry="0.9" transform="rotate(31 80.9 291.9)"/><ellipse cx="98.3" cy="319.4" rx="2.3" ry="0.7" transform="rotate(54 98.3 319.4)"/><ellipse cx="126.5" cy="294.2" rx="2.7" ry="0.9" transform="rotate(84 126.5 294.2)"/><ellipse cx="92.6" cy="337.0" rx="1.5" ry="0.6" transform="rotate(48 92.6 337.0)"/><ellipse cx="89.1" cy="332.5" rx="2.1" ry="0.9" transform="rotate(127 89.1 332.5)"/><ellipse cx="70.9" cy="325.4" rx="2.3" ry="0.7" transform="rotate(19 70.9 325.4)"/><ellipse cx="88.7" cy="289.6" rx="2.0" ry="0.7" transform="rotate(81 88.7 289.6)"/><ellipse cx="94.7" cy="285.9" rx="2.1" ry="0.5" transform="rotate(15 94.7 285.9)"/><ellipse cx="116.7" cy="336.0" rx="1.3" ry="0.9" transform="rotate(44 116.7 336.0)"/><ellipse cx="67.7" cy="343.9" rx="1.6" ry="0.6" transform="rotate(24 67.7 343.9)"/><ellipse cx="108.6" cy="318.3" rx="2.2" ry="0.9" transform="rotate(26 108.6 318.3)"/><ellipse cx="89.4" cy="357.1" rx="2.7" ry="0.5" transform="rotate(7 89.4 357.1)"/><ellipse cx="95.2" cy="325.2" rx="1.9" ry="0.5" transform="rotate(-2 95.2 325.2)"/><ellipse cx="91.0" cy="372.8" rx="1.6" ry="0.8" transform="rotate(76 91.0 372.8)"/><ellipse cx="90.7" cy="346.2" rx="1.8" ry="0.5" transform="rotate(19 90.7 346.2)"/><ellipse cx="95.2" cy="368.7" rx="2.3" ry="0.8" transform="rotate(38 95.2 368.7)"/><ellipse cx="64.8" cy="367.3" rx="2.0" ry="0.6" transform="rotate(28 64.8 367.3)"/><ellipse cx="103.4" cy="323.8" rx="2.0" ry="0.9" transform="rotate(71 103.4 323.8)"/><ellipse cx="80.1" cy="287.4" rx="2.2" ry="0.7" transform="rotate(16 80.1 287.4)"/><ellipse cx="93.9" cy="336.1" rx="2.4" ry="0.9" transform="rotate(67 93.9 336.1)"/><ellipse cx="93.7" cy="292.6" rx="2.4" ry="0.5" transform="rotate(59 93.7 292.6)"/><ellipse cx="86.2" cy="346.0" rx="1.3" ry="0.7" transform="rotate(53 86.2 346.0)"/><ellipse cx="102.2" cy="306.8" rx="2.3" ry="0.7" transform="rotate(83 102.2 306.8)"/><ellipse cx="87.6" cy="371.9" rx="1.5" ry="0.7" transform="rotate(22 87.6 371.9)"/><ellipse cx="119.1" cy="315.9" rx="1.5" ry="0.8" transform="rotate(61 119.1 315.9)"/><ellipse cx="91.1" cy="342.9" rx="1.5" ry="0.6" transform="rotate(19 91.1 342.9)"/><ellipse cx="78.9" cy="332.1" rx="1.7" ry="0.6" transform="rotate(43 78.9 332.1)"/><ellipse cx="70.7" cy="341.4" rx="1.7" ry="0.6" transform="rotate(125 70.7 341.4)"/><ellipse cx="73.6" cy="334.2" rx="2.5" ry="0.6" transform="rotate(23 73.6 334.2)"/><ellipse cx="115.6" cy="300.8" rx="2.2" ry="0.7" transform="rotate(89 115.6 300.8)"/><ellipse cx="86.9" cy="319.5" rx="1.9" ry="0.9" transform="rotate(17 86.9 319.5)"/><ellipse cx="77.2" cy="378.2" rx="2.4" ry="0.9" transform="rotate(27 77.2 378.2)"/><ellipse cx="71.9" cy="341.1" rx="1.9" ry="0.7" transform="rotate(82 71.9 341.1)"/><ellipse cx="101.1" cy="306.0" rx="1.9" ry="0.5" transform="rotate(17 101.1 306.0)"/><ellipse cx="97.6" cy="353.9" rx="2.7" ry="0.9" transform="rotate(34 97.6 353.9)"/><ellipse cx="56.5" cy="349.3" rx="2.7" ry="0.5" transform="rotate(29 56.5 349.3)"/><ellipse cx="69.6" cy="344.1" rx="2.4" ry="0.9" transform="rotate(47 69.6 344.1)"/><ellipse cx="97.0" cy="332.6" rx="1.6" ry="0.8" transform="rotate(98 97.0 332.6)"/><ellipse cx="81.6" cy="382.1" rx="2.2" ry="0.9" transform="rotate(73 81.6 382.1)"/><ellipse cx="89.9" cy="377.3" rx="1.2" ry="0.8" transform="rotate(24 89.9 377.3)"/><ellipse cx="115.1" cy="344.3" rx="2.1" ry="0.7" transform="rotate(59 115.1 344.3)"/><ellipse cx="93.1" cy="310.7" rx="2.7" ry="0.6" transform="rotate(22 93.1 310.7)"/><ellipse cx="60.2" cy="324.1" rx="2.3" ry="0.5" transform="rotate(51 60.2 324.1)"/><ellipse cx="103.9" cy="356.3" rx="1.4" ry="0.5" transform="rotate(58 103.9 356.3)"/><ellipse cx="71.7" cy="338.8" rx="2.0" ry="0.7" transform="rotate(53 71.7 338.8)"/><ellipse cx="104.7" cy="308.9" rx="2.4" ry="0.5" transform="rotate(17 104.7 308.9)"/><ellipse cx="73.3" cy="341.1" rx="2.4" ry="0.8" transform="rotate(53 73.3 341.1)"/><ellipse cx="124.1" cy="299.8" rx="1.7" ry="0.5" transform="rotate(39 124.1 299.8)"/><ellipse cx="79.9" cy="307.7" rx="2.3" ry="0.9" transform="rotate(82 79.9 307.7)"/><ellipse cx="91.9" cy="342.3" rx="2.6" ry="0.6" transform="rotate(68 91.9 342.3)"/><ellipse cx="72.4" cy="343.6" rx="1.4" ry="0.6" transform="rotate(16 72.4 343.6)"/><ellipse cx="123.5" cy="313.2" rx="2.2" ry="0.7" transform="rotate(33 123.5 313.2)"/><ellipse cx="90.3" cy="326.4" rx="1.9" ry="0.7" transform="rotate(35 90.3 326.4)"/><ellipse cx="126.2" cy="286.6" rx="1.7" ry="0.5" transform="rotate(97 126.2 286.6)"/><ellipse cx="114.3" cy="273.7" rx="1.4" ry="0.6" transform="rotate(57 114.3 273.7)"/><ellipse cx="79.9" cy="335.8" rx="1.7" ry="0.8" transform="rotate(23 79.9 335.8)"/><ellipse cx="84.5" cy="286.3" rx="2.4" ry="0.7" transform="rotate(-5 84.5 286.3)"/><ellipse cx="92.4" cy="287.4" rx="2.6" ry="0.8" transform="rotate(95 92.4 287.4)"/><ellipse cx="105.5" cy="331.3" rx="1.7" ry="0.6" transform="rotate(23 105.5 331.3)"/><ellipse cx="77.3" cy="329.0" rx="1.4" ry="0.5" transform="rotate(18 77.3 329.0)"/><ellipse cx="91.0" cy="308.6" rx="1.6" ry="0.7" transform="rotate(16 91.0 308.6)"/><ellipse cx="70.4" cy="338.9" rx="1.9" ry="0.6" transform="rotate(74 70.4 338.9)"/><ellipse cx="109.0" cy="303.6" rx="2.0" ry="0.6" transform="rotate(19 109.0 303.6)"/><ellipse cx="94.8" cy="357.8" rx="1.5" ry="0.9" transform="rotate(59 94.8 357.8)"/><ellipse cx="92.8" cy="327.8" rx="2.5" ry="0.7" transform="rotate(61 92.8 327.8)"/><ellipse cx="79.2" cy="327.4" rx="2.2" ry="0.8" transform="rotate(77 79.2 327.4)"/><ellipse cx="98.5" cy="343.6" rx="2.7" ry="0.9" transform="rotate(83 98.5 343.6)"/><ellipse cx="86.4" cy="307.5" rx="1.4" ry="0.9" transform="rotate(-73 86.4 307.5)"/><ellipse cx="100.0" cy="338.4" rx="1.2" ry="0.7" transform="rotate(32 100.0 338.4)"/><ellipse cx="102.5" cy="298.7" rx="2.2" ry="0.9" transform="rotate(-0 102.5 298.7)"/><ellipse cx="92.7" cy="347.1" rx="1.2" ry="0.6" transform="rotate(80 92.7 347.1)"/><ellipse cx="104.6" cy="334.9" rx="2.1" ry="0.5" transform="rotate(-22 104.6 334.9)"/><ellipse cx="82.9" cy="388.8" rx="1.8" ry="0.6" transform="rotate(56 82.9 388.8)"/><ellipse cx="78.1" cy="299.1" rx="2.7" ry="0.5" transform="rotate(73 78.1 299.1)"/><ellipse cx="101.7" cy="318.4" rx="2.6" ry="0.6" transform="rotate(-3 101.7 318.4)"/><ellipse cx="102.7" cy="305.2" rx="1.1" ry="0.6" transform="rotate(52 102.7 305.2)"/><ellipse cx="105.8" cy="325.7" rx="2.4" ry="0.8" transform="rotate(60 105.8 325.7)"/><ellipse cx="96.6" cy="302.4" rx="2.6" ry="0.9" transform="rotate(41 96.6 302.4)"/><ellipse cx="78.4" cy="304.4" rx="1.6" ry="0.9" transform="rotate(50 78.4 304.4)"/><ellipse cx="74.5" cy="307.4" rx="2.2" ry="0.9" transform="rotate(-30 74.5 307.4)"/><ellipse cx="72.9" cy="318.8" rx="1.3" ry="0.8" transform="rotate(44 72.9 318.8)"/><ellipse cx="96.6" cy="352.0" rx="2.6" ry="0.9" transform="rotate(57 96.6 352.0)"/><ellipse cx="116.9" cy="331.7" rx="1.1" ry="0.6" transform="rotate(40 116.9 331.7)"/><ellipse cx="61.3" cy="350.2" rx="1.9" ry="0.9" transform="rotate(82 61.3 350.2)"/><ellipse cx="124.5" cy="284.7" rx="2.4" ry="0.9" transform="rotate(52 124.5 284.7)"/><ellipse cx="91.2" cy="341.8" rx="2.2" ry="0.9" transform="rotate(34 91.2 341.8)"/><ellipse cx="111.1" cy="305.5" rx="1.2" ry="0.8" transform="rotate(27 111.1 305.5)"/><ellipse cx="70.5" cy="314.8" rx="1.3" ry="0.5" transform="rotate(59 70.5 314.8)"/></g>
<g fill="#fbd5d5" stroke="#f0141c" stroke-width="0.85" opacity="0.95"><ellipse cx="114.3" cy="269.7" rx="2.3" ry="0.7" transform="rotate(-9 114.3 269.7)"/><ellipse cx="100.5" cy="276.6" rx="1.4" ry="1.0" transform="rotate(71 100.5 276.6)"/><ellipse cx="114.7" cy="270.0" rx="2.4" ry="0.8" transform="rotate(21 114.7 270.0)"/><ellipse cx="107.8" cy="270.4" rx="1.6" ry="0.7" transform="rotate(100 107.8 270.4)"/><ellipse cx="101.7" cy="274.5" rx="2.2" ry="0.6" transform="rotate(31 101.7 274.5)"/></g>
</g>
<path d="M104,362 l3,-1.5 M108,358 l2,-1 M96,374 l1.5,-1" stroke="#f3e43a" stroke-width="1.6" stroke-linecap="round" fill="none"/>
<path d="M56.8,318.8 C59.3,317.1 61.7,315.9 65.0,315.0 C68.3,314.1 72.7,313.0 76.5,313.2 C80.3,313.4 85.1,314.2 88.0,316.0 C90.9,317.8 92.3,320.5 94.1,323.9 C95.9,327.3 98.7,332.2 98.7,336.3 C98.7,340.4 96.9,345.4 94.1,348.7 C91.3,351.9 85.7,354.9 81.7,355.8 C77.7,356.7 73.0,354.9 70.0,354.0 C67.0,353.1 66.6,352.5 63.9,350.5 C61.2,348.5 56.6,344.9 54.0,342.0 C51.4,339.1 49.2,335.8 48.5,333.0 C47.8,330.2 48.3,327.4 49.7,325.0 C51.1,322.6 54.2,320.5 56.8,318.8 Z" fill="none" stroke="#35a037" stroke-width="2.1"/>
<path d="M127.7,299.6 C128.0,297.0 128.4,294.5 129.7,291.7 C131.0,288.9 133.3,285.5 135.6,282.7 C137.9,279.9 140.9,276.8 143.6,274.8 C146.2,272.8 149.0,271.3 151.5,270.8 C154.0,270.3 156.7,270.6 158.5,271.8 C160.3,273.0 161.4,274.8 162.4,277.8 C163.4,280.8 164.4,285.7 164.4,289.7 C164.4,293.7 163.4,298.0 162.4,301.6 C161.4,305.2 160.3,308.7 158.5,311.5 C156.7,314.3 154.3,316.8 151.5,318.5 C148.7,320.2 144.4,321.3 141.6,321.8 C138.8,322.3 136.4,322.3 134.6,321.4 C132.8,320.5 131.8,318.8 130.7,316.5 C129.6,314.2 128.6,310.3 128.1,307.5 C127.6,304.7 127.4,302.2 127.7,299.6 Z" fill="none" stroke="#35a037" stroke-width="2.1"/>
<rect x="129.7" y="357.3" width="8.2" height="7.7" fill="#ffff33"/>
<rect x="129.7" y="369.4" width="8.2" height="7.7" fill="#f3161c"/>
<text x="142.0" y="362.8" font-size="6" text-anchor="start" font-weight="bold" fill="#111" stroke="#111" stroke-width="0.18">KRAS WT</text>
<text x="142.0" y="374.8" font-size="6" text-anchor="start" font-weight="bold" fill="#111" stroke="#111" stroke-width="0.18">KRAS G12C</text>
<text x="192.0" y="9.5" font-size="13.1" text-anchor="start" font-weight="bold" fill="#111" stroke="#111" stroke-width="0.4">B</text>
<rect x="232.6" y="14.8" width="62.9" height="19.4" fill="#ffff33" stroke="#1a1a1a" stroke-width="1.15"/>
<path d="M229.4,24.5H232.6" stroke="#111" stroke-width="1.1"/>
<rect x="232.6" y="45.3" width="70.4" height="19.3" fill="#ff3311" stroke="#1a1a1a" stroke-width="1.15"/>
<path d="M229.4,54.9H232.6" stroke="#111" stroke-width="1.1"/>
<path d="M232.6,4.3V75H320.2" fill="none" stroke="#111" stroke-width="1.25"/>
<path d="M232.6,75v3.5" stroke="#111" stroke-width="1.1"/>
<text x="232.6" y="84.3" font-size="5.3" text-anchor="middle" font-weight="bold" fill="#111" stroke="#111" stroke-width="0.18">0</text>
<path d="M250.0,75v3.5" stroke="#111" stroke-width="1.1"/>
<text x="250.0" y="84.3" font-size="5.3" text-anchor="middle" font-weight="bold" fill="#111" stroke="#111" stroke-width="0.18">200</text>
<path d="M267.4,75v3.5" stroke="#111" stroke-width="1.1"/>
<text x="267.4" y="84.3" font-size="5.3" text-anchor="middle" font-weight="bold" fill="#111" stroke="#111" stroke-width="0.18">400</text>
<path d="M284.9,75v3.5" stroke="#111" stroke-width="1.1"/>
<text x="284.9" y="84.3" font-size="5.3" text-anchor="middle" font-weight="bold" fill="#111" stroke="#111" stroke-width="0.18">600</text>
<path d="M302.3,75v3.5" stroke="#111" stroke-width="1.1"/>
<text x="302.3" y="84.3" font-size="5.3" text-anchor="middle" font-weight="bold" fill="#111" stroke="#111" stroke-width="0.18">800</text>
<path d="M319.7,75v3.5" stroke="#111" stroke-width="1.1"/>
<text x="319.7" y="84.3" font-size="5.3" text-anchor="middle" font-weight="bold" fill="#111" stroke="#111" stroke-width="0.18">1,000</text>
<text x="276.2" y="91.4" font-size="5.8" text-anchor="middle" font-weight="bold" fill="#111" stroke="#111" stroke-width="0.18">Number of clonotypes</text>
<text x="214.5" y="22.1" font-size="6.8" text-anchor="middle" font-weight="bold" fill="#111" stroke="#111" stroke-width="0.18">PIK3CA</text>
<text x="214.5" y="30.0" font-size="6.8" text-anchor="middle" font-weight="bold" fill="#111" stroke="#111" stroke-width="0.18">WT</text>
<text x="214.5" y="52.4" font-size="6.8" text-anchor="middle" font-weight="bold" fill="#111" stroke="#111" stroke-width="0.18">PIK3CA</text>
<text x="214.5" y="60.4" font-size="6.8" text-anchor="middle" font-weight="bold" fill="#111" stroke="#111" stroke-width="0.18">E545K</text>
<text x="192.3" y="101.8" font-size="13.1" text-anchor="start" font-weight="bold" fill="#111" stroke="#111" stroke-width="0.4">C</text>
<rect x="232.6" y="110.4" width="67.0" height="19.2" fill="#ffff33" stroke="#1a1a1a" stroke-width="1.15"/>
<path d="M229.4,120.0H232.6" stroke="#111" stroke-width="1.1"/>
<rect x="232.6" y="140.6" width="72.1" height="19.4" fill="#ff3311" stroke="#1a1a1a" stroke-width="1.15"/>
<path d="M229.4,150.3H232.6" stroke="#111" stroke-width="1.1"/>
<path d="M232.6,101V170.2H318.8" fill="none" stroke="#111" stroke-width="1.25"/>
<path d="M232.6,170.2v3.5" stroke="#111" stroke-width="1.1"/>
<text x="232.6" y="179.6" font-size="5.3" text-anchor="middle" font-weight="bold" fill="#111" stroke="#111" stroke-width="0.18">0</text>
<path d="M249.7,170.2v3.5" stroke="#111" stroke-width="1.1"/>
<text x="249.7" y="179.6" font-size="5.3" text-anchor="middle" font-weight="bold" fill="#111" stroke="#111" stroke-width="0.18">20</text>
<path d="M266.9,170.2v3.5" stroke="#111" stroke-width="1.1"/>
<text x="266.9" y="179.6" font-size="5.3" text-anchor="middle" font-weight="bold" fill="#111" stroke="#111" stroke-width="0.18">40</text>
<path d="M284.0,170.2v3.5" stroke="#111" stroke-width="1.1"/>
<text x="284.0" y="179.6" font-size="5.3" text-anchor="middle" font-weight="bold" fill="#111" stroke="#111" stroke-width="0.18">60</text>
<path d="M301.2,170.2v3.5" stroke="#111" stroke-width="1.1"/>
<text x="301.2" y="179.6" font-size="5.3" text-anchor="middle" font-weight="bold" fill="#111" stroke="#111" stroke-width="0.18">80</text>
<path d="M318.3,170.2v3.5" stroke="#111" stroke-width="1.1"/>
<text x="318.3" y="179.6" font-size="5.3" text-anchor="middle" font-weight="bold" fill="#111" stroke="#111" stroke-width="0.18">100</text>
<text x="275.9" y="186.8" font-size="5.8" text-anchor="middle" font-weight="bold" fill="#111" stroke="#111" stroke-width="0.18">Sample diversity</text>
<text x="214.5" y="119.8" font-size="6.8" text-anchor="middle" font-weight="bold" fill="#111" stroke="#111" stroke-width="0.18">PIK3CA</text>
<text x="214.5" y="127.7" font-size="6.8" text-anchor="middle" font-weight="bold" fill="#111" stroke="#111" stroke-width="0.18">WT</text>
<text x="214.5" y="149.1" font-size="6.8" text-anchor="middle" font-weight="bold" fill="#111" stroke="#111" stroke-width="0.18">PIK3CA</text>
<text x="214.5" y="157.0" font-size="6.8" text-anchor="middle" font-weight="bold" fill="#111" stroke="#111" stroke-width="0.18">E545K</text>
<text x="192.1" y="206.5" font-size="13.1" text-anchor="start" font-weight="bold" fill="#111" stroke="#111" stroke-width="0.4">E</text>
<rect x="232.6" y="215.8" width="64.9" height="19.4" fill="#ffff33" stroke="#1a1a1a" stroke-width="1.15"/>
<path d="M229.4,225.5H232.6" stroke="#111" stroke-width="1.1"/>
<rect x="232.6" y="246.5" width="28.0" height="19.5" fill="#ff3311" stroke="#1a1a1a" stroke-width="1.15"/>
<path d="M229.4,256.2H232.6" stroke="#111" stroke-width="1.1"/>
<path d="M232.6,205.1V276.5H321.6" fill="none" stroke="#111" stroke-width="1.25"/>
<path d="M232.6,276.5v3.5" stroke="#111" stroke-width="1.1"/>
<text x="232.6" y="286.3" font-size="5.3" text-anchor="middle" font-weight="bold" fill="#111" stroke="#111" stroke-width="0.18">0</text>
<path d="M262.1,276.5v3.5" stroke="#111" stroke-width="1.1"/>
<text x="262.1" y="286.3" font-size="5.3" text-anchor="middle" font-weight="bold" fill="#111" stroke="#111" stroke-width="0.18">50</text>
<path d="M291.6,276.5v3.5" stroke="#111" stroke-width="1.1"/>
<text x="291.6" y="286.3" font-size="5.3" text-anchor="middle" font-weight="bold" fill="#111" stroke="#111" stroke-width="0.18">100</text>
<path d="M321.1,276.5v3.5" stroke="#111" stroke-width="1.1"/>
<text x="321.1" y="286.3" font-size="5.3" text-anchor="middle" font-weight="bold" fill="#111" stroke="#111" stroke-width="0.18">150</text>
<text x="277.2" y="294.5" font-size="5.8" text-anchor="middle" font-weight="bold" fill="#111" stroke="#111" stroke-width="0.18">Number of clonotypes</text>
<text x="214.4" y="227.7" font-size="6.8" text-anchor="middle" font-weight="bold" fill="#111" stroke="#111" stroke-width="0.18">KRAS</text>
<text x="214.4" y="235.8" font-size="6.8" text-anchor="middle" font-weight="bold" fill="#111" stroke="#111" stroke-width="0.18">WT</text>
<text x="214.4" y="257.7" font-size="6.8" text-anchor="middle" font-weight="bold" fill="#111" stroke="#111" stroke-width="0.18">KRAS</text>
<text x="214.4" y="266.0" font-size="6.8" text-anchor="middle" font-weight="bold" fill="#111" stroke="#111" stroke-width="0.18">G12C</text>
<text x="192.1" y="314.8" font-size="13.1" text-anchor="start" font-weight="bold" fill="#111" stroke="#111" stroke-width="0.4">F</text>
<rect x="232.6" y="322.4" width="72.1" height="19.4" fill="#ffff33" stroke="#1a1a1a" stroke-width="1.15"/>
<path d="M229.4,332.1H232.6" stroke="#111" stroke-width="1.1"/>
<rect x="232.6" y="353.3" width="17.4" height="19.4" fill="#ff3311" stroke="#1a1a1a" stroke-width="1.15"/>
<path d="M229.4,363.0H232.6" stroke="#111" stroke-width="1.1"/>
<path d="M232.6,312.3V383H320.2" fill="none" stroke="#111" stroke-width="1.25"/>
<path d="M232.6,383v3.5" stroke="#111" stroke-width="1.1"/>
<text x="232.6" y="393.2" font-size="5.3" text-anchor="middle" font-weight="bold" fill="#111" stroke="#111" stroke-width="0.18">0</text>
<path d="M254.4,383v3.5" stroke="#111" stroke-width="1.1"/>
<text x="254.4" y="393.2" font-size="5.3" text-anchor="middle" font-weight="bold" fill="#111" stroke="#111" stroke-width="0.18">20</text>
<path d="M276.1,383v3.5" stroke="#111" stroke-width="1.1"/>
<text x="276.1" y="393.2" font-size="5.3" text-anchor="middle" font-weight="bold" fill="#111" stroke="#111" stroke-width="0.18">40</text>
<path d="M297.9,383v3.5" stroke="#111" stroke-width="1.1"/>
<text x="297.9" y="393.2" font-size="5.3" text-anchor="middle" font-weight="bold" fill="#111" stroke="#111" stroke-width="0.18">60</text>
<path d="M319.7,383v3.5" stroke="#111" stroke-width="1.1"/>
<text x="319.7" y="393.2" font-size="5.3" text-anchor="middle" font-weight="bold" fill="#111" stroke="#111" stroke-width="0.18">80</text>
<text x="276.5" y="400.6" font-size="5.8" text-anchor="middle" font-weight="bold" fill="#111" stroke="#111" stroke-width="0.18">Sample diversity</text>
<text x="214.4" y="335.2" font-size="6.8" text-anchor="middle" font-weight="bold" fill="#111" stroke="#111" stroke-width="0.18">KRAS</text>
<text x="214.4" y="343.5" font-size="6.8" text-anchor="middle" font-weight="bold" fill="#111" stroke="#111" stroke-width="0.18">WT</text>
<text x="214.4" y="365.5" font-size="6.8" text-anchor="middle" font-weight="bold" fill="#111" stroke="#111" stroke-width="0.18">KRAS</text>
<text x="214.4" y="373.9" font-size="6.8" text-anchor="middle" font-weight="bold" fill="#111" stroke="#111" stroke-width="0.18">G12C</text>
<text x="340.4" y="9.5" font-size="13.1" text-anchor="start" font-weight="bold" fill="#111" stroke="#111" stroke-width="0.4">D</text>
<path d="M359.6,165.2H460.6" stroke="#cfcfcf" stroke-width="0.55" stroke-dasharray="1.6,1.2"/>
<path d="M358.40000000000003,165.2H359.6" stroke="#444" stroke-width="0.5"/>
<text x="357.4" y="166.6" font-size="4.1" text-anchor="end" fill="#111" textLength="7.98" lengthAdjust="spacing" style="text-rendering:auto" stroke="#111" stroke-width="0.1">0.00</text>
<path d="M359.6,139.3H460.6" stroke="#cfcfcf" stroke-width="0.55" stroke-dasharray="1.6,1.2"/>
<path d="M358.40000000000003,139.3H359.6" stroke="#444" stroke-width="0.5"/>
<text x="357.4" y="140.7" font-size="4.1" text-anchor="end" fill="#111" textLength="7.98" lengthAdjust="spacing" style="text-rendering:auto" stroke="#111" stroke-width="0.1">0.05</text>
<path d="M359.6,113.4H460.6" stroke="#cfcfcf" stroke-width="0.55" stroke-dasharray="1.6,1.2"/>
<path d="M358.40000000000003,113.4H359.6" stroke="#444" stroke-width="0.5"/>
<text x="357.4" y="114.8" font-size="4.1" text-anchor="end" fill="#111" textLength="7.98" lengthAdjust="spacing" style="text-rendering:auto" stroke="#111" stroke-width="0.1">0.10</text>
<path d="M359.6,87.5H460.6" stroke="#cfcfcf" stroke-width="0.55" stroke-dasharray="1.6,1.2"/>
<path d="M358.40000000000003,87.5H359.6" stroke="#444" stroke-width="0.5"/>
<text x="357.4" y="89.0" font-size="4.1" text-anchor="end" fill="#111" textLength="7.98" lengthAdjust="spacing" style="text-rendering:auto" stroke="#111" stroke-width="0.1">0.15</text>
<path d="M359.6,61.6H460.6" stroke="#cfcfcf" stroke-width="0.55" stroke-dasharray="1.6,1.2"/>
<path d="M358.40000000000003,61.6H359.6" stroke="#444" stroke-width="0.5"/>
<text x="357.4" y="63.0" font-size="4.1" text-anchor="end" fill="#111" textLength="7.98" lengthAdjust="spacing" style="text-rendering:auto" stroke="#111" stroke-width="0.1">0.20</text>
<path d="M359.6,35.7H460.6" stroke="#cfcfcf" stroke-width="0.55" stroke-dasharray="1.6,1.2"/>
<path d="M358.40000000000003,35.7H359.6" stroke="#444" stroke-width="0.5"/>
<text x="357.4" y="37.1" font-size="4.1" text-anchor="end" fill="#111" textLength="7.98" lengthAdjust="spacing" style="text-rendering:auto" stroke="#111" stroke-width="0.1">0.25</text>
<path d="M394.7,57.3 C411.9,57.3 408.2,37.0 425.4,37.0 L425.4,43.9 C408.2,43.9 411.9,57.3 394.7,57.3 Z" fill="#F8766D" opacity="0.53"/>
<path d="M394.7,57.3 C411.9,57.3 408.2,43.9 425.4,43.9 L425.4,49.5 C408.2,49.5 411.9,70.2 394.7,70.2 Z" fill="#D89000" opacity="0.53"/>
<path d="M394.7,70.2 C411.9,70.2 408.2,49.5 425.4,49.5 L425.4,55.1 C408.2,55.1 411.9,76.3 394.7,76.3 Z" fill="#A3A500" opacity="0.53"/>
<path d="M394.7,76.3 C411.9,76.3 408.2,55.1 425.4,55.1 L425.4,80.5 C408.2,80.5 411.9,87.4 394.7,87.4 Z" fill="#39B600" opacity="0.53"/>
<path d="M394.7,87.4 C411.9,87.4 408.2,80.5 425.4,80.5 L425.4,88.5 C408.2,88.5 411.9,92.9 394.7,92.9 Z" fill="#00BF7D" opacity="0.53"/>
<path d="M394.7,92.9 C411.9,92.9 408.2,88.5 425.4,88.5 L425.4,111.2 C408.2,111.2 411.9,95.7 394.7,95.7 Z" fill="#00BFC4" opacity="0.53"/>
<path d="M394.7,95.7 C411.9,95.7 408.2,111.2 425.4,111.2 L425.4,117.2 C408.2,117.2 411.9,129.2 394.7,129.2 Z" fill="#00B0F6" opacity="0.53"/>
<path d="M394.7,129.2 C411.9,129.2 408.2,117.2 425.4,117.2 L425.4,123.0 C408.2,123.0 411.9,130.8 394.7,130.8 Z" fill="#9590FF" opacity="0.53"/>
<path d="M394.7,130.8 C411.9,130.8 408.2,123.0 425.4,123.0 L425.4,130.4 C408.2,130.4 411.9,135.0 394.7,135.0 Z" fill="#E76BF3" opacity="0.53"/>
<path d="M394.7,135.0 C411.9,135.0 408.2,130.4 425.4,130.4 L425.4,165.2 C408.2,165.2 411.9,165.2 394.7,165.2 Z" fill="#FF62BC" opacity="0.53"/>
<rect x="379.7" y="57.3" width="15.0" height="12.9" fill="#D89000" stroke="#000" stroke-opacity="0.6" stroke-width="0.55"/>
<rect x="379.7" y="70.2" width="15.0" height="6.1" fill="#A3A500" stroke="#000" stroke-opacity="0.6" stroke-width="0.55"/>
<rect x="379.7" y="76.3" width="15.0" height="11.1" fill="#39B600" stroke="#000" stroke-opacity="0.6" stroke-width="0.55"/>
<rect x="379.7" y="87.4" width="15.0" height="5.5" fill="#00BF7D" stroke="#000" stroke-opacity="0.6" stroke-width="0.55"/>
<rect x="379.7" y="92.9" width="15.0" height="2.8" fill="#00BFC4" stroke="#000" stroke-opacity="0.6" stroke-width="0.55"/>
<rect x="379.7" y="95.7" width="15.0" height="33.5" fill="#00B0F6" stroke="#000" stroke-opacity="0.6" stroke-width="0.55"/>
<rect x="379.7" y="129.2" width="15.0" height="1.6" fill="#9590FF" stroke="#000" stroke-opacity="0.6" stroke-width="0.55"/>
<rect x="379.7" y="130.8" width="15.0" height="4.2" fill="#E76BF3" stroke="#000" stroke-opacity="0.6" stroke-width="0.55"/>
<rect x="379.7" y="135.0" width="15.0" height="30.2" fill="#FF62BC" stroke="#000" stroke-opacity="0.6" stroke-width="0.55"/>
<rect x="425.4" y="37.0" width="15.2" height="6.9" fill="#F8766D" stroke="#000" stroke-opacity="0.6" stroke-width="0.55"/>
<rect x="425.4" y="43.9" width="15.2" height="5.6" fill="#D89000" stroke="#000" stroke-opacity="0.6" stroke-width="0.55"/>
<rect x="425.4" y="49.5" width="15.2" height="5.6" fill="#A3A500" stroke="#000" stroke-opacity="0.6" stroke-width="0.55"/>
<rect x="425.4" y="55.1" width="15.2" height="25.4" fill="#39B600" stroke="#000" stroke-opacity="0.6" stroke-width="0.55"/>
<rect x="425.4" y="80.5" width="15.2" height="8.0" fill="#00BF7D" stroke="#000" stroke-opacity="0.6" stroke-width="0.55"/>
<rect x="425.4" y="88.5" width="15.2" height="22.7" fill="#00BFC4" stroke="#000" stroke-opacity="0.6" stroke-width="0.55"/>
<rect x="425.4" y="111.2" width="15.2" height="6.0" fill="#00B0F6" stroke="#000" stroke-opacity="0.6" stroke-width="0.55"/>
<rect x="425.4" y="117.2" width="15.2" height="5.8" fill="#9590FF" stroke="#000" stroke-opacity="0.6" stroke-width="0.55"/>
<rect x="425.4" y="123.0" width="15.2" height="7.4" fill="#E76BF3" stroke="#000" stroke-opacity="0.6" stroke-width="0.55"/>
<rect x="425.4" y="130.4" width="15.2" height="34.8" fill="#FF62BC" stroke="#000" stroke-opacity="0.6" stroke-width="0.55"/>
<path d="M359.6,30.4V172.0H460.6" fill="none" stroke="#6a6a6a" stroke-width="0.75"/>
<text x="345.0" y="100.8" font-size="4.3" text-anchor="middle" fill="#333" textLength="19.84" lengthAdjust="spacing" style="text-rendering:auto" transform="rotate(-90 345.0 100.8)">Proportion</text>
<text x="388.4" y="181.6" font-size="7.2" text-anchor="middle" font-weight="bold" fill="#111" >PIK3CA</text>
<text x="388.4" y="189.7" font-size="7.2" text-anchor="middle" font-weight="bold" fill="#111" >WT</text>
<text x="434.0" y="181.7" font-size="7.2" text-anchor="middle" font-weight="bold" fill="#111" >PIK3CA</text>
<text x="434.0" y="190.3" font-size="7.2" text-anchor="middle" font-weight="bold" fill="#111" >E545K</text>
<text x="467.0" y="70.8" font-size="4.2" text-anchor="start" fill="#111" textLength="18.91" lengthAdjust="spacing" style="text-rendering:auto" >Clonotype</text>
<rect x="467.2" y="73.50" width="5" height="6.17" fill="#F8766D" stroke="#000" stroke-opacity="0.4" stroke-width="0.45"/>
<text x="475.0" y="77.9" font-size="3.45" text-anchor="start" fill="#111" textLength="24.54" lengthAdjust="spacing" style="text-rendering:auto" >CASSLEVFYTF</text>
<rect x="467.2" y="79.67" width="5" height="6.17" fill="#D89000" stroke="#000" stroke-opacity="0.4" stroke-width="0.45"/>
<text x="475.0" y="84.1" font-size="3.45" text-anchor="start" fill="#111" textLength="32.79" lengthAdjust="spacing" style="text-rendering:auto" >CASSLGAPHAEQYF</text>
<rect x="467.2" y="85.84" width="5" height="6.17" fill="#A3A500" stroke="#000" stroke-opacity="0.4" stroke-width="0.45"/>
<text x="475.0" y="90.2" font-size="3.45" text-anchor="start" fill="#111" textLength="33.93" lengthAdjust="spacing" style="text-rendering:auto" >CASSPLGGGRGQYF</text>
<rect x="467.2" y="92.01" width="5" height="6.17" fill="#39B600" stroke="#000" stroke-opacity="0.4" stroke-width="0.45"/>
<text x="475.0" y="96.4" font-size="3.45" text-anchor="start" fill="#111" textLength="43.71" lengthAdjust="spacing" style="text-rendering:auto" >CASSPSGGGAGVNQTQYF</text>
<rect x="467.2" y="98.18" width="5" height="6.17" fill="#00BF7D" stroke="#000" stroke-opacity="0.4" stroke-width="0.45"/>
<text x="475.0" y="102.6" font-size="3.45" text-anchor="start" fill="#111" textLength="28.37" lengthAdjust="spacing" style="text-rendering:auto" >CASSRGGQELFF</text>
<rect x="467.2" y="104.35" width="5" height="6.17" fill="#00BFC4" stroke="#000" stroke-opacity="0.4" stroke-width="0.45"/>
<text x="475.0" y="108.7" font-size="3.45" text-anchor="start" fill="#111" textLength="32.59" lengthAdjust="spacing" style="text-rendering:auto" >CASSYGHPNTEAFF</text>
<rect x="467.2" y="110.52" width="5" height="6.17" fill="#00B0F6" stroke="#000" stroke-opacity="0.4" stroke-width="0.45"/>
<text x="475.0" y="114.9" font-size="3.45" text-anchor="start" fill="#111" textLength="36.23" lengthAdjust="spacing" style="text-rendering:auto" >CSARDGGEGTDTQYF</text>
<rect x="467.2" y="116.69" width="5" height="6.17" fill="#9590FF" stroke="#000" stroke-opacity="0.4" stroke-width="0.45"/>
<text x="475.0" y="121.1" font-size="3.45" text-anchor="start" fill="#111" textLength="38.53" lengthAdjust="spacing" style="text-rendering:auto" >CSARDGGGRGTGELFF</text>
<rect x="467.2" y="122.86" width="5" height="6.17" fill="#E76BF3" stroke="#000" stroke-opacity="0.4" stroke-width="0.45"/>
<text x="475.0" y="127.2" font-size="3.45" text-anchor="start" fill="#111" textLength="35.46" lengthAdjust="spacing" style="text-rendering:auto" >CSARGDRGYTGELFF</text>
<rect x="467.2" y="129.03" width="5" height="6.17" fill="#FF62BC" stroke="#000" stroke-opacity="0.4" stroke-width="0.45"/>
<text x="475.0" y="133.4" font-size="3.45" text-anchor="start" fill="#111" textLength="33.10" lengthAdjust="spacing" style="text-rendering:auto" >CSARTGGSTDTQYF</text>
<path d="M442.7,100.4 L450.8,96.4 L450.8,98.9 L456,98.9 L456,101.9 L450.8,101.9 L450.8,104.6 Z" fill="#000"/>
<text x="340.5" y="238.5" font-size="13.1" text-anchor="start" font-weight="bold" fill="#111" stroke="#111" stroke-width="0.4">G</text>
<path d="M357.5,371.0H459" stroke="#cfcfcf" stroke-width="0.55" stroke-dasharray="1.6,1.2"/>
<path d="M356.3,371.0H357.5" stroke="#444" stroke-width="0.5"/>
<text x="355.3" y="372.4" font-size="4.1" text-anchor="end" fill="#111" textLength="5.70" lengthAdjust="spacing" style="text-rendering:auto" stroke="#111" stroke-width="0.1">0.0</text>
<path d="M357.5,333.4H459" stroke="#cfcfcf" stroke-width="0.55" stroke-dasharray="1.6,1.2"/>
<path d="M356.3,333.4H357.5" stroke="#444" stroke-width="0.5"/>
<text x="355.3" y="334.8" font-size="4.1" text-anchor="end" fill="#111" textLength="5.70" lengthAdjust="spacing" style="text-rendering:auto" stroke="#111" stroke-width="0.1">0.2</text>
<path d="M357.5,295.8H459" stroke="#cfcfcf" stroke-width="0.55" stroke-dasharray="1.6,1.2"/>
<path d="M356.3,295.8H357.5" stroke="#444" stroke-width="0.5"/>
<text x="355.3" y="297.2" font-size="4.1" text-anchor="end" fill="#111" textLength="5.70" lengthAdjust="spacing" style="text-rendering:auto" stroke="#111" stroke-width="0.1">0.4</text>
<path d="M357.5,258.2H459" stroke="#cfcfcf" stroke-width="0.55" stroke-dasharray="1.6,1.2"/>
<path d="M356.3,258.2H357.5" stroke="#444" stroke-width="0.5"/>
<text x="355.3" y="259.6" font-size="4.1" text-anchor="end" fill="#111" textLength="5.70" lengthAdjust="spacing" style="text-rendering:auto" stroke="#111" stroke-width="0.1">0.6</text>
<path d="M392.8,365.9 C409.3,365.9 405.7,249.2 422.2,249.2 L422.2,256.5 C405.7,256.5 409.3,365.9 392.8,365.9 Z" fill="#F8766D" opacity="0.46"/>
<path d="M392.8,365.9 C409.3,365.9 405.7,256.5 422.2,256.5 L422.2,266.9 C405.7,266.9 409.3,365.9 392.8,365.9 Z" fill="#D89000" opacity="0.46"/>
<path d="M392.8,365.9 C409.3,365.9 405.7,266.9 422.2,266.9 L422.2,274.5 C405.7,274.5 409.3,365.9 392.8,365.9 Z" fill="#A3A500" opacity="0.46"/>
<path d="M392.8,365.9 C409.3,365.9 405.7,274.5 422.2,274.5 L422.2,281.9 C405.7,281.9 409.3,365.9 392.8,365.9 Z" fill="#39B600" opacity="0.46"/>
<path d="M392.8,365.9 C409.3,365.9 405.7,281.9 422.2,281.9 L422.2,300.4 C405.7,300.4 409.3,365.9 392.8,365.9 Z" fill="#00BF7D" opacity="0.46"/>
<path d="M392.8,365.9 C409.3,365.9 405.7,300.4 422.2,300.4 L422.2,308.0 C405.7,308.0 409.3,365.9 392.8,365.9 Z" fill="#00BFC4" opacity="0.46"/>
<path d="M392.8,365.9 C409.3,365.9 405.7,308.0 422.2,308.0 L422.2,314.0 C405.7,314.0 409.3,371.0 392.8,371.0 Z" fill="#00B0F6" opacity="0.46"/>
<path d="M392.8,371.0 C409.3,371.0 405.7,314.0 422.2,314.0 L422.2,349.0 C405.7,349.0 409.3,371.0 392.8,371.0 Z" fill="#9590FF" opacity="0.46"/>
<path d="M392.8,371.0 C409.3,371.0 405.7,349.0 422.2,349.0 L422.2,356.6 C405.7,356.6 409.3,371.0 392.8,371.0 Z" fill="#E76BF3" opacity="0.46"/>
<path d="M392.8,371.0 C409.3,371.0 405.7,356.6 422.2,356.6 L422.2,371.0 C405.7,371.0 409.3,371.0 392.8,371.0 Z" fill="#FF62BC" opacity="0.46"/>
<rect x="377" y="365.9" width="15.8" height="5.1" fill="#00B0F6" stroke="#000" stroke-opacity="0.6" stroke-width="0.55"/>
<rect x="422.2" y="249.2" width="15.7" height="7.3" fill="#F8766D" stroke="#000" stroke-opacity="0.6" stroke-width="0.55"/>
<rect x="422.2" y="256.5" width="15.7" height="10.4" fill="#D89000" stroke="#000" stroke-opacity="0.6" stroke-width="0.55"/>
<rect x="422.2" y="266.9" width="15.7" height="7.6" fill="#A3A500" stroke="#000" stroke-opacity="0.6" stroke-width="0.55"/>
<rect x="422.2" y="274.5" width="15.7" height="7.4" fill="#39B600" stroke="#000" stroke-opacity="0.6" stroke-width="0.55"/>
<rect x="422.2" y="281.9" width="15.7" height="18.5" fill="#00BF7D" stroke="#000" stroke-opacity="0.6" stroke-width="0.55"/>
<rect x="422.2" y="300.4" width="15.7" height="7.6" fill="#00BFC4" stroke="#000" stroke-opacity="0.6" stroke-width="0.55"/>
<rect x="422.2" y="308.0" width="15.7" height="6.0" fill="#00B0F6" stroke="#000" stroke-opacity="0.6" stroke-width="0.55"/>
<rect x="422.2" y="314.0" width="15.7" height="35.0" fill="#9590FF" stroke="#000" stroke-opacity="0.6" stroke-width="0.55"/>
<rect x="422.2" y="349.0" width="15.7" height="7.6" fill="#E76BF3" stroke="#000" stroke-opacity="0.6" stroke-width="0.55"/>
<rect x="422.2" y="356.6" width="15.7" height="14.4" fill="#FF62BC" stroke="#000" stroke-opacity="0.6" stroke-width="0.55"/>
<path d="M357.5,243.8V376.4H459" fill="none" stroke="#6a6a6a" stroke-width="0.75"/>
<text x="346.9" y="310.2" font-size="4.3" text-anchor="middle" fill="#333" textLength="19.84" lengthAdjust="spacing" style="text-rendering:auto" transform="rotate(-90 346.9 310.2)">Proportion</text>
<text x="385.0" y="387.0" font-size="7.4" text-anchor="middle" font-weight="bold" fill="#111" >KRAS</text>
<text x="385.0" y="396.5" font-size="7.4" text-anchor="middle" font-weight="bold" fill="#111" >WT</text>
<text x="430.0" y="387.0" font-size="7.4" text-anchor="middle" font-weight="bold" fill="#111" >KRAS</text>
<text x="430.0" y="396.5" font-size="7.4" text-anchor="middle" font-weight="bold" fill="#111" >G12C</text>
<text x="463.8" y="280.9" font-size="4.2" text-anchor="start" fill="#111" textLength="18.91" lengthAdjust="spacing" style="text-rendering:auto" >Clonotype</text>
<rect x="464" y="283.60" width="5" height="5.90" fill="#F8766D" stroke="#000" stroke-opacity="0.4" stroke-width="0.45"/>
<text x="471.8" y="287.9" font-size="3.2" text-anchor="start" fill="#111" textLength="33.78" lengthAdjust="spacing" style="text-rendering:auto" >CASGTDNANNQPQHF</text>
<rect x="464" y="289.50" width="5" height="5.90" fill="#D89000" stroke="#000" stroke-opacity="0.4" stroke-width="0.45"/>
<text x="471.8" y="293.8" font-size="3.2" text-anchor="start" fill="#111" textLength="33.78" lengthAdjust="spacing" style="text-rendering:auto" >CASRNGGGPTSPQHF</text>
<rect x="464" y="295.40" width="5" height="5.90" fill="#A3A500" stroke="#000" stroke-opacity="0.4" stroke-width="0.45"/>
<text x="471.8" y="299.7" font-size="3.2" text-anchor="start" fill="#111" textLength="32.37" lengthAdjust="spacing" style="text-rendering:auto" >CASSLGPSSSYEQYF</text>
<rect x="464" y="301.30" width="5" height="5.90" fill="#39B600" stroke="#000" stroke-opacity="0.4" stroke-width="0.45"/>
<text x="471.8" y="305.6" font-size="3.2" text-anchor="start" fill="#111" textLength="32.90" lengthAdjust="spacing" style="text-rendering:auto" >CASSPGLAGQETQYF</text>
<rect x="464" y="307.20" width="5" height="5.90" fill="#00BF7D" stroke="#000" stroke-opacity="0.4" stroke-width="0.45"/>
<text x="471.8" y="311.5" font-size="3.2" text-anchor="start" fill="#111" textLength="27.38" lengthAdjust="spacing" style="text-rendering:auto" >CATGTAVEVTQHF</text>
<rect x="464" y="313.10" width="5" height="5.90" fill="#00BFC4" stroke="#000" stroke-opacity="0.4" stroke-width="0.45"/>
<text x="471.8" y="317.4" font-size="3.2" text-anchor="start" fill="#111" textLength="25.54" lengthAdjust="spacing" style="text-rendering:auto" >CSARAVGIGQHF</text>
<rect x="464" y="319.00" width="5" height="5.90" fill="#00B0F6" stroke="#000" stroke-opacity="0.4" stroke-width="0.45"/>
<text x="471.8" y="323.2" font-size="3.2" text-anchor="start" fill="#111" textLength="38.05" lengthAdjust="spacing" style="text-rendering:auto" >CSARDVGGYSGSYEQYF</text>
<rect x="464" y="324.90" width="5" height="5.90" fill="#9590FF" stroke="#000" stroke-opacity="0.4" stroke-width="0.45"/>
<text x="471.8" y="329.2" font-size="3.2" text-anchor="start" fill="#111" textLength="35.92" lengthAdjust="spacing" style="text-rendering:auto" >CSASLGDRGARGPQHF</text>
<rect x="464" y="330.80" width="5" height="5.90" fill="#E76BF3" stroke="#000" stroke-opacity="0.4" stroke-width="0.45"/>
<text x="471.8" y="335.1" font-size="3.2" text-anchor="start" fill="#111" textLength="25.54" lengthAdjust="spacing" style="text-rendering:auto" >CSAVTPHYGYTF</text>
<rect x="464" y="336.70" width="5" height="5.90" fill="#FF62BC" stroke="#000" stroke-opacity="0.4" stroke-width="0.45"/>
<text x="471.8" y="341.0" font-size="3.2" text-anchor="start" fill="#111" textLength="27.68" lengthAdjust="spacing" style="text-rendering:auto" >CSSELAVRCTQYF</text>
</svg>
</body></html>
